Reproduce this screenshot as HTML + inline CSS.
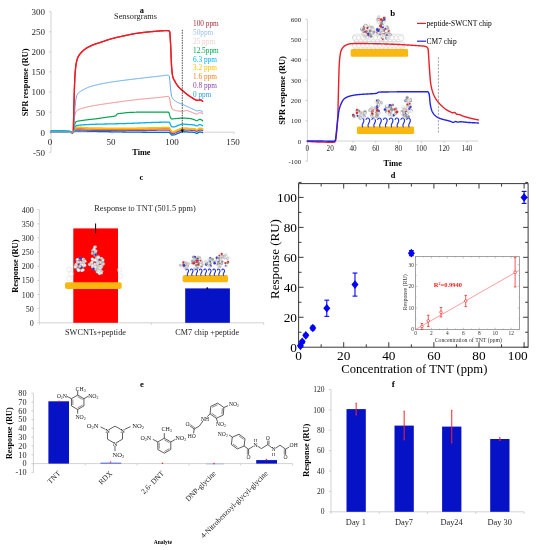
<!DOCTYPE html>
<html lang="en">
<head>
<meta charset="utf-8">
<title>SPR response figure</title>
<style>
html,body{margin:0;padding:0;background:#fff;}
body{width:538px;height:550px;overflow:hidden;font-family:"Liberation Serif","DejaVu Serif",serif;}
svg{display:block;filter:blur(0.3px);}
svg text{font-family:"Liberation Serif","DejaVu Serif",serif;}
</style>
</head>
<body>
<svg width="538" height="550" viewBox="0 0 538 550">
<rect x="0" y="0" width="538" height="550" fill="#ffffff"/>
<g id="panel-a">
<line x1="51" y1="11.69" x2="51" y2="152.28" stroke="#c6c6c6" stroke-width="0.8"/>
<line x1="51" y1="132.2" x2="234" y2="132.2" stroke="#c6c6c6" stroke-width="0.8"/>
<line x1="49" y1="152.28" x2="51" y2="152.28" stroke="#c6c6c6" stroke-width="0.8"/>
<text x="44.9" y="155.69" font-size="9" text-anchor="end" fill="#262626">-50</text>
<line x1="49" y1="132.2" x2="51" y2="132.2" stroke="#c6c6c6" stroke-width="0.8"/>
<text x="44.9" y="135.6" font-size="9" text-anchor="end" fill="#262626">0</text>
<line x1="49" y1="112.11" x2="51" y2="112.11" stroke="#c6c6c6" stroke-width="0.8"/>
<text x="44.9" y="115.51" font-size="9" text-anchor="end" fill="#262626">50</text>
<line x1="49" y1="92.03" x2="51" y2="92.03" stroke="#c6c6c6" stroke-width="0.8"/>
<text x="44.9" y="95.43" font-size="9" text-anchor="end" fill="#262626">100</text>
<line x1="49" y1="71.94" x2="51" y2="71.94" stroke="#c6c6c6" stroke-width="0.8"/>
<text x="44.9" y="75.34" font-size="9" text-anchor="end" fill="#262626">150</text>
<line x1="49" y1="51.86" x2="51" y2="51.86" stroke="#c6c6c6" stroke-width="0.8"/>
<text x="44.9" y="55.26" font-size="9" text-anchor="end" fill="#262626">200</text>
<line x1="49" y1="31.77" x2="51" y2="31.77" stroke="#c6c6c6" stroke-width="0.8"/>
<text x="44.9" y="35.17" font-size="9" text-anchor="end" fill="#262626">250</text>
<line x1="49" y1="11.69" x2="51" y2="11.69" stroke="#c6c6c6" stroke-width="0.8"/>
<text x="44.9" y="15.09" font-size="9" text-anchor="end" fill="#262626">300</text>
<line x1="51" y1="132.2" x2="51" y2="134.2" stroke="#c6c6c6" stroke-width="0.8"/>
<text x="50.1" y="145" font-size="9" text-anchor="middle" fill="#262626">0</text>
<line x1="112" y1="132.2" x2="112" y2="134.2" stroke="#c6c6c6" stroke-width="0.8"/>
<text x="111.1" y="145" font-size="9" text-anchor="middle" fill="#262626">50</text>
<line x1="173" y1="132.2" x2="173" y2="134.2" stroke="#c6c6c6" stroke-width="0.8"/>
<text x="172.1" y="145" font-size="9" text-anchor="middle" fill="#262626">100</text>
<line x1="234" y1="132.2" x2="234" y2="134.2" stroke="#c6c6c6" stroke-width="0.8"/>
<text x="233.1" y="145" font-size="9" text-anchor="middle" fill="#262626">150</text>
<text x="141.8" y="12.6" font-size="8.4" text-anchor="middle" font-weight="bold" fill="#000">a</text>
<text x="135.5" y="19.3" font-size="8.35" text-anchor="middle" fill="#262626">Sensorgrams</text>
<text x="141.4" y="154.8" font-size="8.3" text-anchor="middle" font-weight="bold" fill="#000">Time</text>
<text x="27.8" y="82.4" font-size="8.25" text-anchor="middle" font-weight="bold" fill="#000" transform="rotate(-90 27.8 82.4)">SPR response (RU)</text>
<polyline points="51,132.44 51.59,132.44 52.17,132.44 52.76,132.44 53.34,132.44 53.93,132.44 54.51,132.44 55.1,132.44 55.68,132.44 56.27,132.44 56.86,132.44 57.44,132.44 58.03,132.44 58.61,132.44 59.2,132.44 59.78,132.44 60.37,132.44 60.95,132.44 61.54,132.44 62.12,132.44 62.71,132.44 63.2,132.44 63.3,132.44 63.88,132.44 64.47,132.44 65.05,132.44 65.64,132.44 66.22,132.44 66.81,132.44 67.39,132.44 67.98,132.44 68.57,132.44 69.15,132.44 69.74,132.44 70.32,132.44 70.52,132.44 70.91,132.54 71.49,132.92 72.08,133.3 72.47,133.41 72.66,133.23 73.25,130.71 73.33,130.19 73.83,110.06 74.06,100.06 74.42,88.03 74.91,75.96 75.01,74.59 75.59,67.84 76.13,63.91 76.18,63.66 76.76,60.85 77.35,58.76 77.84,57.48 77.93,57.28 78.52,56.14 79.1,55.17 79.69,54.34 80.28,53.62 80.86,52.96 81.45,52.32 81.5,52.26 82.03,51.7 82.62,51.14 83.2,50.61 83.79,50.11 84.37,49.65 84.96,49.2 85.16,49.05 85.54,48.77 86.13,48.35 86.72,47.97 87.3,47.61 87.6,47.44 87.89,47.28 88.47,46.97 89.06,46.67 89.64,46.38 90.23,46.1 90.81,45.83 91.4,45.57 91.99,45.32 92.57,45.08 93.16,44.84 93.7,44.63 93.74,44.61 94.33,44.4 94.91,44.19 95.5,43.99 96.08,43.8 96.67,43.61 97.25,43.42 97.84,43.24 98.43,43.06 99.01,42.88 99.6,42.69 99.8,42.62 100.18,42.49 100.77,42.3 101.35,42.1 101.94,41.9 102.52,41.7 103.11,41.49 103.7,41.29 104.28,41.08 104.87,40.88 105.45,40.68 106.04,40.48 106.62,40.28 107.21,40.08 107.79,39.88 108.38,39.69 108.97,39.5 109.55,39.32 110.14,39.14 110.72,38.97 111.31,38.8 111.89,38.63 112,38.6 112.48,38.48 113.06,38.32 113.65,38.17 114.23,38.02 114.82,37.88 115.41,37.73 115.99,37.59 116.58,37.46 117.16,37.32 117.75,37.19 118.33,37.06 118.92,36.93 119.5,36.8 120.09,36.67 120.68,36.54 121.26,36.42 121.85,36.29 122.43,36.17 123.02,36.04 123.6,35.92 124.19,35.79 124.2,35.79 124.77,35.67 125.36,35.54 125.94,35.42 126.53,35.29 127.12,35.16 127.7,35.03 128.29,34.91 128.87,34.78 129.46,34.66 130.04,34.54 130.63,34.41 131.21,34.29 131.8,34.18 132.39,34.06 132.97,33.95 133.56,33.85 134.14,33.74 134.73,33.64 135.31,33.55 135.9,33.46 136.4,33.38 136.48,33.37 137.07,33.29 137.65,33.2 138.24,33.12 138.83,33.04 139.41,32.97 140,32.89 140.58,32.81 141.17,32.74 141.75,32.67 142.34,32.59 142.92,32.52 143.51,32.45 144.1,32.39 144.68,32.32 145.27,32.25 145.85,32.19 146.44,32.13 147.02,32.07 147.61,32.01 148.19,31.95 148.78,31.89 149.36,31.83 149.95,31.78 150.54,31.72 151.12,31.67 151.71,31.62 152.29,31.57 152.88,31.52 153.46,31.47 154.05,31.42 154.63,31.38 154.7,31.37 155.22,31.33 155.81,31.29 156.39,31.24 156.98,31.19 157.56,31.14 158.15,31.1 158.73,31.05 159.32,31 159.9,30.96 160.49,30.91 161.08,30.87 161.66,30.83 162.25,30.79 162.83,30.75 163.42,30.72 164,30.68 164.59,30.66 165.17,30.63 165.76,30.61 166.34,30.59 166.93,30.58 167.52,30.57 168.1,30.57 168.12,30.57 168.69,30.72 169.27,31.2 169.71,31.77 169.86,32.5 170.44,41.34 170.68,45.83 171.03,54.17 171.54,65.92 171.61,66.94 172.2,73.29 172.76,76.77 172.79,76.87 173.37,78.57 173.96,79.73 174.54,80.69 174.83,81.18 175.13,81.72 175.71,82.75 176.3,83.73 176.88,84.64 177.47,85.47 177.88,86 178.05,86.22 178.64,86.9 179.23,87.53 179.81,88.13 180.4,88.69 180.98,89.24 181.57,89.76 182.15,90.28 182.74,90.81 182.76,90.82 183.32,91.33 183.91,91.84 184.5,92.34 185.08,92.84 185.67,93.32 186.25,93.79 186.84,94.24 187.42,94.68 187.64,94.84 188.01,95.11 188.59,95.52 189.18,95.93 189.76,96.32 190.35,96.7 190.94,97.07 191.52,97.44 192.11,97.8 192.52,98.06 192.69,98.16 193.28,98.53 193.86,98.91 194.45,99.27 195.03,99.58 195.62,99.84 195.69,99.86 196.21,100.05 196.79,100.25 197.38,100.4 197.96,100.47 198.01,100.47 198.55,100.34 199.13,100.06 199.72,99.87 199.84,99.86 200.3,99.9 200.89,100.06 201.47,100.34 202.06,100.74 202.65,101.27" fill="none" stroke="#ed1c24" stroke-width="1.3" stroke-linejoin="round" stroke-linecap="round"/>
<polyline points="51,131.2 51.59,131.2 52.17,131.2 52.76,131.2 53.34,131.2 53.93,131.2 54.51,131.2 55.1,131.2 55.68,131.2 56.27,131.2 56.86,131.2 57.44,131.2 58.03,131.2 58.61,131.2 59.2,131.2 59.78,131.2 60.37,131.2 60.95,131.2 61.54,131.2 62.12,131.2 62.71,131.2 63.2,131.2 63.3,131.2 63.88,131.2 64.47,131.21 65.05,131.22 65.64,131.24 66.22,131.26 66.81,131.29 67.39,131.32 67.98,131.36 68.57,131.41 69.15,131.46 69.74,131.51 70.32,131.58 70.52,131.6 70.91,131.71 71.49,132.01 72.08,132.26 72.35,132.3 72.66,132.28 73.25,132.16 73.33,132.14 73.83,131.79 74.18,131.54 74.42,131.43 75.01,131.22 75.4,131.14 75.59,131.12 76.18,131.07 76.76,131.03 77.35,131 77.84,130.99 77.93,130.99 78.52,131 79.1,131 79.69,131.01 80.28,131.02 80.86,131.04 81.45,131.05 82.03,131.07 82.62,131.08 83.2,131.1 83.79,131.12 84.37,131.14 84.96,131.16 85.54,131.18 86.13,131.2 86.72,131.21 87.3,131.23 87.6,131.24 87.89,131.24 88.47,131.26 89.06,131.27 89.64,131.28 90.23,131.3 90.81,131.31 91.4,131.32 91.99,131.34 92.57,131.35 93.16,131.37 93.74,131.38 94.33,131.39 94.91,131.41 95.5,131.42 96.08,131.44 96.67,131.45 97.25,131.46 97.84,131.48 98.43,131.49 99.01,131.5 99.6,131.52 100.18,131.53 100.77,131.55 101.35,131.56 101.94,131.57 102.52,131.59 103.11,131.6 103.7,131.61 104.28,131.63 104.87,131.64 105.45,131.65 106.04,131.67 106.62,131.68 107.21,131.69 107.79,131.71 108.38,131.72 108.97,131.73 109.55,131.74 110.14,131.76 110.72,131.77 111.31,131.78 111.89,131.79 112.48,131.8 113.06,131.81 113.65,131.83 114.23,131.84 114.82,131.85 115.41,131.86 115.99,131.87 116.58,131.88 117.16,131.89 117.75,131.9 118.33,131.91 118.92,131.92 119.5,131.93 120.09,131.94 120.68,131.95 121.26,131.96 121.85,131.97 122.43,131.98 123.02,131.98 123.6,131.99 124.19,132 124.2,132 124.77,132.01 125.36,132.01 125.94,132.02 126.53,132.03 127.12,132.04 127.7,132.04 128.29,132.05 128.87,132.06 129.46,132.07 130.04,132.08 130.63,132.08 131.21,132.09 131.8,132.1 132.39,132.11 132.97,132.11 133.56,132.12 134.14,132.13 134.73,132.14 135.31,132.14 135.9,132.15 136.48,132.16 137.07,132.17 137.65,132.17 138.24,132.18 138.83,132.19 139.41,132.19 140,132.2 140.58,132.21 141.17,132.21 141.75,132.22 142.34,132.23 142.92,132.24 143.51,132.24 144.1,132.25 144.68,132.25 145.27,132.26 145.85,132.27 146.44,132.27 147.02,132.28 147.61,132.29 148.19,132.29 148.78,132.3 149.36,132.3 149.95,132.31 150.54,132.31 151.12,132.32 151.71,132.32 152.29,132.33 152.88,132.33 153.46,132.34 154.05,132.34 154.63,132.35 155.22,132.35 155.81,132.36 156.39,132.36 156.98,132.36 157.56,132.37 158.15,132.37 158.73,132.37 159.32,132.38 159.9,132.38 160.49,132.38 161.08,132.39 161.66,132.39 162.25,132.39 162.83,132.39 163.42,132.39 164,132.4 164.59,132.4 165.17,132.4 165.76,132.4 166.34,132.4 166.93,132.4 167.52,132.4 168.1,132.4 168.12,132.4 168.69,132.4 169.27,132.4 169.34,132.4 169.86,132.86 170.44,133.71 170.44,133.71 171.03,134.44 171.61,134.98 171.78,135.01 172.2,135.01 172.79,134.98 173.37,134.94 173.61,134.93 173.96,134.89 174.54,134.75 175.13,134.55 175.71,134.31 176.3,134.04 176.88,133.77 177.47,133.52 177.88,133.36 178.05,133.3 178.64,133.07 179.23,132.81 179.81,132.55 180.4,132.3 180.98,132.07 181.57,131.89 182.15,131.76 182.74,131.72 182.76,131.72 183.32,131.72 183.91,131.74 184.5,131.76 185.08,131.8 185.67,131.83 186.25,131.88 186.84,131.92 187.42,131.96 188.01,132 188.59,132.04 188.86,132.06 189.18,132.08 189.76,132.11 190.35,132.13 190.94,132.16 191.52,132.18 192.11,132.21 192.69,132.25 193.28,132.29 193.86,132.35 194.35,132.4 194.45,132.42 195.03,132.64 195.62,132.97 196.21,133.27 196.79,133.41 196.79,133.41 197.38,133.25 197.96,132.87 198.55,132.44 199.13,132.1 199.6,132 199.72,132 200.3,132.03 200.89,132.1 201.47,132.24 202.06,132.47 202.65,132.8" fill="none" stroke="#0070c0" stroke-width="1.3" stroke-linejoin="round" stroke-linecap="round"/>
<polyline points="51,131.6 51.59,131.6 52.17,131.6 52.76,131.6 53.34,131.6 53.93,131.6 54.51,131.6 55.1,131.6 55.68,131.6 56.27,131.6 56.86,131.6 57.44,131.6 58.03,131.6 58.61,131.6 59.2,131.6 59.78,131.6 60.37,131.6 60.95,131.6 61.54,131.6 62.12,131.6 62.71,131.6 63.2,131.6 63.3,131.6 63.88,131.6 64.47,131.6 65.05,131.61 65.64,131.62 66.22,131.63 66.81,131.65 67.39,131.67 67.98,131.69 68.57,131.72 69.15,131.75 69.74,131.79 70.32,131.82 70.52,131.84 70.91,131.92 71.49,132.17 72.08,132.39 72.35,132.42 72.66,132.38 73.25,132.12 73.33,132.08 73.83,131.37 74.18,130.87 74.42,130.66 75.01,130.24 75.4,130.08 75.59,130.04 76.18,129.93 76.76,129.85 77.35,129.8 77.84,129.79 77.93,129.79 78.52,129.79 79.1,129.81 79.69,129.82 80.28,129.85 80.86,129.87 81.45,129.9 82.03,129.94 82.62,129.97 83.2,130.01 83.79,130.04 84.37,130.07 84.96,130.1 85.54,130.13 86.13,130.15 86.72,130.17 87.3,130.19 87.6,130.19 87.89,130.19 88.47,130.2 89.06,130.21 89.64,130.21 90.23,130.22 90.81,130.23 91.4,130.23 91.99,130.24 92.57,130.24 93.16,130.25 93.74,130.25 94.33,130.26 94.91,130.27 95.5,130.27 96.08,130.28 96.67,130.28 97.25,130.29 97.84,130.29 98.43,130.29 99.01,130.3 99.6,130.3 100.18,130.31 100.77,130.31 101.35,130.32 101.94,130.32 102.52,130.32 103.11,130.33 103.7,130.33 104.28,130.33 104.87,130.34 105.45,130.34 106.04,130.34 106.62,130.35 107.21,130.35 107.79,130.35 108.38,130.36 108.97,130.36 109.55,130.36 110.14,130.36 110.72,130.37 111.31,130.37 111.89,130.37 112.48,130.37 113.06,130.37 113.65,130.38 114.23,130.38 114.82,130.38 115.41,130.38 115.99,130.38 116.58,130.38 117.16,130.39 117.75,130.39 118.33,130.39 118.92,130.39 119.5,130.39 120.09,130.39 120.68,130.39 121.26,130.39 121.85,130.39 122.43,130.39 123.02,130.39 123.6,130.39 124.19,130.39 124.2,130.39 124.77,130.39 125.36,130.39 125.94,130.39 126.53,130.39 127.12,130.39 127.7,130.39 128.29,130.39 128.87,130.39 129.46,130.38 130.04,130.38 130.63,130.38 131.21,130.38 131.8,130.38 132.39,130.37 132.97,130.37 133.56,130.37 134.14,130.37 134.73,130.36 135.31,130.36 135.9,130.36 136.48,130.35 137.07,130.35 137.65,130.35 138.24,130.34 138.83,130.34 139.41,130.34 140,130.33 140.58,130.33 141.17,130.33 141.75,130.32 142.34,130.32 142.92,130.31 143.51,130.31 144.1,130.31 144.68,130.3 145.27,130.3 145.85,130.29 146.44,130.29 147.02,130.29 147.61,130.28 148.19,130.28 148.78,130.27 149.36,130.27 149.95,130.27 150.54,130.26 151.12,130.26 151.71,130.25 152.29,130.25 152.88,130.25 153.46,130.24 154.05,130.24 154.63,130.24 155.22,130.23 155.81,130.23 156.39,130.23 156.98,130.22 157.56,130.22 158.15,130.22 158.73,130.22 159.32,130.21 159.9,130.21 160.49,130.21 161.08,130.21 161.66,130.2 162.25,130.2 162.83,130.2 163.42,130.2 164,130.2 164.59,130.2 165.17,130.19 165.76,130.19 166.34,130.19 166.93,130.19 167.52,130.19 168.1,130.19 168.12,130.19 168.69,130.2 169.27,130.21 169.34,130.21 169.86,130.77 170.44,131.8 170.44,131.81 171.03,132.7 171.61,133.36 171.78,133.41 172.2,133.4 172.79,133.39 173.37,133.38 173.61,133.37 173.96,133.34 174.54,133.2 175.13,132.99 175.71,132.73 176.3,132.44 176.88,132.14 177.47,131.86 177.88,131.7 178.05,131.63 178.64,131.39 179.23,131.12 179.81,130.85 180.4,130.59 180.98,130.35 181.57,130.17 182.15,130.04 182.74,129.99 182.76,129.99 183.32,129.99 183.91,130 184.5,130.02 185.08,130.04 185.67,130.06 186.25,130.08 186.84,130.11 187.42,130.13 188.01,130.16 188.59,130.18 188.86,130.19 189.18,130.2 189.76,130.22 190.35,130.23 190.94,130.25 191.52,130.26 192.11,130.28 192.69,130.3 193.28,130.33 193.86,130.36 194.35,130.39 194.45,130.4 195.03,130.61 195.62,130.95 196.21,131.26 196.79,131.4 196.79,131.4 197.38,131.24 197.96,130.87 198.55,130.43 199.13,130.09 199.6,129.99 199.72,129.99 200.3,130 200.89,130.05 201.47,130.15 202.06,130.32 202.65,130.59" fill="none" stroke="#8e44ad" stroke-width="1.3" stroke-linejoin="round" stroke-linecap="round"/>
<polyline points="51,132.08 51.59,132.08 52.17,132.08 52.76,132.08 53.34,132.08 53.93,132.08 54.51,132.08 55.1,132.08 55.68,132.08 56.27,132.08 56.86,132.08 57.44,132.08 58.03,132.08 58.61,132.08 59.2,132.08 59.78,132.08 60.37,132.08 60.95,132.08 61.54,132.08 62.12,132.08 62.71,132.08 63.2,132.08 63.3,132.08 63.88,132.08 64.47,132.08 65.05,132.08 65.64,132.08 66.22,132.09 66.81,132.09 67.39,132.09 67.98,132.1 68.57,132.1 69.15,132.11 69.74,132.12 70.32,132.12 70.52,132.13 70.91,132.18 71.49,132.37 72.08,132.54 72.35,132.57 72.66,132.49 73.25,132.08 73.33,132.01 73.83,130.88 74.18,130.1 74.42,129.76 75.01,129.09 75.4,128.84 75.59,128.78 76.18,128.61 76.76,128.48 77.35,128.4 77.84,128.38 77.93,128.38 78.52,128.39 79.1,128.41 79.69,128.43 80.28,128.47 80.86,128.51 81.45,128.55 82.03,128.6 82.62,128.65 83.2,128.7 83.79,128.75 84.37,128.8 84.96,128.85 85.54,128.89 86.13,128.93 86.72,128.96 87.3,128.98 87.6,128.99 87.89,128.99 88.47,129 89.06,129.02 89.64,129.03 90.23,129.04 90.81,129.05 91.4,129.06 91.99,129.08 92.57,129.09 93.16,129.1 93.74,129.11 94.33,129.12 94.91,129.13 95.5,129.14 96.08,129.15 96.67,129.16 97.25,129.17 97.84,129.18 98.43,129.19 99.01,129.2 99.6,129.2 100.18,129.21 100.77,129.22 101.35,129.23 101.94,129.24 102.52,129.25 103.11,129.25 103.7,129.26 104.28,129.27 104.87,129.27 105.45,129.28 106.04,129.29 106.62,129.29 107.21,129.3 107.79,129.31 108.38,129.31 108.97,129.32 109.55,129.32 110.14,129.33 110.72,129.33 111.31,129.34 111.89,129.34 112.48,129.35 113.06,129.35 113.65,129.35 114.23,129.36 114.82,129.36 115.41,129.36 115.99,129.37 116.58,129.37 117.16,129.37 117.75,129.38 118.33,129.38 118.92,129.38 119.5,129.38 120.09,129.38 120.68,129.38 121.26,129.39 121.85,129.39 122.43,129.39 123.02,129.39 123.6,129.39 124.19,129.39 124.2,129.39 124.77,129.39 125.36,129.39 125.94,129.39 126.53,129.38 127.12,129.38 127.7,129.38 128.29,129.37 128.87,129.37 129.46,129.36 130.04,129.36 130.63,129.35 131.21,129.35 131.8,129.34 132.39,129.33 132.97,129.33 133.56,129.32 134.14,129.31 134.73,129.3 135.31,129.29 135.9,129.28 136.48,129.27 137.07,129.26 137.65,129.25 138.24,129.24 138.83,129.23 139.41,129.22 140,129.21 140.58,129.2 141.17,129.19 141.75,129.18 142.34,129.16 142.92,129.15 143.51,129.14 144.1,129.13 144.68,129.12 145.27,129.11 145.85,129.09 146.44,129.08 147.02,129.07 147.61,129.06 148.19,129.05 148.78,129.03 149.36,129.02 149.95,129.01 150.54,129 151.12,128.99 151.71,128.98 152.29,128.96 152.88,128.95 153.46,128.94 154.05,128.93 154.63,128.92 155.22,128.91 155.81,128.9 156.39,128.89 156.98,128.88 157.56,128.87 158.15,128.86 158.73,128.86 159.32,128.85 159.9,128.84 160.49,128.83 161.08,128.83 161.66,128.82 162.25,128.81 162.83,128.81 163.42,128.8 164,128.8 164.59,128.8 165.17,128.79 165.76,128.79 166.34,128.79 166.93,128.79 167.52,128.79 168.1,128.79 168.12,128.79 168.69,128.79 169.27,128.82 169.34,128.82 169.86,129.38 170.44,130.39 170.44,130.4 171.03,131.29 171.61,131.95 171.78,132 172.2,132 172.79,132 173.37,132.01 173.61,132.01 173.96,131.98 174.54,131.85 175.13,131.63 175.71,131.35 176.3,131.04 176.88,130.72 177.47,130.43 177.88,130.25 178.05,130.18 178.64,129.93 179.23,129.66 179.81,129.38 180.4,129.11 180.98,128.87 181.57,128.68 182.15,128.55 182.74,128.5 182.76,128.5 183.32,128.51 183.91,128.51 184.5,128.52 185.08,128.54 185.67,128.55 186.25,128.57 186.84,128.59 187.42,128.6 188.01,128.62 188.59,128.64 188.86,128.64 189.18,128.65 189.76,128.66 190.35,128.67 190.94,128.68 191.52,128.69 192.11,128.7 192.69,128.72 193.28,128.74 193.86,128.76 194.35,128.79 194.45,128.8 195.03,129 195.62,129.33 196.21,129.65 196.79,129.79 196.79,129.79 197.38,129.63 197.96,129.26 198.55,128.83 199.13,128.49 199.6,128.38 199.72,128.38 200.3,128.41 200.89,128.49 201.47,128.63 202.06,128.86 202.65,129.19" fill="none" stroke="#f58220" stroke-width="1.5" stroke-linejoin="round" stroke-linecap="round"/>
<polyline points="51,131.8 51.59,131.8 52.17,131.8 52.76,131.8 53.34,131.8 53.93,131.8 54.51,131.8 55.1,131.8 55.68,131.8 56.27,131.8 56.86,131.8 57.44,131.8 58.03,131.8 58.61,131.8 59.2,131.8 59.78,131.8 60.37,131.8 60.95,131.8 61.54,131.8 62.12,131.8 62.71,131.8 63.2,131.8 63.3,131.8 63.88,131.8 64.47,131.8 65.05,131.81 65.64,131.81 66.22,131.82 66.81,131.83 67.39,131.85 67.98,131.86 68.57,131.88 69.15,131.9 69.74,131.92 70.32,131.95 70.52,131.96 70.91,132.03 71.49,132.26 72.08,132.45 72.35,132.48 72.66,132.42 73.25,132.02 73.33,131.95 73.83,130.49 74.18,129.44 74.42,128.99 75.01,128.11 75.4,127.78 75.59,127.7 76.18,127.47 76.76,127.31 77.35,127.21 77.84,127.18 77.93,127.18 78.52,127.19 79.1,127.21 79.69,127.24 80.28,127.28 80.86,127.32 81.45,127.37 82.03,127.43 82.62,127.48 83.2,127.54 83.79,127.6 84.37,127.66 84.96,127.71 85.54,127.76 86.13,127.8 86.72,127.83 87.3,127.85 87.6,127.86 87.89,127.87 88.47,127.88 89.06,127.89 89.64,127.91 90.23,127.92 90.81,127.93 91.4,127.94 91.99,127.95 92.57,127.96 93.16,127.97 93.74,127.99 94.33,128 94.91,128.01 95.5,128.02 96.08,128.03 96.67,128.04 97.25,128.05 97.84,128.06 98.43,128.06 99.01,128.07 99.6,128.08 100.18,128.09 100.77,128.1 101.35,128.11 101.94,128.12 102.52,128.12 103.11,128.13 103.7,128.14 104.28,128.14 104.87,128.15 105.45,128.16 106.04,128.17 106.62,128.17 107.21,128.18 107.79,128.18 108.38,128.19 108.97,128.19 109.55,128.2 110.14,128.2 110.72,128.21 111.31,128.21 111.89,128.22 112.48,128.22 113.06,128.23 113.65,128.23 114.23,128.23 114.82,128.24 115.41,128.24 115.99,128.24 116.58,128.25 117.16,128.25 117.75,128.25 118.33,128.25 118.92,128.26 119.5,128.26 120.09,128.26 120.68,128.26 121.26,128.26 121.85,128.26 122.43,128.26 123.02,128.26 123.6,128.26 124.19,128.26 124.2,128.26 124.77,128.26 125.36,128.26 125.94,128.26 126.53,128.26 127.12,128.25 127.7,128.25 128.29,128.25 128.87,128.24 129.46,128.24 130.04,128.23 130.63,128.22 131.21,128.22 131.8,128.21 132.39,128.2 132.97,128.19 133.56,128.18 134.14,128.17 134.73,128.16 135.31,128.15 135.9,128.14 136.48,128.13 137.07,128.12 137.65,128.11 138.24,128.1 138.83,128.09 139.41,128.07 140,128.06 140.58,128.05 141.17,128.04 141.75,128.02 142.34,128.01 142.92,128 143.51,127.98 144.1,127.97 144.68,127.96 145.27,127.94 145.85,127.93 146.44,127.92 147.02,127.9 147.61,127.89 148.19,127.87 148.78,127.86 149.36,127.85 149.95,127.83 150.54,127.82 151.12,127.81 151.71,127.8 152.29,127.78 152.88,127.77 153.46,127.76 154.05,127.75 154.63,127.73 155.22,127.72 155.81,127.71 156.39,127.7 156.98,127.69 157.56,127.68 158.15,127.67 158.73,127.66 159.32,127.65 159.9,127.64 160.49,127.64 161.08,127.63 161.66,127.62 162.25,127.61 162.83,127.61 163.42,127.6 164,127.6 164.59,127.59 165.17,127.59 165.76,127.59 166.34,127.58 166.93,127.58 167.52,127.58 168.1,127.58 168.12,127.58 168.69,127.59 169.27,127.62 169.34,127.63 169.86,128.29 170.44,129.49 170.44,129.5 171.03,130.56 171.61,131.34 171.78,131.4 172.2,131.41 172.79,131.42 173.37,131.42 173.61,131.42 173.96,131.4 174.54,131.28 175.13,131.07 175.71,130.81 176.3,130.52 176.88,130.22 177.47,129.95 177.88,129.79 178.05,129.73 178.64,129.49 179.23,129.24 179.81,128.98 180.4,128.74 180.98,128.52 181.57,128.35 182.15,128.23 182.74,128.18 182.76,128.18 183.32,128.19 183.91,128.2 184.5,128.22 185.08,128.25 185.67,128.29 186.25,128.32 186.84,128.36 187.42,128.4 188.01,128.44 188.59,128.47 188.86,128.48 189.18,128.5 189.76,128.53 190.35,128.55 190.94,128.57 191.52,128.59 192.11,128.62 192.69,128.65 193.28,128.69 193.86,128.74 194.35,128.79 194.45,128.8 195.03,129.02 195.62,129.35 196.21,129.66 196.79,129.79 196.79,129.79 197.38,129.63 197.96,129.26 198.55,128.83 199.13,128.49 199.6,128.38 199.72,128.38 200.3,128.4 200.89,128.44 201.47,128.54 202.06,128.71 202.65,128.99" fill="none" stroke="#ffc000" stroke-width="1.5" stroke-linejoin="round" stroke-linecap="round"/>
<polyline points="51,132 51.59,132 52.17,132 52.76,132 53.34,132 53.93,132 54.51,132 55.1,132 55.68,132 56.27,132 56.86,132 57.44,132 58.03,132 58.61,132 59.2,132 59.78,132 60.37,132 60.95,132 61.54,132 62.12,132 62.71,132 63.3,132 63.88,132 64.47,132 65.05,132 65.64,132 66.22,132 66.81,132 67.39,132 67.98,132 68.57,132 69.15,132 69.74,132 70.32,132 70.52,132 70.91,132.05 71.49,132.22 72.08,132.38 72.35,132.4 72.66,132.29 73.25,131.58 73.57,130.99 73.83,129.8 74.42,125.53 74.55,124.97 75.01,123.54 75.59,122.21 76.01,121.76 76.18,121.68 76.76,121.44 77.35,121.26 77.93,121.13 78.52,121.02 79.1,120.93 79.69,120.85 80.28,120.75 80.28,120.75 80.86,120.65 81.45,120.56 82.03,120.47 82.62,120.38 83.2,120.3 83.79,120.22 84.37,120.14 84.96,120.07 85.54,120 86.13,119.93 86.72,119.85 87.3,119.78 87.6,119.75 87.89,119.71 88.47,119.64 89.06,119.58 89.64,119.52 90.23,119.45 90.81,119.39 91.4,119.33 91.99,119.27 92.57,119.21 93.16,119.15 93.74,119.08 94.33,119.02 94.91,118.94 94.92,118.94 95.5,118.87 96.08,118.79 96.67,118.72 97.25,118.63 97.84,118.55 98.43,118.47 99.01,118.38 99.6,118.29 100.18,118.2 100.77,118.12 101.35,118.03 101.94,117.94 102.52,117.85 103.11,117.76 103.7,117.67 104.28,117.58 104.87,117.49 105.45,117.4 105.9,117.34 106.04,117.32 106.62,117.24 107.21,117.16 107.79,117.09 108.38,117.02 108.97,116.95 109.55,116.88 110.14,116.81 110.72,116.73 111.31,116.66 111.89,116.58 112.48,116.49 113.06,116.4 113.65,116.3 114.23,116.18 114.82,116.06 115.05,116.01 115.41,115.92 115.9,115.73 115.99,115.67 116.58,114.79 117.16,113.96 117.25,113.92 117.75,113.78 118.33,113.66 118.92,113.58 119.5,113.51 120.09,113.45 120.54,113.4 120.68,113.38 121.26,113.31 121.85,113.24 122.43,113.17 123.02,113.09 123.6,113.02 124.19,112.95 124.77,112.88 125.36,112.82 125.94,112.75 126.53,112.69 127.12,112.64 127.7,112.58 128.29,112.53 128.87,112.48 129.46,112.44 130.04,112.4 130.63,112.37 131.21,112.35 131.8,112.32 132.13,112.32 132.39,112.31 132.97,112.3 133.56,112.28 134.14,112.27 134.73,112.26 135.31,112.24 135.9,112.23 136.48,112.22 137.07,112.21 137.65,112.2 138.24,112.19 138.83,112.18 139.41,112.17 140,112.16 140.58,112.15 141.17,112.14 141.75,112.13 142.34,112.12 142.92,112.11 143.51,112.11 144.1,112.1 144.68,112.09 145.27,112.09 145.85,112.08 146.44,112.07 147.02,112.07 147.61,112.06 148.19,112.06 148.78,112.06 149.36,112.05 149.95,112.05 150.54,112.04 151.12,112.04 151.71,112.04 152.29,112.04 152.88,112.04 153.46,112.04 154.05,112.03 154.63,112.03 154.7,112.03 155.22,112.03 155.81,112.03 156.39,112.04 156.98,112.04 157.56,112.04 158.15,112.04 158.73,112.04 159.32,112.04 159.9,112.04 160.49,112.04 161.08,112.05 161.66,112.05 162.25,112.05 162.83,112.06 163.42,112.06 164,112.07 164.59,112.07 165.17,112.08 165.76,112.08 166.34,112.09 166.93,112.1 167.52,112.11 167.88,112.11 168.1,112.14 168.69,112.41 168.85,112.52 169.27,113.54 169.86,115.9 170.07,116.53 170.44,117.38 171.03,118.53 171.54,118.94 171.61,118.94 172.2,118.92 172.79,118.88 173.37,118.82 173.96,118.76 174.22,118.74 174.54,118.72 175.13,118.67 175.71,118.62 176.3,118.57 176.88,118.51 177.47,118.46 178.05,118.4 178.64,118.35 179.23,118.3 179.81,118.26 180.4,118.22 180.98,118.19 181.57,118.16 182.15,118.15 182.74,118.14 182.76,118.14 183.32,118.14 183.91,118.15 184.5,118.17 185.08,118.19 185.67,118.21 186.25,118.24 186.84,118.28 187.42,118.32 188.01,118.36 188.59,118.41 189.18,118.46 189.76,118.51 190.08,118.54 190.35,118.57 190.94,118.67 191.52,118.81 192.11,118.98 192.69,119.17 193.28,119.37 193.86,119.58 194.35,119.75 194.45,119.78 195.03,120.06 195.62,120.38 196.21,120.64 196.79,120.75 196.79,120.75 197.38,120.59 197.96,120.22 198.55,119.79 199.13,119.45 199.6,119.35 199.72,119.35 200.3,119.42 200.89,119.59 201.47,119.86 202.06,120.25 202.65,120.75" fill="none" stroke="#00a651" stroke-width="1.2" stroke-linejoin="round" stroke-linecap="round"/>
<polyline points="51,130.75 51.59,130.75 52.17,130.75 52.76,130.75 53.34,130.75 53.93,130.75 54.51,130.75 55.1,130.75 55.68,130.75 56.27,130.75 56.86,130.75 57.44,130.75 58.03,130.75 58.61,130.75 59.2,130.75 59.78,130.75 60.37,130.75 60.95,130.75 61.54,130.75 62.12,130.75 62.71,130.75 63.2,130.75 63.3,130.75 63.88,130.76 64.47,130.77 65.05,130.79 65.64,130.82 66.22,130.85 66.81,130.9 67.39,130.95 67.98,131 68.57,131.07 69.15,131.14 69.74,131.22 70.32,131.3 70.52,131.33 70.91,131.47 71.49,131.82 72.08,132.12 72.35,132.17 72.66,132.13 73.25,131.9 73.33,131.86 73.83,129.93 74.18,128.44 74.42,127.84 75.01,126.63 75.4,126.19 75.59,126.08 76.18,125.8 76.76,125.6 77.35,125.46 77.84,125.37 77.93,125.36 78.52,125.27 79.1,125.2 79.69,125.13 80.28,125.06 80.86,125 81.45,124.95 82.03,124.9 82.62,124.85 83.2,124.81 83.79,124.77 84.37,124.73 84.96,124.7 85.54,124.67 86.13,124.64 86.72,124.61 87.3,124.58 87.6,124.57 87.89,124.55 88.47,124.53 89.06,124.5 89.64,124.48 90.23,124.45 90.81,124.43 91.4,124.41 91.99,124.39 92.57,124.37 93.16,124.34 93.74,124.32 94.33,124.3 94.91,124.28 95.5,124.27 96.08,124.25 96.67,124.23 97.25,124.21 97.84,124.19 98.43,124.18 99.01,124.16 99.6,124.15 100.18,124.13 100.77,124.11 101.35,124.1 101.94,124.09 102.52,124.07 103.11,124.06 103.7,124.04 104.28,124.03 104.87,124.02 105.45,124 106.04,123.99 106.62,123.98 107.21,123.96 107.79,123.95 108.38,123.94 108.97,123.93 109.55,123.91 110.14,123.9 110.72,123.89 111.31,123.87 111.89,123.86 112.48,123.85 113.06,123.84 113.65,123.82 114.23,123.81 114.82,123.8 115.41,123.79 115.99,123.77 116.58,123.76 117.16,123.75 117.75,123.73 118.33,123.72 118.92,123.7 119.5,123.69 120.09,123.68 120.68,123.66 121.26,123.65 121.85,123.63 122.43,123.61 123.02,123.6 123.6,123.58 124.19,123.56 124.2,123.56 124.77,123.55 125.36,123.53 125.94,123.51 126.53,123.49 127.12,123.47 127.7,123.45 128.29,123.43 128.87,123.41 129.46,123.39 130.04,123.37 130.63,123.34 131.21,123.32 131.8,123.3 132.39,123.28 132.97,123.25 133.56,123.23 134.14,123.2 134.73,123.18 135.31,123.16 135.9,123.13 136.48,123.11 137.07,123.08 137.65,123.06 138.24,123.03 138.83,123.01 139.41,122.98 140,122.96 140.58,122.93 141.17,122.91 141.75,122.88 142.34,122.86 142.92,122.83 143.51,122.81 144.1,122.78 144.68,122.76 145.27,122.74 145.85,122.71 146.44,122.69 147.02,122.66 147.61,122.64 148.19,122.62 148.78,122.59 149.36,122.57 149.95,122.55 150.54,122.53 151.12,122.51 151.71,122.49 152.29,122.47 152.88,122.45 153.46,122.43 154.05,122.41 154.63,122.39 155.22,122.37 155.81,122.35 156.39,122.34 156.98,122.32 157.56,122.31 158.15,122.29 158.73,122.28 159.32,122.26 159.9,122.25 160.49,122.24 161.08,122.23 161.66,122.22 162.25,122.21 162.83,122.2 163.42,122.19 164,122.18 164.59,122.18 165.17,122.17 165.76,122.17 166.34,122.16 166.93,122.16 167.52,122.16 168.1,122.16 168.12,122.16 168.69,122.18 169.27,122.25 169.34,122.26 169.86,123.05 170.44,124.47 170.44,124.48 171.03,125.73 171.61,126.69 171.78,126.78 172.2,126.84 172.79,126.91 173.37,126.94 173.61,126.94 173.96,126.92 174.54,126.81 175.13,126.62 175.71,126.38 176.3,126.12 176.88,125.85 177.47,125.61 177.88,125.47 178.05,125.42 178.64,125.22 179.23,125.02 179.81,124.81 180.4,124.61 180.98,124.44 181.57,124.3 182.15,124.2 182.74,124.17 182.76,124.17 183.32,124.17 183.91,124.19 184.5,124.22 185.08,124.26 185.67,124.3 186.25,124.35 186.84,124.4 187.42,124.45 188.01,124.5 188.59,124.55 188.86,124.57 189.18,124.59 189.76,124.62 190.35,124.66 190.94,124.69 191.52,124.72 192.11,124.75 192.69,124.8 193.28,124.85 193.86,124.91 194.35,124.97 194.45,124.99 195.03,125.21 195.62,125.54 196.21,125.84 196.79,125.97 196.79,125.97 197.38,125.82 197.96,125.44 198.55,125.01 199.13,124.67 199.6,124.57 199.72,124.57 200.3,124.62 200.89,124.76 201.47,124.99 202.06,125.33 202.65,125.77" fill="none" stroke="#00b0f0" stroke-width="1.3" stroke-linejoin="round" stroke-linecap="round"/>
<polyline points="51,132.2 51.59,132.2 52.17,132.2 52.76,132.2 53.34,132.2 53.93,132.2 54.51,132.2 55.1,132.2 55.68,132.2 56.27,132.2 56.86,132.2 57.44,132.2 58.03,132.2 58.61,132.2 59.2,132.2 59.78,132.2 60.37,132.2 60.95,132.2 61.54,132.2 62.12,132.2 62.71,132.2 63.3,132.2 63.88,132.2 64.47,132.2 65.05,132.2 65.64,132.2 66.22,132.2 66.81,132.2 67.39,132.2 67.98,132.2 68.57,132.2 69.15,132.2 69.74,132.2 70.32,132.2 70.52,132.2 70.91,132.25 71.49,132.42 72.08,132.58 72.35,132.6 72.66,132.41 73.25,131.2 73.45,130.59 73.83,126.49 74.42,118.17 74.42,118.14 75.01,114.42 75.59,112.21 75.64,112.11 76.18,111.37 76.76,110.8 77.35,110.4 77.84,110.11 77.93,110.05 78.52,109.72 79.1,109.43 79.69,109.16 80.28,108.92 80.86,108.7 81.45,108.5 82.03,108.31 82.62,108.13 82.72,108.1 83.2,107.96 83.79,107.79 84.37,107.63 84.96,107.48 85.54,107.34 86.13,107.2 86.72,107.06 87.3,106.93 87.89,106.8 88.47,106.68 89.06,106.56 89.64,106.45 90.23,106.33 90.81,106.22 91.4,106.11 91.99,106 92.57,105.89 93.16,105.79 93.7,105.69 93.74,105.68 94.33,105.57 94.91,105.47 95.5,105.37 96.08,105.26 96.67,105.16 97.25,105.07 97.84,104.97 98.43,104.87 99.01,104.78 99.6,104.69 100.18,104.59 100.77,104.5 101.35,104.41 101.94,104.32 102.52,104.24 103.11,104.15 103.7,104.06 104.28,103.98 104.87,103.89 105.45,103.81 106.04,103.72 106.62,103.64 107.21,103.56 107.79,103.47 108.38,103.39 108.97,103.31 109.55,103.22 110.14,103.14 110.72,103.06 111.31,102.97 111.89,102.89 112,102.88 112.48,102.81 113.06,102.72 113.65,102.64 114.23,102.56 114.82,102.48 115.41,102.39 115.99,102.31 116.58,102.23 117.16,102.15 117.75,102.06 118.33,101.98 118.92,101.9 119.5,101.82 120.09,101.74 120.68,101.66 121.26,101.58 121.85,101.5 122.43,101.42 123.02,101.34 123.6,101.26 124.19,101.18 124.77,101.1 125.36,101.03 125.94,100.95 126.53,100.87 127.12,100.79 127.7,100.72 128.29,100.64 128.87,100.57 129.46,100.49 130.04,100.42 130.63,100.35 131.21,100.28 131.8,100.2 132.39,100.13 132.97,100.06 133.56,99.99 134.14,99.92 134.73,99.85 135.31,99.79 135.9,99.72 136.4,99.66 136.48,99.65 137.07,99.59 137.65,99.52 138.24,99.46 138.83,99.4 139.41,99.33 140,99.27 140.58,99.21 141.17,99.15 141.75,99.09 142.34,99.03 142.92,98.98 143.51,98.92 144.1,98.86 144.68,98.8 145.27,98.75 145.85,98.69 146.44,98.64 147.02,98.58 147.61,98.53 148.19,98.47 148.78,98.42 149.36,98.36 149.95,98.31 150.54,98.25 151.12,98.2 151.71,98.14 152.29,98.09 152.88,98.03 153.46,97.98 154.05,97.92 154.63,97.87 155.22,97.81 155.81,97.75 156.39,97.7 156.98,97.64 157.56,97.58 158.15,97.52 158.73,97.46 159.32,97.41 159.9,97.35 160.49,97.28 160.8,97.25 161.08,97.22 161.66,97.15 162.25,97.07 162.83,96.99 163.42,96.9 164,96.82 164.59,96.74 165.17,96.66 165.76,96.59 166.34,96.53 166.93,96.49 167.52,96.46 168.1,96.45 168.12,96.45 168.69,96.64 169.27,97.17 169.34,97.25 169.86,99.59 170.44,103.54 170.56,104.08 171.03,105.93 171.61,107.9 172.15,108.9 172.2,108.95 172.79,109.42 173.37,109.79 173.96,110.07 174.54,110.29 175.13,110.44 175.44,110.51 175.71,110.56 176.3,110.67 176.88,110.77 177.47,110.87 178.05,110.95 178.64,111.03 179.23,111.1 179.81,111.16 180.4,111.22 180.98,111.26 181.57,111.29 182.15,111.3 182.74,111.31 182.76,111.31 183.32,111.26 183.91,111.12 184.5,110.94 185.08,110.75 185.67,110.6 186.25,110.51 186.42,110.51 186.84,110.53 187.42,110.63 188.01,110.79 188.59,111 189.18,111.25 189.76,111.5 190.35,111.75 190.94,111.99 191.3,112.11 191.52,112.19 192.11,112.41 192.69,112.66 193.28,112.92 193.86,113.17 194.45,113.41 195.03,113.61 195.62,113.78 196.21,113.88 196.79,113.92 196.79,113.92 197.38,113.79 197.96,113.47 198.55,113.1 199.13,112.81 199.6,112.72 199.72,112.72 200.3,112.76 200.89,112.88 201.47,113.07 202.06,113.35 202.65,113.72" fill="none" stroke="#f08888" stroke-width="1" stroke-linejoin="round" stroke-linecap="round"/>
<polyline points="51,132.2 51.59,132.2 52.17,132.2 52.76,132.2 53.34,132.2 53.93,132.2 54.51,132.2 55.1,132.2 55.68,132.2 56.27,132.2 56.86,132.2 57.44,132.2 58.03,132.2 58.61,132.2 59.2,132.2 59.78,132.2 60.37,132.2 60.95,132.2 61.54,132.2 62.12,132.2 62.71,132.2 63.3,132.2 63.88,132.2 64.47,132.2 65.05,132.2 65.64,132.2 66.22,132.2 66.81,132.2 67.39,132.2 67.98,132.2 68.57,132.2 69.15,132.2 69.74,132.2 70.32,132.2 70.52,132.2 70.91,132.25 71.49,132.42 72.08,132.58 72.35,132.6 72.66,132.42 73.25,131.21 73.45,130.59 73.83,126.41 74.42,116.18 74.42,116.13 75.01,107.69 75.4,103.28 75.59,101.77 76.18,97.89 76.74,95.65 76.76,95.6 77.35,94.43 77.93,93.58 78.52,92.93 79.06,92.43 79.1,92.39 79.69,91.91 80.28,91.49 80.86,91.12 81.45,90.79 82.03,90.47 82.62,90.15 82.84,90.02 83.2,89.82 83.79,89.49 84.37,89.17 84.96,88.86 85.54,88.55 86.13,88.26 86.72,87.99 87.3,87.73 87.6,87.61 87.89,87.5 88.47,87.27 89.06,87.05 89.64,86.84 90.23,86.64 90.81,86.44 91.4,86.26 91.99,86.08 92.57,85.91 93.16,85.75 93.7,85.6 93.74,85.59 94.33,85.44 94.91,85.3 95.5,85.15 96.08,85.01 96.67,84.88 97.25,84.74 97.84,84.61 98.43,84.48 99.01,84.35 99.6,84.23 100.18,84.1 100.77,83.98 101.35,83.86 101.94,83.75 102.52,83.63 103.11,83.52 103.7,83.41 104.28,83.3 104.87,83.19 105.45,83.09 106.04,82.98 106.62,82.88 107.21,82.78 107.79,82.68 108.38,82.58 108.97,82.48 109.55,82.38 110.14,82.29 110.72,82.19 111.31,82.1 111.89,82 112,81.99 112.48,81.91 113.06,81.82 113.65,81.73 114.23,81.64 114.82,81.55 115.41,81.47 115.99,81.38 116.58,81.29 117.16,81.21 117.75,81.13 118.33,81.05 118.92,80.96 119.5,80.88 120.09,80.81 120.68,80.73 121.26,80.65 121.85,80.57 122.43,80.5 123.02,80.42 123.6,80.35 124.19,80.27 124.77,80.2 125.36,80.12 125.94,80.05 126.53,79.98 127.12,79.9 127.7,79.83 128.29,79.76 128.87,79.69 129.46,79.62 130.04,79.55 130.63,79.48 131.21,79.4 131.8,79.33 132.39,79.26 132.97,79.19 133.56,79.12 134.14,79.05 134.73,78.98 135.31,78.91 135.9,78.84 136.4,78.77 136.48,78.76 137.07,78.69 137.65,78.62 138.24,78.55 138.83,78.48 139.41,78.41 140,78.34 140.58,78.27 141.17,78.2 141.75,78.13 142.34,78.06 142.92,77.99 143.51,77.92 144.1,77.85 144.68,77.79 145.27,77.72 145.85,77.65 146.44,77.58 147.02,77.52 147.61,77.45 148.19,77.38 148.78,77.31 149.36,77.25 149.95,77.18 150.54,77.11 151.12,77.05 151.71,76.98 152.29,76.92 152.88,76.85 153.46,76.78 154.05,76.72 154.63,76.65 155.22,76.59 155.81,76.52 156.39,76.46 156.98,76.39 157.56,76.32 158.15,76.26 158.73,76.19 159.32,76.13 159.9,76.06 160.49,76 160.8,75.96 161.08,75.93 161.66,75.86 162.25,75.78 162.83,75.69 163.42,75.61 164,75.52 164.59,75.44 165.17,75.36 165.76,75.3 166.34,75.24 166.93,75.2 167.52,75.17 168.1,75.16 168.12,75.16 168.69,75.34 169.27,75.88 169.34,75.96 169.86,80.58 170.44,88.01 170.44,88.06 171.03,92.84 171.61,96.33 171.78,96.85 172.2,97.72 172.79,98.63 173.37,99.3 173.96,99.83 174.22,100.06 174.54,100.34 175.13,100.81 175.71,101.23 176.3,101.6 176.88,101.94 177.47,102.26 177.88,102.47 178.05,102.56 178.64,102.84 179.23,103.09 179.81,103.33 180.4,103.56 180.98,103.78 181.57,104 182.15,104.23 182.74,104.47 182.76,104.48 183.32,104.73 183.91,104.99 184.5,105.26 185.08,105.53 185.67,105.8 186.25,106.08 186.84,106.35 187.42,106.63 188.01,106.9 188.59,107.17 188.86,107.29 189.18,107.44 189.76,107.71 190.35,107.99 190.94,108.26 191.52,108.53 192.11,108.8 192.69,109.07 193.28,109.34 193.86,109.61 194.45,109.88 194.96,110.11 195.03,110.14 195.62,110.47 196.21,110.77 196.79,110.91 196.79,110.91 197.38,110.86 197.96,110.76 198.55,110.63 199.13,110.54 199.6,110.51 199.72,110.51 200.3,110.62 200.89,110.85 201.47,111.2 202.06,111.63 202.65,112.11" fill="none" stroke="#5ea6ea" stroke-width="1" stroke-linejoin="round" stroke-linecap="round"/>
<polyline points="73.33,130.19 73.83,108.53 74.06,100.06 74.32,91.1 74.82,77.47 74.91,75.96 75.32,70.57 75.82,65.92 76.13,63.91 76.32,62.89 76.82,60.61 77.32,58.84 77.82,57.53 77.84,57.48 78.32,56.51 78.82,55.62 79.32,54.85 79.82,54.18 80.32,53.57 80.82,53.01 81.31,52.46 81.5,52.26 81.81,51.93 82.31,51.43 82.81,50.96 83.31,50.51 83.81,50.1 84.31,49.7 84.81,49.31 85.16,49.05 85.31,48.94 85.81,48.58 86.31,48.23 86.81,47.91 87.31,47.61 87.6,47.44 87.81,47.33 88.31,47.06 88.8,46.8 89.3,46.55 89.8,46.3 90.3,46.06 90.8,45.84 91.3,45.61 91.8,45.4 92.3,45.19 92.8,44.98 93.3,44.79 93.7,44.63 93.8,44.59 94.3,44.41 94.8,44.23 95.3,44.06 95.79,43.89 96.29,43.73 96.79,43.57 97.29,43.41 97.79,43.26 98.29,43.1 98.79,42.95 99.29,42.79 99.79,42.62 99.8,42.62 100.29,42.46 100.79,42.29 101.29,42.12 101.79,41.95 102.29,41.78 102.78,41.61 103.28,41.43 103.78,41.26 104.28,41.08 104.78,40.91 105.28,40.74 105.78,40.56 106.28,40.39 106.78,40.22 107.28,40.06 107.78,39.89 108.28,39.73 108.78,39.56 109.28,39.41 109.78,39.25 110.27,39.1 110.77,38.95 111.27,38.81 111.77,38.67 112,38.6 112.27,38.53 112.77,38.4 113.27,38.27 113.77,38.14 114.27,38.01 114.77,37.89 115.27,37.77 115.77,37.65 116.27,37.53 116.77,37.41 117.26,37.3 117.76,37.18 118.26,37.07 118.76,36.96 119.26,36.85 119.76,36.74 120.26,36.63 120.76,36.53 121.26,36.42 121.76,36.31 122.26,36.2 122.76,36.1 123.26,35.99 123.76,35.89 124.2,35.79 124.26,35.78 124.75,35.67 125.25,35.57 125.75,35.46 126.25,35.35 126.75,35.24 127.25,35.13 127.75,35.02 128.25,34.92 128.75,34.81 129.25,34.7 129.75,34.6 130.25,34.49 130.75,34.39 131.25,34.29 131.74,34.19 132.24,34.09 132.74,34 133.24,33.9 133.74,33.81 134.24,33.72 134.74,33.64 135.24,33.56 135.74,33.48 136.24,33.41 136.4,33.38 136.74,33.33 137.24,33.26 137.74,33.19 138.24,33.12 138.73,33.06 139.23,32.99 139.73,32.92 140.23,32.86 140.73,32.79 141.23,32.73 141.73,32.67 142.23,32.61 142.73,32.55 143.23,32.49 143.73,32.43 144.23,32.37 144.73,32.31 145.23,32.26 145.73,32.2 146.22,32.15 146.72,32.1 147.22,32.04 147.72,31.99 148.22,31.94 148.72,31.89 149.22,31.85 149.72,31.8 150.22,31.75 150.72,31.71 151.22,31.66 151.72,31.62 152.22,31.57 152.72,31.53 153.21,31.49 153.71,31.45 154.21,31.41 154.7,31.37 154.71,31.37 155.21,31.33 155.71,31.29 156.21,31.25 156.71,31.21 157.21,31.17 157.71,31.13 158.21,31.09 158.71,31.05 159.21,31.01 159.71,30.97 160.21,30.93 160.7,30.89 161.2,30.86 161.7,30.82 162.2,30.79 162.7,30.76 163.2,30.73 163.7,30.7 164.2,30.67 164.7,30.65 165.2,30.63 165.7,30.61 166.2,30.6 166.7,30.58 167.2,30.58 167.69,30.57 168.12,30.57 168.19,30.57 168.69,30.72 169.19,31.11 169.69,31.75 169.71,31.77 170.19,36.76 170.68,45.83 170.69,45.99 171.19,58.57 171.54,65.92 171.69,67.88 172.19,73.19 172.69,76.49 172.76,76.77 173.19,78.11 173.69,79.24 174.19,80.11 174.68,80.93 174.83,81.18 175.18,81.83 175.68,82.7 176.18,83.54 176.68,84.33 177.18,85.07 177.68,85.75 177.88,86 178.18,86.37 178.68,86.94 179.18,87.48 179.68,88 180.18,88.49 180.68,88.96 181.18,89.41 181.68,89.86 182.17,90.3 182.67,90.75 182.76,90.82 183.17,91.19 183.67,91.63 184.17,92.07 184.67,92.49 185.17,92.91 185.67,93.32 186.17,93.72 186.67,94.11 187.17,94.49 187.64,94.84 187.67,94.86 188.17,95.22 188.67,95.57 189.16,95.92 189.66,96.25 190.16,96.58 190.66,96.9 191.16,97.22 191.66,97.53 192.16,97.84 192.52,98.06 192.66,98.14 193.16,98.46 193.66,98.78 194.16,99.09 194.66,99.39 195.16,99.64 195.66,99.85 195.69,99.86 196.16,100.03 196.65,100.2 197.15,100.35 197.65,100.44 198.01,100.47 198.15,100.46 198.65,100.3 199.15,100.06 199.65,99.88 199.84,99.86 200.15,99.88 200.65,99.98 201.15,100.17 201.65,100.45 202.15,100.81 202.65,101.27" fill="none" stroke="#ed1c24" stroke-width="1.3" stroke-linejoin="round" stroke-linecap="round"/>
<line x1="182.3" y1="29.8" x2="182.3" y2="130" stroke="#000" stroke-width="0.7" stroke-dasharray="1.5 1"/>
<path d="M180.9 129.6 L183.7 129.6 L182.3 133.2Z" fill="#000"/>
<text x="193" y="26.4" font-size="7.3" text-anchor="start" fill="#a8323a">100 ppm</text>
<text x="193" y="35.2" font-size="7.3" text-anchor="start" fill="#9cc4ec">50ppm</text>
<text x="193" y="44" font-size="7.3" text-anchor="start" fill="#f6cfd0">25 ppm</text>
<text x="193" y="52.8" font-size="7.3" text-anchor="start" fill="#00a651">12.5ppm</text>
<text x="193" y="61.6" font-size="7.3" text-anchor="start" fill="#00b0f0">6.3 ppm</text>
<text x="193" y="70.4" font-size="7.3" text-anchor="start" fill="#ffc000">3.2 ppm</text>
<text x="193" y="79.2" font-size="7.3" text-anchor="start" fill="#f58220">1.6 ppm</text>
<text x="193" y="88" font-size="7.3" text-anchor="start" fill="#8e44ad">0.8 ppm</text>
<text x="193" y="96.8" font-size="7.3" text-anchor="start" fill="#2a9fe8">0 ppm</text>
</g>
<g id="panel-b">
<line x1="307.4" y1="19.38" x2="307.4" y2="161.27" stroke="#c6c6c6" stroke-width="0.8"/>
<line x1="307.4" y1="141" x2="478.4" y2="141" stroke="#c6c6c6" stroke-width="0.8"/>
<line x1="305.4" y1="161.27" x2="307.4" y2="161.27" stroke="#c6c6c6" stroke-width="0.8"/>
<text x="301.2" y="163.77" font-size="6.9" text-anchor="end" fill="#262626">-100</text>
<line x1="305.4" y1="141" x2="307.4" y2="141" stroke="#c6c6c6" stroke-width="0.8"/>
<text x="301.2" y="143.5" font-size="6.9" text-anchor="end" fill="#262626">0</text>
<line x1="305.4" y1="120.73" x2="307.4" y2="120.73" stroke="#c6c6c6" stroke-width="0.8"/>
<text x="301.2" y="123.23" font-size="6.9" text-anchor="end" fill="#262626">100</text>
<line x1="305.4" y1="100.46" x2="307.4" y2="100.46" stroke="#c6c6c6" stroke-width="0.8"/>
<text x="301.2" y="102.96" font-size="6.9" text-anchor="end" fill="#262626">200</text>
<line x1="305.4" y1="80.19" x2="307.4" y2="80.19" stroke="#c6c6c6" stroke-width="0.8"/>
<text x="301.2" y="82.69" font-size="6.9" text-anchor="end" fill="#262626">300</text>
<line x1="305.4" y1="59.92" x2="307.4" y2="59.92" stroke="#c6c6c6" stroke-width="0.8"/>
<text x="301.2" y="62.42" font-size="6.9" text-anchor="end" fill="#262626">400</text>
<line x1="305.4" y1="39.65" x2="307.4" y2="39.65" stroke="#c6c6c6" stroke-width="0.8"/>
<text x="301.2" y="42.15" font-size="6.9" text-anchor="end" fill="#262626">500</text>
<line x1="305.4" y1="19.38" x2="307.4" y2="19.38" stroke="#c6c6c6" stroke-width="0.8"/>
<text x="301.2" y="21.88" font-size="6.9" text-anchor="end" fill="#262626">600</text>
<line x1="307.4" y1="141" x2="307.4" y2="143" stroke="#c6c6c6" stroke-width="0.8"/>
<text x="307.4" y="151.4" font-size="7.2" text-anchor="middle" fill="#262626">0</text>
<line x1="330.2" y1="141" x2="330.2" y2="143" stroke="#c6c6c6" stroke-width="0.8"/>
<text x="330.2" y="151.4" font-size="7.2" text-anchor="middle" fill="#262626">20</text>
<line x1="353" y1="141" x2="353" y2="143" stroke="#c6c6c6" stroke-width="0.8"/>
<text x="353" y="151.4" font-size="7.2" text-anchor="middle" fill="#262626">40</text>
<line x1="375.8" y1="141" x2="375.8" y2="143" stroke="#c6c6c6" stroke-width="0.8"/>
<text x="375.8" y="151.4" font-size="7.2" text-anchor="middle" fill="#262626">60</text>
<line x1="398.6" y1="141" x2="398.6" y2="143" stroke="#c6c6c6" stroke-width="0.8"/>
<text x="398.6" y="151.4" font-size="7.2" text-anchor="middle" fill="#262626">80</text>
<line x1="421.4" y1="141" x2="421.4" y2="143" stroke="#c6c6c6" stroke-width="0.8"/>
<text x="421.4" y="151.4" font-size="7.2" text-anchor="middle" fill="#262626">100</text>
<line x1="444.2" y1="141" x2="444.2" y2="143" stroke="#c6c6c6" stroke-width="0.8"/>
<text x="444.2" y="151.4" font-size="7.2" text-anchor="middle" fill="#262626">120</text>
<line x1="467" y1="141" x2="467" y2="143" stroke="#c6c6c6" stroke-width="0.8"/>
<text x="467" y="151.4" font-size="7.2" text-anchor="middle" fill="#262626">140</text>
<text x="392.8" y="16.2" font-size="8.8" text-anchor="middle" font-weight="bold" fill="#000">b</text>
<text x="392.8" y="166.1" font-size="8.35" text-anchor="middle" font-weight="bold" fill="#000">Time</text>
<text x="285.4" y="90.5" font-size="8.37" text-anchor="middle" font-weight="bold" fill="#000" transform="rotate(-90 285.4 90.5)">SPR response (RU)</text>
<g stroke="#bcbcbc" stroke-width="0.4" fill="none"><rect x="352.6" y="34.2" width="51.5" height="7.2" rx="3.6" fill="#fbfbfb" stroke="#c4c4c4" stroke-width="0.45"/><path d="M352.52 36.6 l2.08 -1.2 l2.08 1.2 M352.52 36.6 v2.16"/><path d="M356.68 36.6 l2.08 -1.2 l2.08 1.2 M356.68 36.6 v2.16"/><path d="M360.84 36.6 l2.08 -1.2 l2.08 1.2 M360.84 36.6 v2.16"/><path d="M364.99 36.6 l2.08 -1.2 l2.08 1.2 M364.99 36.6 v2.16"/><path d="M369.15 36.6 l2.08 -1.2 l2.08 1.2 M369.15 36.6 v2.16"/><path d="M373.31 36.6 l2.08 -1.2 l2.08 1.2 M373.31 36.6 v2.16"/><path d="M377.46 36.6 l2.08 -1.2 l2.08 1.2 M377.46 36.6 v2.16"/><path d="M381.62 36.6 l2.08 -1.2 l2.08 1.2 M381.62 36.6 v2.16"/><path d="M385.78 36.6 l2.08 -1.2 l2.08 1.2 M385.78 36.6 v2.16"/><path d="M389.93 36.6 l2.08 -1.2 l2.08 1.2 M389.93 36.6 v2.16"/><path d="M394.09 36.6 l2.08 -1.2 l2.08 1.2 M394.09 36.6 v2.16"/><path d="M398.25 36.6 l2.08 -1.2 l2.08 1.2 M398.25 36.6 v2.16"/><path d="M354.6 40.2 l2.08 -1.2 l2.08 1.2 M354.6 40.2 v2.16"/><path d="M358.76 40.2 l2.08 -1.2 l2.08 1.2 M358.76 40.2 v2.16"/><path d="M362.91 40.2 l2.08 -1.2 l2.08 1.2 M362.91 40.2 v2.16"/><path d="M367.07 40.2 l2.08 -1.2 l2.08 1.2 M367.07 40.2 v2.16"/><path d="M371.23 40.2 l2.08 -1.2 l2.08 1.2 M371.23 40.2 v2.16"/><path d="M375.38 40.2 l2.08 -1.2 l2.08 1.2 M375.38 40.2 v2.16"/><path d="M379.54 40.2 l2.08 -1.2 l2.08 1.2 M379.54 40.2 v2.16"/><path d="M383.7 40.2 l2.08 -1.2 l2.08 1.2 M383.7 40.2 v2.16"/><path d="M387.85 40.2 l2.08 -1.2 l2.08 1.2 M387.85 40.2 v2.16"/><path d="M392.01 40.2 l2.08 -1.2 l2.08 1.2 M392.01 40.2 v2.16"/><path d="M396.17 40.2 l2.08 -1.2 l2.08 1.2 M396.17 40.2 v2.16"/></g>
<g stroke="#bcbcbc" stroke-width="0.4" fill="none"><rect x="352.6" y="41.8" width="52.5" height="7.2" rx="3.6" fill="#fbfbfb" stroke="#c4c4c4" stroke-width="0.45"/><path d="M352.52 44.2 l2.08 -1.2 l2.08 1.2 M352.52 44.2 v2.16"/><path d="M356.68 44.2 l2.08 -1.2 l2.08 1.2 M356.68 44.2 v2.16"/><path d="M360.84 44.2 l2.08 -1.2 l2.08 1.2 M360.84 44.2 v2.16"/><path d="M364.99 44.2 l2.08 -1.2 l2.08 1.2 M364.99 44.2 v2.16"/><path d="M369.15 44.2 l2.08 -1.2 l2.08 1.2 M369.15 44.2 v2.16"/><path d="M373.31 44.2 l2.08 -1.2 l2.08 1.2 M373.31 44.2 v2.16"/><path d="M377.46 44.2 l2.08 -1.2 l2.08 1.2 M377.46 44.2 v2.16"/><path d="M381.62 44.2 l2.08 -1.2 l2.08 1.2 M381.62 44.2 v2.16"/><path d="M385.78 44.2 l2.08 -1.2 l2.08 1.2 M385.78 44.2 v2.16"/><path d="M389.93 44.2 l2.08 -1.2 l2.08 1.2 M389.93 44.2 v2.16"/><path d="M394.09 44.2 l2.08 -1.2 l2.08 1.2 M394.09 44.2 v2.16"/><path d="M398.25 44.2 l2.08 -1.2 l2.08 1.2 M398.25 44.2 v2.16"/><path d="M354.6 47.8 l2.08 -1.2 l2.08 1.2 M354.6 47.8 v2.16"/><path d="M358.76 47.8 l2.08 -1.2 l2.08 1.2 M358.76 47.8 v2.16"/><path d="M362.91 47.8 l2.08 -1.2 l2.08 1.2 M362.91 47.8 v2.16"/><path d="M367.07 47.8 l2.08 -1.2 l2.08 1.2 M367.07 47.8 v2.16"/><path d="M371.23 47.8 l2.08 -1.2 l2.08 1.2 M371.23 47.8 v2.16"/><path d="M375.38 47.8 l2.08 -1.2 l2.08 1.2 M375.38 47.8 v2.16"/><path d="M379.54 47.8 l2.08 -1.2 l2.08 1.2 M379.54 47.8 v2.16"/><path d="M383.7 47.8 l2.08 -1.2 l2.08 1.2 M383.7 47.8 v2.16"/><path d="M387.85 47.8 l2.08 -1.2 l2.08 1.2 M387.85 47.8 v2.16"/><path d="M392.01 47.8 l2.08 -1.2 l2.08 1.2 M392.01 47.8 v2.16"/><path d="M396.17 47.8 l2.08 -1.2 l2.08 1.2 M396.17 47.8 v2.16"/><path d="M400.32 47.8 l2.08 -1.2 l2.08 1.2 M400.32 47.8 v2.16"/></g>
<circle cx="361.71" cy="29.15" r="1.33" fill="#2434e0" stroke="#8a8a8a" stroke-width="0.2"/><circle cx="366.42" cy="31.37" r="1.08" fill="#2434e0" stroke="#8a8a8a" stroke-width="0.2"/><circle cx="366.17" cy="31.44" r="1.16" fill="#8e8e8e" stroke="#8a8a8a" stroke-width="0.2"/><circle cx="364.32" cy="34.9" r="1.32" fill="#e8201c" stroke="#8a8a8a" stroke-width="0.2"/><circle cx="367.04" cy="35.5" r="1.34" fill="#d4d4d4" stroke="#8a8a8a" stroke-width="0.2"/><circle cx="366.56" cy="35.66" r="1.2" fill="#a4a4a4" stroke="#8a8a8a" stroke-width="0.2"/><circle cx="368.06" cy="35.29" r="1.12" fill="#e8201c" stroke="#8a8a8a" stroke-width="0.2"/><circle cx="364.43" cy="36.6" r="1.1" fill="#ffffff" stroke="#8a8a8a" stroke-width="0.2"/><circle cx="364.32" cy="26.71" r="1.2" fill="#e8201c" stroke="#8a8a8a" stroke-width="0.2"/><circle cx="361.71" cy="28.67" r="1.27" fill="#ffffff" stroke="#8a8a8a" stroke-width="0.2"/><circle cx="370.73" cy="26.88" r="1.23" fill="#c8c8c8" stroke="#8a8a8a" stroke-width="0.2"/><circle cx="372.74" cy="33.78" r="1.09" fill="#d4d4d4" stroke="#8a8a8a" stroke-width="0.2"/><circle cx="363.11" cy="31.43" r="1.27" fill="#c8c8c8" stroke="#8a8a8a" stroke-width="0.2"/><circle cx="368.71" cy="27.32" r="1.22" fill="#a4a4a4" stroke="#8a8a8a" stroke-width="0.2"/><circle cx="363.72" cy="29.24" r="1.2" fill="#2434e0" stroke="#8a8a8a" stroke-width="0.2"/><circle cx="368.69" cy="27.29" r="1.37" fill="#ffffff" stroke="#8a8a8a" stroke-width="0.2"/><circle cx="366.51" cy="26.24" r="1.5" fill="#2434e0" stroke="#8a8a8a" stroke-width="0.2"/><circle cx="366.8" cy="33.89" r="1.11" fill="#e8201c" stroke="#8a8a8a" stroke-width="0.2"/><circle cx="364.43" cy="30" r="1.21" fill="#ececec" stroke="#8a8a8a" stroke-width="0.2"/><circle cx="364.02" cy="34.88" r="1.46" fill="#f6f6f6" stroke="#8a8a8a" stroke-width="0.2"/><circle cx="366.58" cy="26.2" r="1.43" fill="#ffffff" stroke="#8a8a8a" stroke-width="0.2"/><circle cx="372.24" cy="27.24" r="1.32" fill="#c8c8c8" stroke="#8a8a8a" stroke-width="0.2"/><circle cx="368.31" cy="33.9" r="1.52" fill="#2434e0" stroke="#8a8a8a" stroke-width="0.2"/><circle cx="367.61" cy="27.98" r="1.29" fill="#e8201c" stroke="#8a8a8a" stroke-width="0.2"/><circle cx="372.89" cy="28.28" r="1.3" fill="#e2e2e2" stroke="#8a8a8a" stroke-width="0.2"/><circle cx="363.62" cy="29.2" r="1.36" fill="#8e8e8e" stroke="#8a8a8a" stroke-width="0.2"/><circle cx="370.1" cy="34.53" r="1.19" fill="#a4a4a4" stroke="#8a8a8a" stroke-width="0.2"/><circle cx="367.23" cy="37.63" r="1.37" fill="#ffffff" stroke="#8a8a8a" stroke-width="0.2"/><circle cx="371.75" cy="29.75" r="1.11" fill="#ffffff" stroke="#8a8a8a" stroke-width="0.2"/><circle cx="369.39" cy="28.48" r="1.13" fill="#ffffff" stroke="#8a8a8a" stroke-width="0.2"/><circle cx="366.92" cy="36.81" r="1.22" fill="#ffffff" stroke="#8a8a8a" stroke-width="0.2"/><circle cx="365.31" cy="25.28" r="1.13" fill="#a4a4a4" stroke="#8a8a8a" stroke-width="0.2"/><circle cx="365.12" cy="24.96" r="1.1" fill="#e2e2e2" stroke="#8a8a8a" stroke-width="0.2"/><circle cx="363.04" cy="33.86" r="1.48" fill="#ececec" stroke="#8a8a8a" stroke-width="0.2"/><circle cx="371.03" cy="36.4" r="1.36" fill="#8e8e8e" stroke="#8a8a8a" stroke-width="0.2"/><circle cx="370.1" cy="30.96" r="1.52" fill="#8e8e8e" stroke="#8a8a8a" stroke-width="0.2"/><circle cx="365.76" cy="26.39" r="1.39" fill="#f6f6f6" stroke="#8a8a8a" stroke-width="0.2"/><circle cx="373.96" cy="32.08" r="1.47" fill="#a4a4a4" stroke="#8a8a8a" stroke-width="0.2"/><circle cx="365.84" cy="34.4" r="1.37" fill="#f6f6f6" stroke="#8a8a8a" stroke-width="0.2"/><circle cx="368.56" cy="24.89" r="1.16" fill="#ffffff" stroke="#8a8a8a" stroke-width="0.2"/><circle cx="373.22" cy="29.69" r="1.4" fill="#ececec" stroke="#8a8a8a" stroke-width="0.2"/><circle cx="365.09" cy="32.4" r="1.41" fill="#e8201c" stroke="#8a8a8a" stroke-width="0.2"/><circle cx="365.6" cy="35.74" r="1.3" fill="#d4d4d4" stroke="#8a8a8a" stroke-width="0.2"/><circle cx="364.87" cy="33.64" r="1.08" fill="#ffffff" stroke="#8a8a8a" stroke-width="0.2"/>
<circle cx="383.83" cy="20.75" r="1.12" fill="#e8201c" stroke="#8a8a8a" stroke-width="0.2"/><circle cx="384.73" cy="20.93" r="1.01" fill="#f6f6f6" stroke="#8a8a8a" stroke-width="0.2"/><circle cx="380.08" cy="22.35" r="1.31" fill="#f6f6f6" stroke="#8a8a8a" stroke-width="0.2"/><circle cx="384.28" cy="19.58" r="1.28" fill="#c8c8c8" stroke="#8a8a8a" stroke-width="0.2"/><circle cx="377.8" cy="19.14" r="1.23" fill="#a4a4a4" stroke="#8a8a8a" stroke-width="0.2"/><circle cx="378.76" cy="16.8" r="1.42" fill="#e2e2e2" stroke="#8a8a8a" stroke-width="0.2"/><circle cx="382.4" cy="23.97" r="1.07" fill="#ffffff" stroke="#8a8a8a" stroke-width="0.2"/><circle cx="384.53" cy="18.03" r="1.37" fill="#a4a4a4" stroke="#8a8a8a" stroke-width="0.2"/><circle cx="383.9" cy="17.84" r="1.05" fill="#e8201c" stroke="#8a8a8a" stroke-width="0.2"/><circle cx="378.17" cy="22.19" r="1.37" fill="#f6f6f6" stroke="#8a8a8a" stroke-width="0.2"/><circle cx="382.27" cy="24.71" r="1.12" fill="#8e8e8e" stroke="#8a8a8a" stroke-width="0.2"/><circle cx="381.83" cy="20.41" r="1" fill="#c8c8c8" stroke="#8a8a8a" stroke-width="0.2"/><circle cx="382.6" cy="21.04" r="1.03" fill="#2434e0" stroke="#8a8a8a" stroke-width="0.2"/><circle cx="383.88" cy="22.37" r="1.34" fill="#f6f6f6" stroke="#8a8a8a" stroke-width="0.2"/><circle cx="380.6" cy="25.72" r="1.39" fill="#e8201c" stroke="#8a8a8a" stroke-width="0.2"/><circle cx="381.09" cy="20.15" r="1.16" fill="#ffffff" stroke="#8a8a8a" stroke-width="0.2"/><circle cx="381.41" cy="23" r="1.21" fill="#8e8e8e" stroke="#8a8a8a" stroke-width="0.2"/><circle cx="377.37" cy="19.88" r="1.31" fill="#e2e2e2" stroke="#8a8a8a" stroke-width="0.2"/><circle cx="378.94" cy="19.45" r="1.23" fill="#e8201c" stroke="#8a8a8a" stroke-width="0.2"/><circle cx="384.29" cy="19.43" r="1.02" fill="#2434e0" stroke="#8a8a8a" stroke-width="0.2"/><circle cx="378.91" cy="19.77" r="1.04" fill="#f6f6f6" stroke="#8a8a8a" stroke-width="0.2"/><circle cx="381.26" cy="19.62" r="1.34" fill="#e8201c" stroke="#8a8a8a" stroke-width="0.2"/>
<circle cx="388.85" cy="31.36" r="1.35" fill="#e2e2e2" stroke="#8a8a8a" stroke-width="0.2"/><circle cx="381.37" cy="30.88" r="1.17" fill="#e8201c" stroke="#8a8a8a" stroke-width="0.2"/><circle cx="377.73" cy="35.14" r="1.23" fill="#ececec" stroke="#8a8a8a" stroke-width="0.2"/><circle cx="380" cy="29.64" r="1.24" fill="#e8201c" stroke="#8a8a8a" stroke-width="0.2"/><circle cx="390.42" cy="34.51" r="1.07" fill="#e8201c" stroke="#8a8a8a" stroke-width="0.2"/><circle cx="388.16" cy="30.8" r="1.34" fill="#e8201c" stroke="#8a8a8a" stroke-width="0.2"/><circle cx="386.66" cy="38.09" r="1.48" fill="#8e8e8e" stroke="#8a8a8a" stroke-width="0.2"/><circle cx="385.49" cy="29.21" r="1.32" fill="#2434e0" stroke="#8a8a8a" stroke-width="0.2"/><circle cx="377.88" cy="31.59" r="1.23" fill="#a4a4a4" stroke="#8a8a8a" stroke-width="0.2"/><circle cx="381.3" cy="29.88" r="1.23" fill="#2434e0" stroke="#8a8a8a" stroke-width="0.2"/><circle cx="377.59" cy="32.4" r="1.17" fill="#e8201c" stroke="#8a8a8a" stroke-width="0.2"/><circle cx="390.28" cy="34.62" r="1.14" fill="#e2e2e2" stroke="#8a8a8a" stroke-width="0.2"/><circle cx="380.5" cy="32.54" r="1.2" fill="#ececec" stroke="#8a8a8a" stroke-width="0.2"/><circle cx="387.92" cy="28.1" r="1.21" fill="#ececec" stroke="#8a8a8a" stroke-width="0.2"/><circle cx="377.61" cy="29.48" r="1.38" fill="#ffffff" stroke="#8a8a8a" stroke-width="0.2"/><circle cx="384.94" cy="33.26" r="1.49" fill="#d4d4d4" stroke="#8a8a8a" stroke-width="0.2"/><circle cx="377.99" cy="31.96" r="1.13" fill="#a4a4a4" stroke="#8a8a8a" stroke-width="0.2"/><circle cx="377.68" cy="28.51" r="1.07" fill="#d4d4d4" stroke="#8a8a8a" stroke-width="0.2"/><circle cx="388.22" cy="36.45" r="1.11" fill="#ffffff" stroke="#8a8a8a" stroke-width="0.2"/><circle cx="386.74" cy="26.69" r="1.5" fill="#e2e2e2" stroke="#8a8a8a" stroke-width="0.2"/><circle cx="382.21" cy="29.99" r="1.14" fill="#c8c8c8" stroke="#8a8a8a" stroke-width="0.2"/><circle cx="387.68" cy="38.55" r="1.35" fill="#ececec" stroke="#8a8a8a" stroke-width="0.2"/><circle cx="380.19" cy="33.98" r="1.09" fill="#2434e0" stroke="#8a8a8a" stroke-width="0.2"/><circle cx="383.74" cy="32.88" r="1.41" fill="#e8201c" stroke="#8a8a8a" stroke-width="0.2"/><circle cx="380.75" cy="26.36" r="1.28" fill="#e8201c" stroke="#8a8a8a" stroke-width="0.2"/><circle cx="386.06" cy="35.8" r="1.25" fill="#ffffff" stroke="#8a8a8a" stroke-width="0.2"/><circle cx="386.44" cy="31.42" r="1.33" fill="#2434e0" stroke="#8a8a8a" stroke-width="0.2"/><circle cx="387.07" cy="32.74" r="1.07" fill="#d4d4d4" stroke="#8a8a8a" stroke-width="0.2"/><circle cx="388.92" cy="33.05" r="1.06" fill="#c8c8c8" stroke="#8a8a8a" stroke-width="0.2"/><circle cx="387.7" cy="29.28" r="1.52" fill="#c8c8c8" stroke="#8a8a8a" stroke-width="0.2"/><circle cx="383.52" cy="31.91" r="1.51" fill="#ffffff" stroke="#8a8a8a" stroke-width="0.2"/><circle cx="378.96" cy="32.5" r="1.5" fill="#ececec" stroke="#8a8a8a" stroke-width="0.2"/><circle cx="382.61" cy="27.02" r="1.41" fill="#2434e0" stroke="#8a8a8a" stroke-width="0.2"/><circle cx="377.33" cy="29.67" r="1.41" fill="#2434e0" stroke="#8a8a8a" stroke-width="0.2"/><circle cx="384.69" cy="30.57" r="1.44" fill="#a4a4a4" stroke="#8a8a8a" stroke-width="0.2"/><circle cx="381.25" cy="29.12" r="1.46" fill="#d4d4d4" stroke="#8a8a8a" stroke-width="0.2"/><circle cx="381.65" cy="36.25" r="1.34" fill="#ececec" stroke="#8a8a8a" stroke-width="0.2"/><circle cx="382.4" cy="38.87" r="1.32" fill="#e8201c" stroke="#8a8a8a" stroke-width="0.2"/><circle cx="387.82" cy="26.96" r="1.06" fill="#c8c8c8" stroke="#8a8a8a" stroke-width="0.2"/><circle cx="380.8" cy="39.38" r="1.2" fill="#ffffff" stroke="#8a8a8a" stroke-width="0.2"/><circle cx="386.87" cy="35.61" r="1.24" fill="#2434e0" stroke="#8a8a8a" stroke-width="0.2"/><circle cx="384.13" cy="30.34" r="1.51" fill="#a4a4a4" stroke="#8a8a8a" stroke-width="0.2"/><circle cx="382.96" cy="25.72" r="1.09" fill="#f6f6f6" stroke="#8a8a8a" stroke-width="0.2"/><circle cx="381.2" cy="30.3" r="1.48" fill="#e2e2e2" stroke="#8a8a8a" stroke-width="0.2"/><circle cx="385.49" cy="30.16" r="1.19" fill="#e8201c" stroke="#8a8a8a" stroke-width="0.2"/><circle cx="382.97" cy="37.56" r="1.11" fill="#f6f6f6" stroke="#8a8a8a" stroke-width="0.2"/><circle cx="380.22" cy="33.47" r="1.06" fill="#c8c8c8" stroke="#8a8a8a" stroke-width="0.2"/><circle cx="387.11" cy="36.69" r="1.08" fill="#f6f6f6" stroke="#8a8a8a" stroke-width="0.2"/><circle cx="378.25" cy="30.75" r="1.19" fill="#2434e0" stroke="#8a8a8a" stroke-width="0.2"/><circle cx="386.35" cy="31.06" r="1.52" fill="#f6f6f6" stroke="#8a8a8a" stroke-width="0.2"/>
<rect x="350.7" y="48.9" width="57.4" height="7.8" fill="#f9b80f" rx="1.5" ry="1.5"/>
<rect x="356.9" y="126.4" width="57.2" height="7.5" fill="#f9b80f" rx="1.5" ry="1.5"/>
<path d="M362.5 126.8 C360.5 124.1 365.1 122.75 363.7 119.6 C363 117.62 360.9 117.35 360.3 119.42" fill="none" stroke="#2030e0" stroke-width="1.2" stroke-linecap="round"/>
<path d="M368.31 126.8 C366.31 124.1 370.91 122.75 369.51 119.6 C368.81 117.62 366.71 117.35 366.11 119.42" fill="none" stroke="#2030e0" stroke-width="1.2" stroke-linecap="round"/>
<path d="M374.12 126.8 C372.12 124.1 376.73 122.75 375.32 119.6 C374.62 117.62 372.52 117.35 371.93 119.42" fill="none" stroke="#2030e0" stroke-width="1.2" stroke-linecap="round"/>
<path d="M379.94 126.8 C377.94 124.1 382.54 122.75 381.14 119.6 C380.44 117.62 378.34 117.35 377.74 119.42" fill="none" stroke="#2030e0" stroke-width="1.2" stroke-linecap="round"/>
<path d="M385.75 126.8 C383.75 124.1 388.35 122.75 386.95 119.6 C386.25 117.62 384.15 117.35 383.55 119.42" fill="none" stroke="#2030e0" stroke-width="1.2" stroke-linecap="round"/>
<path d="M391.56 126.8 C389.56 124.1 394.16 122.75 392.76 119.6 C392.06 117.62 389.96 117.35 389.36 119.42" fill="none" stroke="#2030e0" stroke-width="1.2" stroke-linecap="round"/>
<path d="M397.38 126.8 C395.38 124.1 399.98 122.75 398.57 119.6 C397.88 117.62 395.77 117.35 395.18 119.42" fill="none" stroke="#2030e0" stroke-width="1.2" stroke-linecap="round"/>
<path d="M403.19 126.8 C401.19 124.1 405.79 122.75 404.39 119.6 C403.69 117.62 401.59 117.35 400.99 119.42" fill="none" stroke="#2030e0" stroke-width="1.2" stroke-linecap="round"/>
<path d="M409 126.8 C407 124.1 411.6 122.75 410.2 119.6 C409.5 117.62 407.4 117.35 406.8 119.42" fill="none" stroke="#2030e0" stroke-width="1.2" stroke-linecap="round"/>
<circle cx="360.56" cy="118.36" r="1.42" fill="#ececec" stroke="#8a8a8a" stroke-width="0.2"/><circle cx="362.96" cy="115.6" r="1.11" fill="#f6f6f6" stroke="#8a8a8a" stroke-width="0.2"/><circle cx="360.2" cy="115.25" r="1.09" fill="#f6f6f6" stroke="#8a8a8a" stroke-width="0.2"/><circle cx="359.7" cy="112.42" r="1.11" fill="#ececec" stroke="#8a8a8a" stroke-width="0.2"/><circle cx="356.08" cy="111.38" r="0.98" fill="#ececec" stroke="#8a8a8a" stroke-width="0.2"/><circle cx="364.42" cy="116.39" r="1.05" fill="#2434e0" stroke="#8a8a8a" stroke-width="0.2"/><circle cx="365.71" cy="112.95" r="1.19" fill="#ffffff" stroke="#8a8a8a" stroke-width="0.2"/><circle cx="357.13" cy="110" r="1.24" fill="#e8201c" stroke="#8a8a8a" stroke-width="0.2"/><circle cx="364.17" cy="114.04" r="0.98" fill="#e2e2e2" stroke="#8a8a8a" stroke-width="0.2"/><circle cx="358.52" cy="110.19" r="0.98" fill="#d4d4d4" stroke="#8a8a8a" stroke-width="0.2"/><circle cx="353.18" cy="114.9" r="1.13" fill="#2434e0" stroke="#8a8a8a" stroke-width="0.2"/><circle cx="357.27" cy="112.67" r="1.01" fill="#e8201c" stroke="#8a8a8a" stroke-width="0.2"/><circle cx="361.99" cy="115.53" r="1.08" fill="#ececec" stroke="#8a8a8a" stroke-width="0.2"/><circle cx="363.24" cy="112.98" r="1.4" fill="#f6f6f6" stroke="#8a8a8a" stroke-width="0.2"/><circle cx="364.54" cy="111.75" r="1.17" fill="#ececec" stroke="#8a8a8a" stroke-width="0.2"/><circle cx="356.74" cy="113.11" r="1.06" fill="#e8201c" stroke="#8a8a8a" stroke-width="0.2"/><circle cx="357.37" cy="115.76" r="1.12" fill="#2434e0" stroke="#8a8a8a" stroke-width="0.2"/><circle cx="362.48" cy="113.38" r="1.4" fill="#e2e2e2" stroke="#8a8a8a" stroke-width="0.2"/><circle cx="364.06" cy="116.82" r="1.2" fill="#ffffff" stroke="#8a8a8a" stroke-width="0.2"/><circle cx="359.3" cy="111.1" r="0.98" fill="#8e8e8e" stroke="#8a8a8a" stroke-width="0.2"/><circle cx="360.88" cy="112.78" r="1.34" fill="#c8c8c8" stroke="#8a8a8a" stroke-width="0.2"/><circle cx="353.46" cy="115.55" r="1.24" fill="#e8201c" stroke="#8a8a8a" stroke-width="0.2"/><circle cx="354.02" cy="116.49" r="1.32" fill="#8e8e8e" stroke="#8a8a8a" stroke-width="0.2"/><circle cx="364.48" cy="113.72" r="1.14" fill="#c8c8c8" stroke="#8a8a8a" stroke-width="0.2"/><circle cx="365.09" cy="111.8" r="1.36" fill="#8e8e8e" stroke="#8a8a8a" stroke-width="0.2"/><circle cx="363.04" cy="117.23" r="1.38" fill="#e2e2e2" stroke="#8a8a8a" stroke-width="0.2"/><circle cx="365.07" cy="113.09" r="1.39" fill="#e2e2e2" stroke="#8a8a8a" stroke-width="0.2"/><circle cx="359.15" cy="117.66" r="1.01" fill="#c8c8c8" stroke="#8a8a8a" stroke-width="0.2"/><circle cx="359.7" cy="116.23" r="1.07" fill="#c8c8c8" stroke="#8a8a8a" stroke-width="0.2"/><circle cx="356.05" cy="116.34" r="1" fill="#f6f6f6" stroke="#8a8a8a" stroke-width="0.2"/>
<circle cx="376.98" cy="108.99" r="1.14" fill="#e8201c" stroke="#8a8a8a" stroke-width="0.2"/><circle cx="376.23" cy="111.29" r="1.13" fill="#d4d4d4" stroke="#8a8a8a" stroke-width="0.2"/><circle cx="371.89" cy="108.28" r="1.08" fill="#f6f6f6" stroke="#8a8a8a" stroke-width="0.2"/><circle cx="377.12" cy="116.44" r="1.16" fill="#c8c8c8" stroke="#8a8a8a" stroke-width="0.2"/><circle cx="378.06" cy="107.04" r="1.04" fill="#ffffff" stroke="#8a8a8a" stroke-width="0.2"/><circle cx="371.81" cy="115.8" r="1.03" fill="#d4d4d4" stroke="#8a8a8a" stroke-width="0.2"/><circle cx="377.87" cy="110.33" r="1.18" fill="#8e8e8e" stroke="#8a8a8a" stroke-width="0.2"/><circle cx="369.82" cy="109.74" r="1.3" fill="#d4d4d4" stroke="#8a8a8a" stroke-width="0.2"/><circle cx="377.51" cy="109.91" r="1.31" fill="#f6f6f6" stroke="#8a8a8a" stroke-width="0.2"/><circle cx="371.62" cy="114.6" r="1.18" fill="#ffffff" stroke="#8a8a8a" stroke-width="0.2"/><circle cx="371.25" cy="115.7" r="1" fill="#a4a4a4" stroke="#8a8a8a" stroke-width="0.2"/><circle cx="376.89" cy="107.65" r="1.19" fill="#2434e0" stroke="#8a8a8a" stroke-width="0.2"/><circle cx="372.11" cy="116.67" r="1.23" fill="#c8c8c8" stroke="#8a8a8a" stroke-width="0.2"/><circle cx="370.66" cy="109.71" r="1.36" fill="#ffffff" stroke="#8a8a8a" stroke-width="0.2"/><circle cx="376.32" cy="116.49" r="1.41" fill="#ececec" stroke="#8a8a8a" stroke-width="0.2"/><circle cx="378.56" cy="110.95" r="1.29" fill="#2434e0" stroke="#8a8a8a" stroke-width="0.2"/><circle cx="376.75" cy="112.61" r="1.17" fill="#e8201c" stroke="#8a8a8a" stroke-width="0.2"/><circle cx="371.11" cy="108.86" r="1.09" fill="#d4d4d4" stroke="#8a8a8a" stroke-width="0.2"/><circle cx="379.7" cy="113.26" r="1.15" fill="#f6f6f6" stroke="#8a8a8a" stroke-width="0.2"/><circle cx="377.46" cy="112.66" r="1.24" fill="#d4d4d4" stroke="#8a8a8a" stroke-width="0.2"/><circle cx="377.94" cy="115.46" r="1.02" fill="#a4a4a4" stroke="#8a8a8a" stroke-width="0.2"/><circle cx="375.09" cy="107.62" r="1.22" fill="#c8c8c8" stroke="#8a8a8a" stroke-width="0.2"/><circle cx="371.12" cy="116.2" r="1.03" fill="#f6f6f6" stroke="#8a8a8a" stroke-width="0.2"/><circle cx="377.6" cy="106.13" r="1.33" fill="#2434e0" stroke="#8a8a8a" stroke-width="0.2"/><circle cx="373.63" cy="110.6" r="1.32" fill="#e8201c" stroke="#8a8a8a" stroke-width="0.2"/><circle cx="371.84" cy="107.47" r="0.99" fill="#e2e2e2" stroke="#8a8a8a" stroke-width="0.2"/><circle cx="374.76" cy="110.75" r="1.38" fill="#f6f6f6" stroke="#8a8a8a" stroke-width="0.2"/><circle cx="372.86" cy="114.58" r="1.11" fill="#d4d4d4" stroke="#8a8a8a" stroke-width="0.2"/><circle cx="378.74" cy="112.88" r="1.01" fill="#e2e2e2" stroke="#8a8a8a" stroke-width="0.2"/><circle cx="377.24" cy="110.27" r="1.33" fill="#e8201c" stroke="#8a8a8a" stroke-width="0.2"/><circle cx="372.29" cy="113.53" r="1.21" fill="#e8201c" stroke="#8a8a8a" stroke-width="0.2"/><circle cx="375.74" cy="117.27" r="1.14" fill="#a4a4a4" stroke="#8a8a8a" stroke-width="0.2"/><circle cx="375.36" cy="118.34" r="1.26" fill="#ececec" stroke="#8a8a8a" stroke-width="0.2"/><circle cx="371.72" cy="111.71" r="1.09" fill="#8e8e8e" stroke="#8a8a8a" stroke-width="0.2"/><circle cx="376.79" cy="114.58" r="1.38" fill="#a4a4a4" stroke="#8a8a8a" stroke-width="0.2"/><circle cx="369.37" cy="110.77" r="1.04" fill="#d4d4d4" stroke="#8a8a8a" stroke-width="0.2"/>
<circle cx="378.92" cy="105.5" r="0.96" fill="#e2e2e2" stroke="#8a8a8a" stroke-width="0.2"/><circle cx="378.11" cy="101.68" r="0.93" fill="#2434e0" stroke="#8a8a8a" stroke-width="0.2"/><circle cx="380.95" cy="102.05" r="1.14" fill="#c8c8c8" stroke="#8a8a8a" stroke-width="0.2"/><circle cx="378.2" cy="100.95" r="1.09" fill="#ffffff" stroke="#8a8a8a" stroke-width="0.2"/><circle cx="379.01" cy="105.28" r="0.98" fill="#ffffff" stroke="#8a8a8a" stroke-width="0.2"/><circle cx="378.3" cy="104.25" r="1.22" fill="#e8201c" stroke="#8a8a8a" stroke-width="0.2"/><circle cx="375.55" cy="102.18" r="1.09" fill="#ffffff" stroke="#8a8a8a" stroke-width="0.2"/><circle cx="377.55" cy="103.52" r="1.1" fill="#c8c8c8" stroke="#8a8a8a" stroke-width="0.2"/><circle cx="376.96" cy="100.54" r="1.07" fill="#2434e0" stroke="#8a8a8a" stroke-width="0.2"/><circle cx="378.6" cy="106.05" r="1.04" fill="#e2e2e2" stroke="#8a8a8a" stroke-width="0.2"/><circle cx="378.67" cy="104.55" r="1.14" fill="#f6f6f6" stroke="#8a8a8a" stroke-width="0.2"/><circle cx="381.55" cy="103.2" r="1" fill="#a4a4a4" stroke="#8a8a8a" stroke-width="0.2"/><circle cx="378.37" cy="100.33" r="1.2" fill="#a4a4a4" stroke="#8a8a8a" stroke-width="0.2"/><circle cx="381.93" cy="102.99" r="0.92" fill="#ececec" stroke="#8a8a8a" stroke-width="0.2"/>
<circle cx="395.9" cy="112.94" r="1.18" fill="#a4a4a4" stroke="#8a8a8a" stroke-width="0.2"/><circle cx="389.86" cy="113.38" r="1.1" fill="#e8201c" stroke="#8a8a8a" stroke-width="0.2"/><circle cx="385.85" cy="110.5" r="1.15" fill="#8e8e8e" stroke="#8a8a8a" stroke-width="0.2"/><circle cx="388.65" cy="106.13" r="1.18" fill="#2434e0" stroke="#8a8a8a" stroke-width="0.2"/><circle cx="391.9" cy="110.1" r="1.36" fill="#a4a4a4" stroke="#8a8a8a" stroke-width="0.2"/><circle cx="393.55" cy="115.24" r="1.21" fill="#2434e0" stroke="#8a8a8a" stroke-width="0.2"/><circle cx="391.01" cy="105.59" r="1.19" fill="#e8201c" stroke="#8a8a8a" stroke-width="0.2"/><circle cx="386.39" cy="106.67" r="1.36" fill="#8e8e8e" stroke="#8a8a8a" stroke-width="0.2"/><circle cx="391.41" cy="107.16" r="1.01" fill="#2434e0" stroke="#8a8a8a" stroke-width="0.2"/><circle cx="387.67" cy="109.52" r="1.18" fill="#e2e2e2" stroke="#8a8a8a" stroke-width="0.2"/><circle cx="390.23" cy="106.72" r="1.13" fill="#d4d4d4" stroke="#8a8a8a" stroke-width="0.2"/><circle cx="389.62" cy="114.55" r="1.21" fill="#c8c8c8" stroke="#8a8a8a" stroke-width="0.2"/><circle cx="390.8" cy="110.62" r="1.33" fill="#d4d4d4" stroke="#8a8a8a" stroke-width="0.2"/><circle cx="388.86" cy="105.78" r="1" fill="#ffffff" stroke="#8a8a8a" stroke-width="0.2"/><circle cx="389.26" cy="114.81" r="1.04" fill="#f6f6f6" stroke="#8a8a8a" stroke-width="0.2"/><circle cx="386.19" cy="112.07" r="1.03" fill="#8e8e8e" stroke="#8a8a8a" stroke-width="0.2"/><circle cx="389.47" cy="114.31" r="1.16" fill="#ececec" stroke="#8a8a8a" stroke-width="0.2"/><circle cx="389.18" cy="106.63" r="1.05" fill="#8e8e8e" stroke="#8a8a8a" stroke-width="0.2"/><circle cx="387.4" cy="112.55" r="1.18" fill="#ffffff" stroke="#8a8a8a" stroke-width="0.2"/><circle cx="395.3" cy="113.92" r="1.28" fill="#c8c8c8" stroke="#8a8a8a" stroke-width="0.2"/><circle cx="392.89" cy="104.98" r="1.15" fill="#8e8e8e" stroke="#8a8a8a" stroke-width="0.2"/><circle cx="391.28" cy="113" r="1.04" fill="#d4d4d4" stroke="#8a8a8a" stroke-width="0.2"/><circle cx="390.11" cy="109.17" r="1.19" fill="#ececec" stroke="#8a8a8a" stroke-width="0.2"/><circle cx="396.03" cy="108.71" r="1.32" fill="#a4a4a4" stroke="#8a8a8a" stroke-width="0.2"/><circle cx="395.05" cy="110.67" r="1.07" fill="#d4d4d4" stroke="#8a8a8a" stroke-width="0.2"/><circle cx="392.54" cy="106.99" r="1.03" fill="#ffffff" stroke="#8a8a8a" stroke-width="0.2"/><circle cx="391.62" cy="115.33" r="1.22" fill="#e2e2e2" stroke="#8a8a8a" stroke-width="0.2"/><circle cx="390.25" cy="110.91" r="0.99" fill="#f6f6f6" stroke="#8a8a8a" stroke-width="0.2"/><circle cx="385.54" cy="109.41" r="1.09" fill="#d4d4d4" stroke="#8a8a8a" stroke-width="0.2"/><circle cx="384.89" cy="109.48" r="1.18" fill="#2434e0" stroke="#8a8a8a" stroke-width="0.2"/><circle cx="389.9" cy="105.09" r="1.15" fill="#2434e0" stroke="#8a8a8a" stroke-width="0.2"/><circle cx="394.44" cy="109.3" r="1.1" fill="#e8201c" stroke="#8a8a8a" stroke-width="0.2"/><circle cx="391.47" cy="109.31" r="1.37" fill="#8e8e8e" stroke="#8a8a8a" stroke-width="0.2"/><circle cx="386.92" cy="105.96" r="1.29" fill="#ffffff" stroke="#8a8a8a" stroke-width="0.2"/><circle cx="388.94" cy="111.47" r="1.11" fill="#e8201c" stroke="#8a8a8a" stroke-width="0.2"/><circle cx="396.99" cy="111.94" r="1.35" fill="#e8201c" stroke="#8a8a8a" stroke-width="0.2"/>
<circle cx="410.63" cy="106.23" r="1.35" fill="#d4d4d4" stroke="#8a8a8a" stroke-width="0.2"/><circle cx="402.35" cy="114.25" r="1.21" fill="#ffffff" stroke="#8a8a8a" stroke-width="0.2"/><circle cx="402.07" cy="112.26" r="1.16" fill="#8e8e8e" stroke="#8a8a8a" stroke-width="0.2"/><circle cx="406.86" cy="110.51" r="1.42" fill="#e2e2e2" stroke="#8a8a8a" stroke-width="0.2"/><circle cx="405.09" cy="114.53" r="1.28" fill="#c8c8c8" stroke="#8a8a8a" stroke-width="0.2"/><circle cx="405.7" cy="114.55" r="1.15" fill="#8e8e8e" stroke="#8a8a8a" stroke-width="0.2"/><circle cx="409.3" cy="108.82" r="1.13" fill="#2434e0" stroke="#8a8a8a" stroke-width="0.2"/><circle cx="405.81" cy="117.1" r="1.12" fill="#d4d4d4" stroke="#8a8a8a" stroke-width="0.2"/><circle cx="403.66" cy="113.1" r="1.19" fill="#e8201c" stroke="#8a8a8a" stroke-width="0.2"/><circle cx="405.18" cy="109.26" r="1.18" fill="#e8201c" stroke="#8a8a8a" stroke-width="0.2"/><circle cx="407.99" cy="104.28" r="1.06" fill="#e2e2e2" stroke="#8a8a8a" stroke-width="0.2"/><circle cx="403.59" cy="115.17" r="1.04" fill="#2434e0" stroke="#8a8a8a" stroke-width="0.2"/><circle cx="404.65" cy="110.96" r="1.26" fill="#ffffff" stroke="#8a8a8a" stroke-width="0.2"/><circle cx="401.35" cy="111.51" r="1.21" fill="#ececec" stroke="#8a8a8a" stroke-width="0.2"/><circle cx="405.94" cy="111.63" r="1.1" fill="#e8201c" stroke="#8a8a8a" stroke-width="0.2"/><circle cx="407.71" cy="104.38" r="1.3" fill="#c8c8c8" stroke="#8a8a8a" stroke-width="0.2"/><circle cx="405.18" cy="115.97" r="1.33" fill="#2434e0" stroke="#8a8a8a" stroke-width="0.2"/><circle cx="408.42" cy="112" r="1.37" fill="#ececec" stroke="#8a8a8a" stroke-width="0.2"/><circle cx="407.45" cy="115.42" r="1.08" fill="#ffffff" stroke="#8a8a8a" stroke-width="0.2"/><circle cx="403.41" cy="107.65" r="1.3" fill="#f6f6f6" stroke="#8a8a8a" stroke-width="0.2"/><circle cx="408.54" cy="116.82" r="1.39" fill="#8e8e8e" stroke="#8a8a8a" stroke-width="0.2"/><circle cx="404.16" cy="113.31" r="0.98" fill="#ececec" stroke="#8a8a8a" stroke-width="0.2"/><circle cx="407.52" cy="106.34" r="1.41" fill="#d4d4d4" stroke="#8a8a8a" stroke-width="0.2"/><circle cx="404.55" cy="115.48" r="1.27" fill="#d4d4d4" stroke="#8a8a8a" stroke-width="0.2"/><circle cx="411.58" cy="110.58" r="1.05" fill="#8e8e8e" stroke="#8a8a8a" stroke-width="0.2"/><circle cx="406.36" cy="114.41" r="1.07" fill="#c8c8c8" stroke="#8a8a8a" stroke-width="0.2"/><circle cx="403.25" cy="108.33" r="1.16" fill="#e2e2e2" stroke="#8a8a8a" stroke-width="0.2"/><circle cx="405.13" cy="109.49" r="1.2" fill="#ffffff" stroke="#8a8a8a" stroke-width="0.2"/><circle cx="407.72" cy="113.92" r="1.06" fill="#f6f6f6" stroke="#8a8a8a" stroke-width="0.2"/><circle cx="404.25" cy="112.2" r="1.14" fill="#c8c8c8" stroke="#8a8a8a" stroke-width="0.2"/><circle cx="406.58" cy="113.14" r="1.24" fill="#2434e0" stroke="#8a8a8a" stroke-width="0.2"/><circle cx="407.16" cy="113.01" r="1.36" fill="#ececec" stroke="#8a8a8a" stroke-width="0.2"/><circle cx="401.42" cy="112.89" r="1.29" fill="#ffffff" stroke="#8a8a8a" stroke-width="0.2"/><circle cx="402.36" cy="111.12" r="0.98" fill="#a4a4a4" stroke="#8a8a8a" stroke-width="0.2"/><circle cx="405.65" cy="116.89" r="1.42" fill="#8e8e8e" stroke="#8a8a8a" stroke-width="0.2"/><circle cx="407.11" cy="105.95" r="1.19" fill="#ececec" stroke="#8a8a8a" stroke-width="0.2"/><circle cx="404.5" cy="109.44" r="1.34" fill="#d4d4d4" stroke="#8a8a8a" stroke-width="0.2"/><circle cx="404.73" cy="117.56" r="1.42" fill="#d4d4d4" stroke="#8a8a8a" stroke-width="0.2"/><circle cx="409.76" cy="107.22" r="1.15" fill="#e2e2e2" stroke="#8a8a8a" stroke-width="0.2"/><circle cx="411.32" cy="111.27" r="1.38" fill="#ffffff" stroke="#8a8a8a" stroke-width="0.2"/><circle cx="403.11" cy="106.86" r="1.29" fill="#ffffff" stroke="#8a8a8a" stroke-width="0.2"/><circle cx="410.35" cy="107.24" r="1.15" fill="#2434e0" stroke="#8a8a8a" stroke-width="0.2"/>
<circle cx="406.54" cy="98.2" r="1.28" fill="#ececec" stroke="#8a8a8a" stroke-width="0.2"/><circle cx="408.11" cy="100.91" r="1.01" fill="#d4d4d4" stroke="#8a8a8a" stroke-width="0.2"/><circle cx="410.75" cy="101.06" r="1.15" fill="#8e8e8e" stroke="#8a8a8a" stroke-width="0.2"/><circle cx="407.33" cy="103.6" r="1.26" fill="#ececec" stroke="#8a8a8a" stroke-width="0.2"/><circle cx="408.9" cy="103.58" r="1.12" fill="#e2e2e2" stroke="#8a8a8a" stroke-width="0.2"/><circle cx="410.79" cy="99.21" r="1.1" fill="#c8c8c8" stroke="#8a8a8a" stroke-width="0.2"/><circle cx="407.19" cy="98.91" r="1.23" fill="#e2e2e2" stroke="#8a8a8a" stroke-width="0.2"/><circle cx="407.04" cy="96.99" r="0.98" fill="#e2e2e2" stroke="#8a8a8a" stroke-width="0.2"/><circle cx="407.38" cy="97.38" r="1.21" fill="#a4a4a4" stroke="#8a8a8a" stroke-width="0.2"/><circle cx="409.72" cy="103.66" r="0.91" fill="#e8201c" stroke="#8a8a8a" stroke-width="0.2"/><circle cx="407.39" cy="104.43" r="0.95" fill="#e8201c" stroke="#8a8a8a" stroke-width="0.2"/><circle cx="405.61" cy="100.76" r="1.29" fill="#2434e0" stroke="#8a8a8a" stroke-width="0.2"/><circle cx="408.37" cy="100.47" r="1.22" fill="#ececec" stroke="#8a8a8a" stroke-width="0.2"/><circle cx="406" cy="100.78" r="1.1" fill="#c8c8c8" stroke="#8a8a8a" stroke-width="0.2"/><circle cx="410.46" cy="100.28" r="0.98" fill="#ececec" stroke="#8a8a8a" stroke-width="0.2"/><circle cx="407.13" cy="97.89" r="0.91" fill="#8e8e8e" stroke="#8a8a8a" stroke-width="0.2"/>
<polyline points="307.4,141.41 307.83,141.44 308.26,141.47 308.69,141.5 309.11,141.52 309.54,141.55 309.97,141.58 310.4,141.61 310.83,141.64 311.26,141.66 311.69,141.69 312.11,141.72 312.54,141.74 312.97,141.77 313.4,141.79 313.83,141.81 314.26,141.83 314.69,141.86 315.11,141.88 315.54,141.9 315.97,141.91 316.4,141.93 316.83,141.95 317.26,141.97 317.69,141.98 318.11,141.99 318.54,142.01 318.8,142.01 318.97,142.02 319.4,142.03 319.83,142.04 320.26,142.05 320.69,142.06 321.11,142.07 321.54,142.09 321.97,142.1 322.4,142.11 322.83,142.12 323.26,142.13 323.69,142.14 324.11,142.14 324.54,142.15 324.97,142.16 325.4,142.17 325.83,142.18 326.26,142.18 326.69,142.19 327.11,142.2 327.54,142.2 327.97,142.21 328.4,142.21 328.83,142.21 329.26,142.21 329.69,142.22 330.11,142.22 330.2,142.22 330.54,142.22 330.97,142.22 331.4,142.22 331.83,142.22 332.26,142.22 332.69,142.22 333.11,142.22 333.54,142.22 333.97,142.22 334.19,142.22 334.4,142.18 334.83,141.87 335.26,141.31 335.44,141 335.69,140.19 336.11,137.23 336.54,133.28 336.58,132.89 336.97,128.81 337.4,122.92 337.83,114.86 337.84,114.65 338.26,99.43 338.52,88.3 338.69,81.69 339.09,67.42 339.11,66.97 339.54,60.3 339.78,57.89 339.97,56.23 340.4,53.32 340.69,52.01 340.83,51.54 341.26,50.34 341.69,49.42 342.11,48.66 342.17,48.57 342.54,47.98 342.97,47.39 343.4,46.89 343.77,46.54 343.83,46.49 344.26,46.14 344.69,45.82 345.11,45.53 345.54,45.27 345.97,45.04 346.4,44.84 346.73,44.72 346.83,44.68 347.26,44.53 347.69,44.39 348.11,44.26 348.54,44.13 348.97,44.02 349.4,43.92 349.83,43.83 350.26,43.77 350.69,43.72 350.95,43.7 351.11,43.7 351.54,43.67 351.97,43.65 352.4,43.64 352.83,43.62 353.26,43.6 353.69,43.59 354.11,43.57 354.54,43.56 354.97,43.55 355.4,43.54 355.83,43.53 356.26,43.52 356.69,43.52 357.11,43.51 357.54,43.51 357.97,43.5 358.4,43.5 358.7,43.5 358.83,43.5 359.26,43.5 359.69,43.5 360.11,43.5 360.54,43.5 360.97,43.51 361.4,43.51 361.83,43.51 362.26,43.51 362.69,43.52 363.11,43.52 363.54,43.52 363.97,43.53 364.4,43.53 364.83,43.54 365.26,43.54 365.69,43.55 366.11,43.55 366.54,43.56 366.97,43.56 367.4,43.57 367.83,43.57 368.26,43.58 368.69,43.59 369.11,43.59 369.54,43.6 369.97,43.61 370.4,43.61 370.83,43.62 371.26,43.63 371.69,43.63 372.11,43.64 372.54,43.65 372.97,43.65 373.4,43.66 373.83,43.67 374.26,43.68 374.69,43.68 375.11,43.69 375.54,43.7 375.8,43.7 375.97,43.71 376.4,43.71 376.83,43.72 377.26,43.73 377.69,43.74 378.11,43.75 378.54,43.76 378.97,43.77 379.4,43.78 379.83,43.79 380.26,43.8 380.69,43.82 381.11,43.83 381.54,43.84 381.97,43.85 382.4,43.87 382.83,43.88 383.26,43.89 383.69,43.91 384.11,43.92 384.54,43.93 384.97,43.95 385.4,43.96 385.83,43.98 386.26,44 386.69,44.01 387.11,44.03 387.54,44.04 387.97,44.06 388.4,44.08 388.83,44.09 389.26,44.11 389.69,44.13 390.11,44.15 390.54,44.16 390.97,44.18 391.4,44.2 391.83,44.22 392.26,44.23 392.69,44.25 393.11,44.27 393.54,44.29 393.97,44.31 394.4,44.33 394.83,44.35 395.26,44.37 395.69,44.38 396.11,44.4 396.54,44.42 396.97,44.44 397.4,44.46 397.83,44.48 398.26,44.5 398.6,44.51 398.69,44.52 399.11,44.54 399.54,44.56 399.97,44.58 400.4,44.6 400.83,44.62 401.26,44.64 401.69,44.66 402.11,44.68 402.54,44.7 402.97,44.73 403.4,44.75 403.83,44.77 404.26,44.79 404.69,44.82 405.11,44.84 405.54,44.86 405.97,44.89 406.4,44.91 406.83,44.94 407.26,44.96 407.69,44.99 408.11,45.01 408.54,45.04 408.97,45.07 409.4,45.09 409.83,45.12 410.26,45.15 410.69,45.18 411.11,45.2 411.54,45.23 411.97,45.26 412.4,45.29 412.83,45.32 413.26,45.35 413.69,45.38 414.11,45.41 414.54,45.44 414.97,45.47 415.4,45.51 415.7,45.53 415.83,45.54 416.26,45.57 416.69,45.6 417.11,45.62 417.54,45.65 417.97,45.67 418.4,45.7 418.83,45.72 419.26,45.75 419.69,45.77 420.11,45.8 420.54,45.83 420.97,45.86 421.4,45.89 421.83,45.93 422.26,45.97 422.69,46.01 423.11,46.06 423.54,46.12 423.97,46.18 424.4,46.24 424.83,46.32 425.26,46.4 425.69,46.48 425.96,46.54 426.11,46.58 426.54,46.79 426.97,47.14 427.4,47.66 427.83,48.39 428.01,48.77 428.26,50.36 428.69,56.5 429.11,63.46 429.15,63.97 429.54,69.7 429.97,76.16 430.4,81.25 430.52,82.22 430.83,84.22 431.26,86.59 431.69,88.55 432.11,90.18 432.54,91.59 432.8,92.35 432.97,92.84 433.4,93.98 433.83,95.02 434.26,95.96 434.69,96.83 435.11,97.62 435.54,98.36 435.97,99.06 436.22,99.45 436.4,99.72 436.83,100.34 437.26,100.93 437.69,101.49 438.11,102.02 438.54,102.53 438.97,103.01 439.4,103.48 439.83,103.94 440.26,104.38 440.69,104.82 440.78,104.92 441.11,105.26 441.54,105.69 441.97,106.11 442.4,106.52 442.83,106.92 443.26,107.31 443.69,107.68 444.11,108.04 444.54,108.38 444.97,108.71 445.34,108.97 445.4,109.02 445.83,109.31 446.26,109.59 446.69,109.86 447.11,110.12 447.54,110.37 447.97,110.61 448.4,110.84 448.83,111.07 449.26,111.29 449.69,111.5 449.9,111.61 450.11,111.72 450.54,111.95 450.97,112.2 451.4,112.43 451.83,112.62 452.26,112.76 452.69,112.82 452.75,112.82 453.11,112.78 453.54,112.64 453.97,112.5 454.4,112.42 454.46,112.42 454.83,112.54 455.26,112.9 455.69,113.39 456.11,113.85 456.54,114.18 456.74,114.24 456.97,114.28 457.4,114.32 457.83,114.35 458.26,114.37 458.69,114.41 459.02,114.45 459.11,114.46 459.54,114.56 459.97,114.72 460.4,114.9 460.83,115.11 461.26,115.33 461.69,115.55 462.11,115.74 462.44,115.87 462.54,115.9 462.97,116.05 463.4,116.19 463.83,116.34 464.26,116.47 464.69,116.61 465.11,116.74 465.54,116.87 465.97,116.99 466.4,117.12 466.83,117.24 467.26,117.36 467.69,117.47 468.11,117.59 468.54,117.7 468.97,117.81 469.28,117.89 469.4,117.92 469.83,118.03 470.26,118.14 470.69,118.25 471.11,118.35 471.54,118.46 471.97,118.56 472.4,118.66 472.83,118.76 473.26,118.86 473.69,118.96 474.11,119.05 474.54,119.15 474.97,119.24 475.4,119.33 475.83,119.42 476.26,119.51 476.69,119.59 477.11,119.68 477.54,119.76 477.97,119.84 478.4,119.92" fill="none" stroke="#ee1c25" stroke-width="1.4" stroke-linejoin="round" stroke-linecap="round"/>
<polyline points="307.4,141 307.83,141 308.26,141 308.69,141 309.11,141 309.54,141 309.97,141 310.4,141 310.83,141 311.26,141 311.69,141 312.11,141 312.54,141 312.97,141 313.4,141 313.83,141 314.26,141 314.69,141 315.11,141 315.54,141 315.97,141 316.4,141 316.83,141 317.26,141 317.69,141 318.11,141 318.54,141 318.8,141 318.97,141 319.4,141 319.83,141 320.26,141.01 320.69,141.01 321.11,141.02 321.54,141.03 321.97,141.04 322.4,141.05 322.83,141.06 323.26,141.07 323.69,141.08 324.11,141.09 324.54,141.1 324.97,141.11 325.4,141.13 325.83,141.14 326.26,141.15 326.69,141.16 327.11,141.17 327.54,141.17 327.97,141.18 328.4,141.19 328.83,141.19 329.26,141.2 329.69,141.2 330.11,141.2 330.2,141.2 330.54,141.2 330.97,141.2 331.4,141.2 331.83,141.2 332.26,141.2 332.69,141.2 333.11,141.2 333.54,141.2 333.97,141.2 334.3,141.2 334.4,141.19 334.83,140.98 335.22,140.59 335.26,140.53 335.69,138.4 336.11,134.51 336.54,130.23 336.7,128.84 336.97,126.43 337.4,122.45 337.83,118.67 337.95,117.69 338.26,115.33 338.69,112.24 339.09,109.99 339.11,109.89 339.54,108.19 339.97,106.72 340.4,105.46 340.83,104.36 341.26,103.38 341.49,102.89 341.69,102.48 342.11,101.65 342.54,100.88 342.97,100.21 343.4,99.63 343.77,99.24 343.83,99.19 344.26,98.81 344.69,98.48 345.11,98.18 345.54,97.9 345.97,97.66 346.4,97.43 346.83,97.23 347.26,97.03 347.3,97.01 347.69,96.85 348.11,96.68 348.54,96.51 348.97,96.36 349.4,96.22 349.83,96.09 350.26,95.97 350.69,95.86 350.95,95.8 351.11,95.76 351.54,95.67 351.97,95.58 352.4,95.49 352.83,95.41 353.26,95.33 353.69,95.25 354.11,95.18 354.54,95.11 354.97,95.04 355.4,94.98 355.83,94.92 356.26,94.86 356.69,94.8 357.11,94.75 357.54,94.7 357.97,94.66 358.4,94.61 358.7,94.58 358.83,94.57 359.26,94.53 359.69,94.49 360.11,94.46 360.54,94.42 360.97,94.39 361.4,94.36 361.83,94.33 362.26,94.3 362.69,94.27 363.11,94.24 363.54,94.22 363.97,94.19 364.4,94.16 364.83,94.14 365.26,94.12 365.69,94.09 366.11,94.07 366.54,94.04 366.97,94.02 367.4,94 367.83,93.97 368.26,93.95 368.69,93.92 369.11,93.9 369.54,93.87 369.97,93.84 370.4,93.81 370.83,93.78 371.01,93.77 371.26,93.75 371.69,93.73 372.11,93.7 372.54,93.68 372.97,93.66 373.4,93.64 373.83,93.61 374.26,93.58 374.69,93.55 375.11,93.51 375.54,93.47 375.97,93.42 376.37,93.37 376.4,93.36 376.83,93.2 377.26,92.92 377.69,92.6 378.11,92.32 378.54,92.16 378.65,92.15 378.97,92.13 379.4,92.11 379.83,92.09 380.26,92.08 380.69,92.06 381.11,92.05 381.54,92.03 381.97,92.02 382.4,92.01 382.83,92.01 383.26,92 383.69,91.99 384.11,91.99 384.54,91.98 384.97,91.97 385.4,91.97 385.83,91.96 386.26,91.96 386.69,91.95 387.11,91.95 387.2,91.95 387.54,91.94 387.97,91.94 388.4,91.93 388.83,91.92 389.26,91.92 389.69,91.91 390.11,91.91 390.54,91.9 390.97,91.9 391.4,91.89 391.83,91.88 392.26,91.88 392.69,91.87 393.11,91.87 393.54,91.86 393.97,91.86 394.4,91.85 394.83,91.85 395.26,91.84 395.69,91.84 396.11,91.83 396.54,91.83 396.97,91.82 397.4,91.82 397.83,91.81 398.26,91.81 398.69,91.8 399.11,91.8 399.54,91.8 399.97,91.79 400.4,91.79 400.83,91.79 401.26,91.78 401.69,91.78 402.11,91.78 402.54,91.77 402.97,91.77 403.4,91.77 403.83,91.76 404.26,91.76 404.69,91.76 405.11,91.76 405.54,91.75 405.97,91.75 406.4,91.75 406.83,91.75 407.26,91.75 407.69,91.75 408.11,91.75 408.54,91.75 408.97,91.74 409.4,91.74 409.83,91.74 410,91.74 410.26,91.74 410.69,91.74 411.11,91.74 411.54,91.74 411.97,91.74 412.4,91.74 412.83,91.74 413.26,91.74 413.69,91.74 414.11,91.74 414.54,91.74 414.97,91.74 415.4,91.74 415.83,91.74 416.26,91.74 416.69,91.74 417.11,91.74 417.54,91.74 417.97,91.74 418.4,91.74 418.83,91.74 419.26,91.74 419.69,91.74 420.11,91.74 420.54,91.74 420.97,91.74 421.4,91.74 421.83,91.74 422.26,91.74 422.69,91.74 423.11,91.74 423.54,91.74 423.97,91.74 424.4,91.74 424.83,91.74 425.26,91.74 425.69,91.74 426.11,91.74 426.54,91.74 426.97,91.74 427.4,91.74 427.67,91.74 427.83,91.77 428.26,92.14 428.69,92.87 429.11,93.87 429.15,93.97 429.54,96.81 429.97,101.75 430.29,104.51 430.4,105.09 430.83,107.15 431.26,108.87 431.69,110.27 432.11,111.36 432.23,111.61 432.54,112.21 432.97,112.95 433.4,113.6 433.83,114.17 434.26,114.66 434.69,115.1 435.08,115.46 435.11,115.49 435.54,115.85 435.97,116.19 436.4,116.51 436.83,116.8 437.26,117.08 437.69,117.34 438.11,117.57 438.54,117.8 438.97,118 439.4,118.2 439.64,118.3 439.83,118.37 440.26,118.54 440.69,118.69 441.11,118.84 441.54,118.97 441.97,119.1 442.4,119.22 442.83,119.34 443.26,119.46 443.69,119.58 444.11,119.69 444.2,119.72 444.54,119.81 444.97,119.92 445.4,120.03 445.83,120.13 446.26,120.23 446.69,120.33 447.11,120.43 447.54,120.53 447.97,120.63 448.4,120.73 448.83,120.84 449.26,120.95 449.69,121.07 449.9,121.14 450.11,121.21 450.54,121.37 450.97,121.57 451.4,121.77 451.83,121.97 452.26,122.14 452.69,122.27 453.11,122.34 453.32,122.35 453.54,122.33 453.97,122.19 454.4,121.98 454.83,121.76 455.26,121.59 455.6,121.54 455.69,121.54 456.11,121.62 456.54,121.77 456.97,121.94 457.4,122.08 457.83,122.15 457.88,122.15 458.26,122.12 458.69,122.03 459.11,121.92 459.54,121.82 459.97,121.75 460.16,121.74 460.4,121.75 460.83,121.76 461.26,121.78 461.69,121.8 462.11,121.84 462.54,121.88 462.97,121.92 463.4,121.97 463.83,122.02 464.26,122.07 464.69,122.12 465.11,122.17 465.54,122.22 465.97,122.26 466.4,122.3 466.83,122.34 467,122.35 467.26,122.37 467.69,122.4 468.11,122.43 468.54,122.45 468.97,122.48 469.4,122.51 469.83,122.54 470.26,122.56 470.69,122.59 471.11,122.62 471.54,122.64 471.97,122.67 472.4,122.69 472.83,122.72 473.26,122.74 473.69,122.76 474.11,122.78 474.54,122.8 474.97,122.82 475.4,122.84 475.83,122.86 476.26,122.88 476.69,122.9 477.11,122.92 477.54,122.93 477.97,122.95 478.4,122.96" fill="none" stroke="#2222e8" stroke-width="1.4" stroke-linejoin="round" stroke-linecap="round"/>
<line x1="438.4" y1="57" x2="438.4" y2="133" stroke="#808080" stroke-width="0.7" stroke-dasharray="2.2 1.3"/>
<line x1="417" y1="23.4" x2="426" y2="23.4" stroke="#ee1c25" stroke-width="1.2"/>
<text x="426.6" y="26.1" font-size="7.47" text-anchor="start" fill="#000">peptide-SWCNT chip</text>
<line x1="417" y1="41.2" x2="426" y2="41.2" stroke="#2222e8" stroke-width="1.2"/>
<text x="426.6" y="43.7" font-size="7.47" text-anchor="start" fill="#000">CM7 chip</text>
</g>
<g id="panel-c">
<line x1="39.3" y1="209.68" x2="39.3" y2="322.8" stroke="#c6c6c6" stroke-width="0.8"/>
<line x1="39.3" y1="322.8" x2="263.7" y2="322.8" stroke="#c6c6c6" stroke-width="0.8"/>
<line x1="37.3" y1="322.8" x2="39.3" y2="322.8" stroke="#c6c6c6" stroke-width="0.8"/>
<text x="33.7" y="325.9" font-size="8" text-anchor="end" fill="#262626">0</text>
<line x1="37.3" y1="308.66" x2="39.3" y2="308.66" stroke="#c6c6c6" stroke-width="0.8"/>
<text x="33.7" y="311.76" font-size="8" text-anchor="end" fill="#262626">50</text>
<line x1="37.3" y1="294.52" x2="39.3" y2="294.52" stroke="#c6c6c6" stroke-width="0.8"/>
<text x="33.7" y="297.62" font-size="8" text-anchor="end" fill="#262626">100</text>
<line x1="37.3" y1="280.38" x2="39.3" y2="280.38" stroke="#c6c6c6" stroke-width="0.8"/>
<text x="33.7" y="283.48" font-size="8" text-anchor="end" fill="#262626">150</text>
<line x1="37.3" y1="266.24" x2="39.3" y2="266.24" stroke="#c6c6c6" stroke-width="0.8"/>
<text x="33.7" y="269.34" font-size="8" text-anchor="end" fill="#262626">200</text>
<line x1="37.3" y1="252.1" x2="39.3" y2="252.1" stroke="#c6c6c6" stroke-width="0.8"/>
<text x="33.7" y="255.2" font-size="8" text-anchor="end" fill="#262626">250</text>
<line x1="37.3" y1="237.96" x2="39.3" y2="237.96" stroke="#c6c6c6" stroke-width="0.8"/>
<text x="33.7" y="241.06" font-size="8" text-anchor="end" fill="#262626">300</text>
<line x1="37.3" y1="223.82" x2="39.3" y2="223.82" stroke="#c6c6c6" stroke-width="0.8"/>
<text x="33.7" y="226.92" font-size="8" text-anchor="end" fill="#262626">350</text>
<line x1="37.3" y1="209.68" x2="39.3" y2="209.68" stroke="#c6c6c6" stroke-width="0.8"/>
<text x="33.7" y="212.78" font-size="8" text-anchor="end" fill="#262626">400</text>
<line x1="39.3" y1="322.8" x2="39.3" y2="324.8" stroke="#c6c6c6" stroke-width="0.8"/>
<line x1="151.3" y1="322.8" x2="151.3" y2="324.8" stroke="#c6c6c6" stroke-width="0.8"/>
<line x1="263.7" y1="322.8" x2="263.7" y2="324.8" stroke="#c6c6c6" stroke-width="0.8"/>
<text x="141.3" y="180" font-size="8.6" text-anchor="middle" font-weight="bold" fill="#000">c</text>
<text x="145" y="211.3" font-size="8.3" text-anchor="middle" fill="#262626">Response to TNT (501.5 ppm)</text>
<text x="17.6" y="266.2" font-size="8.4" text-anchor="middle" font-weight="bold" fill="#000" transform="rotate(-90 17.6 266.2)">Response (RU)</text>
<rect x="73.3" y="228.4" width="44.7" height="94.4" fill="#ff0000"/>
<rect x="185.2" y="288.4" width="44.7" height="34.4" fill="#0612c6"/>
<line x1="95.6" y1="223.5" x2="95.6" y2="233.2" stroke="#000" stroke-width="1"/>
<circle cx="207.3" cy="288.2" r="0.9" fill="#000"/>
<g stroke="#d8d8d8" stroke-width="0.5" fill="none"><circle cx="69" cy="269.5" r="2.4"/><circle cx="71" cy="274" r="2.4"/><circle cx="69" cy="278.6" r="2.4"/><circle cx="119.5" cy="270" r="2.2"/><circle cx="120.5" cy="276" r="2.2"/></g>
<circle cx="80.84" cy="264.88" r="1.61" fill="#f4f4f4" stroke="#8a8a8a" stroke-width="0.2"/><circle cx="82.66" cy="266.04" r="1.62" fill="#ffffff" stroke="#8a8a8a" stroke-width="0.2"/><circle cx="83.41" cy="259.18" r="1.54" fill="#ffffff" stroke="#8a8a8a" stroke-width="0.2"/><circle cx="76.29" cy="260.86" r="1.19" fill="#2434e0" stroke="#8a8a8a" stroke-width="0.2"/><circle cx="79.57" cy="266.54" r="1.34" fill="#cfcfcf" stroke="#8a8a8a" stroke-width="0.2"/><circle cx="81.46" cy="266.94" r="1.5" fill="#2434e0" stroke="#8a8a8a" stroke-width="0.2"/><circle cx="79.4" cy="263.03" r="1.45" fill="#2434e0" stroke="#8a8a8a" stroke-width="0.2"/><circle cx="75.4" cy="266.35" r="1.62" fill="#dcdcdc" stroke="#8a8a8a" stroke-width="0.2"/><circle cx="83.83" cy="263.66" r="1.33" fill="#ffffff" stroke="#8a8a8a" stroke-width="0.2"/><circle cx="82.95" cy="264.83" r="1.16" fill="#dcdcdc" stroke="#8a8a8a" stroke-width="0.2"/><circle cx="79.22" cy="270.02" r="1.37" fill="#ffffff" stroke="#8a8a8a" stroke-width="0.2"/><circle cx="81.08" cy="262.59" r="1.35" fill="#ffffff" stroke="#8a8a8a" stroke-width="0.2"/><circle cx="80.34" cy="262.25" r="1.54" fill="#dcdcdc" stroke="#8a8a8a" stroke-width="0.2"/><circle cx="81.73" cy="270.66" r="1.34" fill="#ffffff" stroke="#8a8a8a" stroke-width="0.2"/><circle cx="77.25" cy="268.88" r="1.47" fill="#2434e0" stroke="#8a8a8a" stroke-width="0.2"/><circle cx="83.16" cy="264.84" r="1.51" fill="#ffffff" stroke="#8a8a8a" stroke-width="0.2"/><circle cx="83.66" cy="262.75" r="1.17" fill="#f0f0f0" stroke="#8a8a8a" stroke-width="0.2"/><circle cx="80.02" cy="266.25" r="1.36" fill="#cfcfcf" stroke="#8a8a8a" stroke-width="0.2"/><circle cx="76.96" cy="259.8" r="1.34" fill="#b8b8b8" stroke="#8a8a8a" stroke-width="0.2"/><circle cx="84.89" cy="261.23" r="1.58" fill="#ffffff" stroke="#8a8a8a" stroke-width="0.2"/><circle cx="77.63" cy="259.32" r="1.39" fill="#f4f4f4" stroke="#8a8a8a" stroke-width="0.2"/><circle cx="84.81" cy="265.24" r="1.47" fill="#e9e9e9" stroke="#8a8a8a" stroke-width="0.2"/><circle cx="77.62" cy="262.2" r="1.6" fill="#dcdcdc" stroke="#8a8a8a" stroke-width="0.2"/><circle cx="84.19" cy="259.6" r="1.17" fill="#b8b8b8" stroke="#8a8a8a" stroke-width="0.2"/><circle cx="77.81" cy="268.9" r="1.4" fill="#dcdcdc" stroke="#8a8a8a" stroke-width="0.2"/><circle cx="78.62" cy="270.33" r="1.41" fill="#f0f0f0" stroke="#8a8a8a" stroke-width="0.2"/><circle cx="83.64" cy="261.61" r="1.59" fill="#ffffff" stroke="#8a8a8a" stroke-width="0.2"/><circle cx="83.07" cy="270.03" r="1.47" fill="#ffffff" stroke="#8a8a8a" stroke-width="0.2"/><circle cx="76.46" cy="265.67" r="1.6" fill="#dcdcdc" stroke="#8a8a8a" stroke-width="0.2"/><circle cx="75.43" cy="266.93" r="1.6" fill="#e9e9e9" stroke="#8a8a8a" stroke-width="0.2"/><circle cx="78.34" cy="270.22" r="1.48" fill="#ffffff" stroke="#8a8a8a" stroke-width="0.2"/><circle cx="75.88" cy="264.32" r="1.24" fill="#e9e9e9" stroke="#8a8a8a" stroke-width="0.2"/><circle cx="79.54" cy="259.08" r="1.27" fill="#e9e9e9" stroke="#8a8a8a" stroke-width="0.2"/><circle cx="83.63" cy="261.9" r="1.31" fill="#cfcfcf" stroke="#8a8a8a" stroke-width="0.2"/><circle cx="84.6" cy="265.48" r="1.27" fill="#f4f4f4" stroke="#8a8a8a" stroke-width="0.2"/><circle cx="80.34" cy="258.21" r="1.57" fill="#2434e0" stroke="#8a8a8a" stroke-width="0.2"/>
<circle cx="92.19" cy="250.65" r="1.12" fill="#b8b8b8" stroke="#8a8a8a" stroke-width="0.2"/><circle cx="94.99" cy="253.02" r="1.31" fill="#cfcfcf" stroke="#8a8a8a" stroke-width="0.2"/><circle cx="95.04" cy="254.98" r="1.52" fill="#cfcfcf" stroke="#8a8a8a" stroke-width="0.2"/><circle cx="95.35" cy="252.71" r="1.23" fill="#cfcfcf" stroke="#8a8a8a" stroke-width="0.2"/><circle cx="94.64" cy="247.07" r="1.13" fill="#2434e0" stroke="#8a8a8a" stroke-width="0.2"/><circle cx="95.41" cy="246.89" r="1.39" fill="#dcdcdc" stroke="#8a8a8a" stroke-width="0.2"/><circle cx="93.95" cy="249.4" r="1.53" fill="#ffffff" stroke="#8a8a8a" stroke-width="0.2"/><circle cx="94.89" cy="251.08" r="1.41" fill="#dcdcdc" stroke="#8a8a8a" stroke-width="0.2"/><circle cx="92.31" cy="253.45" r="1.37" fill="#cfcfcf" stroke="#8a8a8a" stroke-width="0.2"/><circle cx="95.52" cy="254.78" r="1.2" fill="#2434e0" stroke="#8a8a8a" stroke-width="0.2"/><circle cx="96.08" cy="250.98" r="1.21" fill="#f4f4f4" stroke="#8a8a8a" stroke-width="0.2"/><circle cx="94.46" cy="249.09" r="1.15" fill="#ffffff" stroke="#8a8a8a" stroke-width="0.2"/><circle cx="95.97" cy="250.94" r="1.1" fill="#e9e9e9" stroke="#8a8a8a" stroke-width="0.2"/><circle cx="94.31" cy="247.09" r="1.12" fill="#ffffff" stroke="#8a8a8a" stroke-width="0.2"/>
<circle cx="100.45" cy="268.46" r="1.61" fill="#f4f4f4" stroke="#8a8a8a" stroke-width="0.2"/><circle cx="95.98" cy="264.54" r="1.74" fill="#2434e0" stroke="#8a8a8a" stroke-width="0.2"/><circle cx="99.4" cy="266.33" r="1.47" fill="#ffffff" stroke="#8a8a8a" stroke-width="0.2"/><circle cx="99.59" cy="261.91" r="1.47" fill="#f4f4f4" stroke="#8a8a8a" stroke-width="0.2"/><circle cx="97.14" cy="260.71" r="1.65" fill="#ffffff" stroke="#8a8a8a" stroke-width="0.2"/><circle cx="100.12" cy="262.34" r="1.46" fill="#f0f0f0" stroke="#8a8a8a" stroke-width="0.2"/><circle cx="98.43" cy="260.05" r="1.29" fill="#2434e0" stroke="#8a8a8a" stroke-width="0.2"/><circle cx="97.77" cy="262.49" r="1.73" fill="#dcdcdc" stroke="#8a8a8a" stroke-width="0.2"/><circle cx="97.55" cy="257.18" r="1.54" fill="#ffffff" stroke="#8a8a8a" stroke-width="0.2"/><circle cx="98.57" cy="256.97" r="1.43" fill="#e9e9e9" stroke="#8a8a8a" stroke-width="0.2"/><circle cx="92.27" cy="265.69" r="1.52" fill="#dcdcdc" stroke="#8a8a8a" stroke-width="0.2"/><circle cx="99.02" cy="266.44" r="1.22" fill="#dcdcdc" stroke="#8a8a8a" stroke-width="0.2"/><circle cx="95.71" cy="266.63" r="1.65" fill="#f0f0f0" stroke="#8a8a8a" stroke-width="0.2"/><circle cx="95.4" cy="264.32" r="1.26" fill="#ffffff" stroke="#8a8a8a" stroke-width="0.2"/><circle cx="95.78" cy="269.03" r="1.53" fill="#f4f4f4" stroke="#8a8a8a" stroke-width="0.2"/><circle cx="94.68" cy="268.18" r="1.45" fill="#f0f0f0" stroke="#8a8a8a" stroke-width="0.2"/><circle cx="89.79" cy="264.33" r="1.63" fill="#ffffff" stroke="#8a8a8a" stroke-width="0.2"/><circle cx="92.92" cy="267.17" r="1.56" fill="#f0f0f0" stroke="#8a8a8a" stroke-width="0.2"/><circle cx="101.53" cy="258.33" r="1.36" fill="#ffffff" stroke="#8a8a8a" stroke-width="0.2"/><circle cx="92.68" cy="265.45" r="1.36" fill="#f4f4f4" stroke="#8a8a8a" stroke-width="0.2"/><circle cx="101.41" cy="262.32" r="1.35" fill="#e9e9e9" stroke="#8a8a8a" stroke-width="0.2"/><circle cx="102.06" cy="266.67" r="1.2" fill="#b8b8b8" stroke="#8a8a8a" stroke-width="0.2"/><circle cx="93.9" cy="260.1" r="1.33" fill="#f4f4f4" stroke="#8a8a8a" stroke-width="0.2"/><circle cx="100.55" cy="267.32" r="1.71" fill="#b8b8b8" stroke="#8a8a8a" stroke-width="0.2"/><circle cx="97.97" cy="266.52" r="1.36" fill="#ffffff" stroke="#8a8a8a" stroke-width="0.2"/><circle cx="102.89" cy="264.33" r="1.49" fill="#ffffff" stroke="#8a8a8a" stroke-width="0.2"/><circle cx="93.47" cy="268.84" r="1.36" fill="#2434e0" stroke="#8a8a8a" stroke-width="0.2"/><circle cx="96.74" cy="258.99" r="1.72" fill="#e9e9e9" stroke="#8a8a8a" stroke-width="0.2"/><circle cx="100.89" cy="267.38" r="1.49" fill="#e9e9e9" stroke="#8a8a8a" stroke-width="0.2"/><circle cx="98.66" cy="268.34" r="1.3" fill="#f4f4f4" stroke="#8a8a8a" stroke-width="0.2"/><circle cx="97.57" cy="263.54" r="1.71" fill="#dcdcdc" stroke="#8a8a8a" stroke-width="0.2"/><circle cx="92.34" cy="261.78" r="1.3" fill="#f0f0f0" stroke="#8a8a8a" stroke-width="0.2"/><circle cx="95.3" cy="266.64" r="1.53" fill="#e9e9e9" stroke="#8a8a8a" stroke-width="0.2"/><circle cx="93.55" cy="259.73" r="1.28" fill="#ffffff" stroke="#8a8a8a" stroke-width="0.2"/><circle cx="96.67" cy="257.89" r="1.33" fill="#cfcfcf" stroke="#8a8a8a" stroke-width="0.2"/><circle cx="102.79" cy="259.5" r="1.55" fill="#b8b8b8" stroke="#8a8a8a" stroke-width="0.2"/><circle cx="102.46" cy="263.94" r="1.35" fill="#cfcfcf" stroke="#8a8a8a" stroke-width="0.2"/><circle cx="101.23" cy="266.43" r="1.55" fill="#dcdcdc" stroke="#8a8a8a" stroke-width="0.2"/><circle cx="100.67" cy="265.97" r="1.26" fill="#ffffff" stroke="#8a8a8a" stroke-width="0.2"/><circle cx="102.84" cy="263.82" r="1.73" fill="#cfcfcf" stroke="#8a8a8a" stroke-width="0.2"/><circle cx="103.01" cy="260.4" r="1.23" fill="#ffffff" stroke="#8a8a8a" stroke-width="0.2"/><circle cx="97.07" cy="260.71" r="1.44" fill="#dcdcdc" stroke="#8a8a8a" stroke-width="0.2"/><circle cx="92.27" cy="259.01" r="1.51" fill="#ffffff" stroke="#8a8a8a" stroke-width="0.2"/><circle cx="98.82" cy="267.29" r="1.73" fill="#cfcfcf" stroke="#8a8a8a" stroke-width="0.2"/><circle cx="102.94" cy="263.47" r="1.44" fill="#f0f0f0" stroke="#8a8a8a" stroke-width="0.2"/><circle cx="94.69" cy="264.03" r="1.26" fill="#e9e9e9" stroke="#8a8a8a" stroke-width="0.2"/><circle cx="91.51" cy="262.82" r="1.52" fill="#ffffff" stroke="#8a8a8a" stroke-width="0.2"/><circle cx="98.15" cy="268.79" r="1.68" fill="#e9e9e9" stroke="#8a8a8a" stroke-width="0.2"/><circle cx="95.3" cy="260.18" r="1.39" fill="#ffffff" stroke="#8a8a8a" stroke-width="0.2"/><circle cx="90.46" cy="264.08" r="1.32" fill="#cfcfcf" stroke="#8a8a8a" stroke-width="0.2"/><circle cx="98.37" cy="257.51" r="1.62" fill="#e9e9e9" stroke="#8a8a8a" stroke-width="0.2"/><circle cx="102.82" cy="262.19" r="1.25" fill="#b8b8b8" stroke="#8a8a8a" stroke-width="0.2"/>
<circle cx="99.8" cy="269.82" r="1.22" fill="#f0f0f0" stroke="#8a8a8a" stroke-width="0.2"/><circle cx="99.66" cy="268.47" r="1.46" fill="#f0f0f0" stroke="#8a8a8a" stroke-width="0.2"/><circle cx="99.39" cy="270.85" r="1.5" fill="#ffffff" stroke="#8a8a8a" stroke-width="0.2"/><circle cx="97.07" cy="271.94" r="1.31" fill="#dcdcdc" stroke="#8a8a8a" stroke-width="0.2"/><circle cx="101.59" cy="271.62" r="1.62" fill="#f0f0f0" stroke="#8a8a8a" stroke-width="0.2"/><circle cx="97.17" cy="270.93" r="1.46" fill="#e9e9e9" stroke="#8a8a8a" stroke-width="0.2"/><circle cx="99.73" cy="271.27" r="1.23" fill="#b8b8b8" stroke="#8a8a8a" stroke-width="0.2"/><circle cx="97.37" cy="270.05" r="1.63" fill="#b8b8b8" stroke="#8a8a8a" stroke-width="0.2"/><circle cx="101.24" cy="271.5" r="1.27" fill="#cfcfcf" stroke="#8a8a8a" stroke-width="0.2"/><circle cx="97.52" cy="269.68" r="1.37" fill="#cfcfcf" stroke="#8a8a8a" stroke-width="0.2"/><circle cx="99.46" cy="273.66" r="1.27" fill="#ffffff" stroke="#8a8a8a" stroke-width="0.2"/><circle cx="101.48" cy="273.16" r="1.18" fill="#f4f4f4" stroke="#8a8a8a" stroke-width="0.2"/><circle cx="99.54" cy="272.86" r="1.65" fill="#f4f4f4" stroke="#8a8a8a" stroke-width="0.2"/><circle cx="98.47" cy="271.28" r="1.57" fill="#f4f4f4" stroke="#8a8a8a" stroke-width="0.2"/><circle cx="98.4" cy="272.25" r="1.37" fill="#ffffff" stroke="#8a8a8a" stroke-width="0.2"/><circle cx="99.6" cy="271.12" r="1.18" fill="#f4f4f4" stroke="#8a8a8a" stroke-width="0.2"/>
<rect x="65" y="282.2" width="56.7" height="6.9" fill="#f9b80f" rx="2" ry="2"/>
<rect x="182.6" y="274.9" width="45.4" height="7.4" fill="#f9b80f" rx="2" ry="2"/>
<path d="M187.5 275.4 C186.03 273.42 189.41 272.43 188.38 270.12 C187.87 268.67 186.33 268.47 185.89 269.99" fill="none" stroke="#2030e0" stroke-width="1.1" stroke-linecap="round"/>
<path d="M192 275.4 C190.53 273.42 193.91 272.43 192.88 270.12 C192.37 268.67 190.83 268.47 190.39 269.99" fill="none" stroke="#2030e0" stroke-width="1.1" stroke-linecap="round"/>
<path d="M196.5 275.4 C195.03 273.42 198.41 272.43 197.38 270.12 C196.87 268.67 195.33 268.47 194.89 269.99" fill="none" stroke="#2030e0" stroke-width="1.1" stroke-linecap="round"/>
<path d="M201 275.4 C199.53 273.42 202.91 272.43 201.88 270.12 C201.37 268.67 199.83 268.47 199.39 269.99" fill="none" stroke="#2030e0" stroke-width="1.1" stroke-linecap="round"/>
<path d="M205.5 275.4 C204.03 273.42 207.41 272.43 206.38 270.12 C205.87 268.67 204.33 268.47 203.89 269.99" fill="none" stroke="#2030e0" stroke-width="1.1" stroke-linecap="round"/>
<path d="M210 275.4 C208.53 273.42 211.91 272.43 210.88 270.12 C210.37 268.67 208.83 268.47 208.39 269.99" fill="none" stroke="#2030e0" stroke-width="1.1" stroke-linecap="round"/>
<path d="M214.5 275.4 C213.03 273.42 216.41 272.43 215.38 270.12 C214.87 268.67 213.33 268.47 212.89 269.99" fill="none" stroke="#2030e0" stroke-width="1.1" stroke-linecap="round"/>
<path d="M219 275.4 C217.53 273.42 220.91 272.43 219.88 270.12 C219.37 268.67 217.83 268.47 217.39 269.99" fill="none" stroke="#2030e0" stroke-width="1.1" stroke-linecap="round"/>
<path d="M223.5 275.4 C222.03 273.42 225.41 272.43 224.38 270.12 C223.87 268.67 222.33 268.47 221.89 269.99" fill="none" stroke="#2030e0" stroke-width="1.1" stroke-linecap="round"/>
<circle cx="187.36" cy="265.65" r="1.3" fill="#e8201c" stroke="#8a8a8a" stroke-width="0.2"/><circle cx="184.16" cy="263.5" r="1.03" fill="#f6f6f6" stroke="#8a8a8a" stroke-width="0.2"/><circle cx="183.66" cy="264.47" r="1.22" fill="#e8201c" stroke="#8a8a8a" stroke-width="0.2"/><circle cx="182.49" cy="266.84" r="1.31" fill="#ffffff" stroke="#8a8a8a" stroke-width="0.2"/><circle cx="184.98" cy="262.52" r="1.27" fill="#f6f6f6" stroke="#8a8a8a" stroke-width="0.2"/><circle cx="189.18" cy="263.26" r="1.12" fill="#f6f6f6" stroke="#8a8a8a" stroke-width="0.2"/><circle cx="186.15" cy="266.9" r="1.15" fill="#ffffff" stroke="#8a8a8a" stroke-width="0.2"/><circle cx="186.45" cy="267.16" r="1.21" fill="#a4a4a4" stroke="#8a8a8a" stroke-width="0.2"/><circle cx="186.31" cy="263.32" r="0.93" fill="#ececec" stroke="#8a8a8a" stroke-width="0.2"/><circle cx="188.18" cy="263.98" r="1.28" fill="#e2e2e2" stroke="#8a8a8a" stroke-width="0.2"/><circle cx="180.26" cy="265.23" r="1.25" fill="#c8c8c8" stroke="#8a8a8a" stroke-width="0.2"/><circle cx="187.41" cy="265.38" r="1.24" fill="#e2e2e2" stroke="#8a8a8a" stroke-width="0.2"/><circle cx="186.82" cy="266.95" r="1.11" fill="#d4d4d4" stroke="#8a8a8a" stroke-width="0.2"/><circle cx="187.44" cy="267.39" r="1.18" fill="#e2e2e2" stroke="#8a8a8a" stroke-width="0.2"/><circle cx="184.97" cy="268.62" r="0.93" fill="#f6f6f6" stroke="#8a8a8a" stroke-width="0.2"/><circle cx="183.56" cy="265.83" r="0.98" fill="#2434e0" stroke="#8a8a8a" stroke-width="0.2"/><circle cx="186.57" cy="263.04" r="1.2" fill="#d4d4d4" stroke="#8a8a8a" stroke-width="0.2"/><circle cx="184.23" cy="265.52" r="1.26" fill="#2434e0" stroke="#8a8a8a" stroke-width="0.2"/><circle cx="186.16" cy="267.19" r="1.05" fill="#ffffff" stroke="#8a8a8a" stroke-width="0.2"/><circle cx="185.53" cy="262.83" r="1" fill="#d4d4d4" stroke="#8a8a8a" stroke-width="0.2"/><circle cx="185.97" cy="268.49" r="0.99" fill="#c8c8c8" stroke="#8a8a8a" stroke-width="0.2"/><circle cx="183.32" cy="262.31" r="1.11" fill="#e8201c" stroke="#8a8a8a" stroke-width="0.2"/>
<circle cx="197.72" cy="266.86" r="1.23" fill="#ffffff" stroke="#8a8a8a" stroke-width="0.2"/><circle cx="199.97" cy="257.46" r="0.99" fill="#c8c8c8" stroke="#8a8a8a" stroke-width="0.2"/><circle cx="196.84" cy="261.88" r="0.94" fill="#2434e0" stroke="#8a8a8a" stroke-width="0.2"/><circle cx="199.43" cy="259.33" r="1.3" fill="#d4d4d4" stroke="#8a8a8a" stroke-width="0.2"/><circle cx="195.59" cy="259.11" r="1.29" fill="#8e8e8e" stroke="#8a8a8a" stroke-width="0.2"/><circle cx="198.42" cy="263.19" r="1.2" fill="#ececec" stroke="#8a8a8a" stroke-width="0.2"/><circle cx="201.18" cy="266.54" r="1.29" fill="#e2e2e2" stroke="#8a8a8a" stroke-width="0.2"/><circle cx="192.18" cy="261.09" r="1.21" fill="#a4a4a4" stroke="#8a8a8a" stroke-width="0.2"/><circle cx="194.36" cy="262.38" r="1.19" fill="#2434e0" stroke="#8a8a8a" stroke-width="0.2"/><circle cx="200.63" cy="260.57" r="0.92" fill="#e8201c" stroke="#8a8a8a" stroke-width="0.2"/><circle cx="194.31" cy="257.01" r="1.24" fill="#8e8e8e" stroke="#8a8a8a" stroke-width="0.2"/><circle cx="195.39" cy="259.52" r="1.09" fill="#f6f6f6" stroke="#8a8a8a" stroke-width="0.2"/><circle cx="201.83" cy="261.88" r="1.25" fill="#d4d4d4" stroke="#8a8a8a" stroke-width="0.2"/><circle cx="196.28" cy="260.43" r="1.03" fill="#e8201c" stroke="#8a8a8a" stroke-width="0.2"/><circle cx="197.63" cy="267.97" r="1.14" fill="#a4a4a4" stroke="#8a8a8a" stroke-width="0.2"/><circle cx="199.7" cy="258.96" r="1.3" fill="#e2e2e2" stroke="#8a8a8a" stroke-width="0.2"/><circle cx="197.49" cy="262.15" r="1.31" fill="#e8201c" stroke="#8a8a8a" stroke-width="0.2"/><circle cx="198.84" cy="261.67" r="1.14" fill="#f6f6f6" stroke="#8a8a8a" stroke-width="0.2"/><circle cx="192.22" cy="263.37" r="0.95" fill="#8e8e8e" stroke="#8a8a8a" stroke-width="0.2"/><circle cx="200.45" cy="264.99" r="0.91" fill="#f6f6f6" stroke="#8a8a8a" stroke-width="0.2"/><circle cx="193.16" cy="257.07" r="1.24" fill="#a4a4a4" stroke="#8a8a8a" stroke-width="0.2"/><circle cx="194.3" cy="262.39" r="0.92" fill="#8e8e8e" stroke="#8a8a8a" stroke-width="0.2"/><circle cx="197.65" cy="258.28" r="0.94" fill="#2434e0" stroke="#8a8a8a" stroke-width="0.2"/><circle cx="201.59" cy="266.16" r="0.91" fill="#8e8e8e" stroke="#8a8a8a" stroke-width="0.2"/><circle cx="195.05" cy="257.05" r="1.17" fill="#2434e0" stroke="#8a8a8a" stroke-width="0.2"/><circle cx="200.3" cy="264.58" r="1.01" fill="#8e8e8e" stroke="#8a8a8a" stroke-width="0.2"/><circle cx="194.48" cy="258.83" r="1.21" fill="#d4d4d4" stroke="#8a8a8a" stroke-width="0.2"/><circle cx="197.09" cy="263.59" r="0.9" fill="#ffffff" stroke="#8a8a8a" stroke-width="0.2"/><circle cx="202.35" cy="264.4" r="1.24" fill="#c8c8c8" stroke="#8a8a8a" stroke-width="0.2"/><circle cx="198.12" cy="256.89" r="1.16" fill="#d4d4d4" stroke="#8a8a8a" stroke-width="0.2"/><circle cx="198.67" cy="263.01" r="1.05" fill="#8e8e8e" stroke="#8a8a8a" stroke-width="0.2"/><circle cx="194.01" cy="259.65" r="1.17" fill="#d4d4d4" stroke="#8a8a8a" stroke-width="0.2"/><circle cx="193.71" cy="263.3" r="1.27" fill="#e8201c" stroke="#8a8a8a" stroke-width="0.2"/><circle cx="197.91" cy="260.67" r="1.1" fill="#e8201c" stroke="#8a8a8a" stroke-width="0.2"/><circle cx="200.64" cy="264.77" r="1.32" fill="#ffffff" stroke="#8a8a8a" stroke-width="0.2"/><circle cx="194.4" cy="268.57" r="1.14" fill="#d4d4d4" stroke="#8a8a8a" stroke-width="0.2"/><circle cx="196.15" cy="265.21" r="1.25" fill="#8e8e8e" stroke="#8a8a8a" stroke-width="0.2"/><circle cx="198.3" cy="264.63" r="1.13" fill="#e8201c" stroke="#8a8a8a" stroke-width="0.2"/>
<circle cx="205.16" cy="261.82" r="1.14" fill="#ececec" stroke="#8a8a8a" stroke-width="0.2"/><circle cx="208" cy="262.99" r="1.16" fill="#a4a4a4" stroke="#8a8a8a" stroke-width="0.2"/><circle cx="209.79" cy="262.42" r="0.9" fill="#d4d4d4" stroke="#8a8a8a" stroke-width="0.2"/><circle cx="213.2" cy="261.86" r="0.93" fill="#e2e2e2" stroke="#8a8a8a" stroke-width="0.2"/><circle cx="209.26" cy="264.62" r="1.18" fill="#ffffff" stroke="#8a8a8a" stroke-width="0.2"/><circle cx="210.18" cy="258.19" r="1.08" fill="#2434e0" stroke="#8a8a8a" stroke-width="0.2"/><circle cx="207.34" cy="265.75" r="1.03" fill="#ffffff" stroke="#8a8a8a" stroke-width="0.2"/><circle cx="210.06" cy="261.85" r="0.93" fill="#2434e0" stroke="#8a8a8a" stroke-width="0.2"/><circle cx="211.66" cy="259.62" r="1.2" fill="#ececec" stroke="#8a8a8a" stroke-width="0.2"/><circle cx="214.66" cy="261.44" r="0.97" fill="#a4a4a4" stroke="#8a8a8a" stroke-width="0.2"/><circle cx="210.21" cy="265.5" r="1.11" fill="#ffffff" stroke="#8a8a8a" stroke-width="0.2"/><circle cx="214.6" cy="263.09" r="1.25" fill="#a4a4a4" stroke="#8a8a8a" stroke-width="0.2"/><circle cx="210.16" cy="263.56" r="1.31" fill="#8e8e8e" stroke="#8a8a8a" stroke-width="0.2"/><circle cx="206.2" cy="264.4" r="1.28" fill="#2434e0" stroke="#8a8a8a" stroke-width="0.2"/><circle cx="210.37" cy="265.82" r="1.31" fill="#2434e0" stroke="#8a8a8a" stroke-width="0.2"/><circle cx="214.73" cy="263.14" r="1.19" fill="#2434e0" stroke="#8a8a8a" stroke-width="0.2"/><circle cx="211.89" cy="259.79" r="1.11" fill="#ececec" stroke="#8a8a8a" stroke-width="0.2"/><circle cx="207.24" cy="260.77" r="1.24" fill="#f6f6f6" stroke="#8a8a8a" stroke-width="0.2"/><circle cx="208.86" cy="263.21" r="1.29" fill="#ececec" stroke="#8a8a8a" stroke-width="0.2"/><circle cx="209.77" cy="259.88" r="1.15" fill="#c8c8c8" stroke="#8a8a8a" stroke-width="0.2"/><circle cx="210.17" cy="259.25" r="1.11" fill="#d4d4d4" stroke="#8a8a8a" stroke-width="0.2"/><circle cx="212.59" cy="259.15" r="1.27" fill="#a4a4a4" stroke="#8a8a8a" stroke-width="0.2"/><circle cx="206.34" cy="263.77" r="0.96" fill="#a4a4a4" stroke="#8a8a8a" stroke-width="0.2"/><circle cx="209.51" cy="266.42" r="1.17" fill="#ececec" stroke="#8a8a8a" stroke-width="0.2"/>
<circle cx="227.16" cy="258.84" r="1.31" fill="#e2e2e2" stroke="#8a8a8a" stroke-width="0.2"/><circle cx="216.99" cy="260.1" r="0.96" fill="#c8c8c8" stroke="#8a8a8a" stroke-width="0.2"/><circle cx="219.77" cy="263.52" r="1.07" fill="#8e8e8e" stroke="#8a8a8a" stroke-width="0.2"/><circle cx="226.5" cy="256.5" r="1.14" fill="#ffffff" stroke="#8a8a8a" stroke-width="0.2"/><circle cx="216.83" cy="258.5" r="1.14" fill="#ececec" stroke="#8a8a8a" stroke-width="0.2"/><circle cx="218.78" cy="260.14" r="1.3" fill="#c8c8c8" stroke="#8a8a8a" stroke-width="0.2"/><circle cx="219.35" cy="255.61" r="0.98" fill="#e8201c" stroke="#8a8a8a" stroke-width="0.2"/><circle cx="218.55" cy="266.42" r="1.11" fill="#e2e2e2" stroke="#8a8a8a" stroke-width="0.2"/><circle cx="225.08" cy="255.41" r="1.03" fill="#d4d4d4" stroke="#8a8a8a" stroke-width="0.2"/><circle cx="222.59" cy="256.42" r="1.08" fill="#2434e0" stroke="#8a8a8a" stroke-width="0.2"/><circle cx="216.85" cy="257.78" r="1.17" fill="#2434e0" stroke="#8a8a8a" stroke-width="0.2"/><circle cx="224.19" cy="257.01" r="1.27" fill="#e2e2e2" stroke="#8a8a8a" stroke-width="0.2"/><circle cx="221.72" cy="258.13" r="1.16" fill="#ececec" stroke="#8a8a8a" stroke-width="0.2"/><circle cx="217.93" cy="261.49" r="0.95" fill="#a4a4a4" stroke="#8a8a8a" stroke-width="0.2"/><circle cx="228.04" cy="262.03" r="1.16" fill="#e8201c" stroke="#8a8a8a" stroke-width="0.2"/><circle cx="218.63" cy="258.45" r="1.26" fill="#c8c8c8" stroke="#8a8a8a" stroke-width="0.2"/><circle cx="224.75" cy="257.75" r="1.13" fill="#ffffff" stroke="#8a8a8a" stroke-width="0.2"/><circle cx="224.27" cy="258.31" r="1.05" fill="#d4d4d4" stroke="#8a8a8a" stroke-width="0.2"/><circle cx="225.3" cy="262.96" r="0.98" fill="#e8201c" stroke="#8a8a8a" stroke-width="0.2"/><circle cx="221.8" cy="263.85" r="0.98" fill="#e8201c" stroke="#8a8a8a" stroke-width="0.2"/><circle cx="218.38" cy="261.43" r="0.96" fill="#2434e0" stroke="#8a8a8a" stroke-width="0.2"/><circle cx="220.22" cy="258.87" r="0.99" fill="#d4d4d4" stroke="#8a8a8a" stroke-width="0.2"/><circle cx="225.75" cy="265.8" r="0.94" fill="#2434e0" stroke="#8a8a8a" stroke-width="0.2"/><circle cx="217.47" cy="265.15" r="1" fill="#ffffff" stroke="#8a8a8a" stroke-width="0.2"/><circle cx="222.26" cy="261.71" r="1.16" fill="#8e8e8e" stroke="#8a8a8a" stroke-width="0.2"/><circle cx="220.29" cy="266.29" r="1.1" fill="#ececec" stroke="#8a8a8a" stroke-width="0.2"/><circle cx="227.36" cy="263.08" r="1.12" fill="#8e8e8e" stroke="#8a8a8a" stroke-width="0.2"/><circle cx="221.8" cy="256.27" r="1.21" fill="#d4d4d4" stroke="#8a8a8a" stroke-width="0.2"/><circle cx="219.04" cy="258.16" r="0.91" fill="#8e8e8e" stroke="#8a8a8a" stroke-width="0.2"/><circle cx="219.25" cy="260" r="0.97" fill="#8e8e8e" stroke="#8a8a8a" stroke-width="0.2"/><circle cx="218.09" cy="258.61" r="0.97" fill="#a4a4a4" stroke="#8a8a8a" stroke-width="0.2"/><circle cx="221.78" cy="263.84" r="0.92" fill="#e2e2e2" stroke="#8a8a8a" stroke-width="0.2"/><circle cx="217.62" cy="263.88" r="0.93" fill="#8e8e8e" stroke="#8a8a8a" stroke-width="0.2"/><circle cx="220.62" cy="258.28" r="0.92" fill="#d4d4d4" stroke="#8a8a8a" stroke-width="0.2"/><circle cx="217.7" cy="260.28" r="1.3" fill="#ececec" stroke="#8a8a8a" stroke-width="0.2"/><circle cx="226" cy="254.4" r="0.92" fill="#ececec" stroke="#8a8a8a" stroke-width="0.2"/><circle cx="220.57" cy="259.47" r="1.2" fill="#e2e2e2" stroke="#8a8a8a" stroke-width="0.2"/><circle cx="226.37" cy="266.31" r="0.98" fill="#d4d4d4" stroke="#8a8a8a" stroke-width="0.2"/><circle cx="221.7" cy="253.95" r="1.11" fill="#e8201c" stroke="#8a8a8a" stroke-width="0.2"/><circle cx="220.12" cy="266.9" r="1.03" fill="#d4d4d4" stroke="#8a8a8a" stroke-width="0.2"/><circle cx="218.46" cy="265.64" r="0.97" fill="#ececec" stroke="#8a8a8a" stroke-width="0.2"/><circle cx="227.86" cy="258.04" r="1.29" fill="#e2e2e2" stroke="#8a8a8a" stroke-width="0.2"/>
<text x="95.5" y="335.3" font-size="8.35" text-anchor="middle" fill="#262626">SWCNTs+peptide</text>
<text x="207.2" y="335.3" font-size="8.2" text-anchor="middle" fill="#262626">CM7 chip +peptide</text>
</g>
<g id="panel-d">
<rect x="298.6" y="183.6" width="229.5" height="163.6" fill="none" stroke="#3a3a3a" stroke-width="1.0"/>
<line x1="298.6" y1="347.2" x2="298.6" y2="342.2" stroke="#3a3a3a" stroke-width="1"/>
<line x1="298.6" y1="183.6" x2="298.6" y2="188.6" stroke="#3a3a3a" stroke-width="1"/>
<text x="298.6" y="359.7" font-size="13.3" text-anchor="middle" fill="#000">0</text>
<line x1="321.15" y1="347.2" x2="321.15" y2="344.3" stroke="#3a3a3a" stroke-width="1"/>
<line x1="321.15" y1="183.6" x2="321.15" y2="186.5" stroke="#3a3a3a" stroke-width="1"/>
<line x1="343.7" y1="347.2" x2="343.7" y2="342.2" stroke="#3a3a3a" stroke-width="1"/>
<line x1="343.7" y1="183.6" x2="343.7" y2="188.6" stroke="#3a3a3a" stroke-width="1"/>
<text x="343.7" y="359.7" font-size="13.3" text-anchor="middle" fill="#000">20</text>
<line x1="366.25" y1="347.2" x2="366.25" y2="344.3" stroke="#3a3a3a" stroke-width="1"/>
<line x1="366.25" y1="183.6" x2="366.25" y2="186.5" stroke="#3a3a3a" stroke-width="1"/>
<line x1="388.8" y1="347.2" x2="388.8" y2="342.2" stroke="#3a3a3a" stroke-width="1"/>
<line x1="388.8" y1="183.6" x2="388.8" y2="188.6" stroke="#3a3a3a" stroke-width="1"/>
<text x="388.8" y="359.7" font-size="13.3" text-anchor="middle" fill="#000">40</text>
<line x1="411.35" y1="347.2" x2="411.35" y2="344.3" stroke="#3a3a3a" stroke-width="1"/>
<line x1="411.35" y1="183.6" x2="411.35" y2="186.5" stroke="#3a3a3a" stroke-width="1"/>
<line x1="433.9" y1="347.2" x2="433.9" y2="342.2" stroke="#3a3a3a" stroke-width="1"/>
<line x1="433.9" y1="183.6" x2="433.9" y2="188.6" stroke="#3a3a3a" stroke-width="1"/>
<text x="433.9" y="359.7" font-size="13.3" text-anchor="middle" fill="#000">60</text>
<line x1="456.45" y1="347.2" x2="456.45" y2="344.3" stroke="#3a3a3a" stroke-width="1"/>
<line x1="456.45" y1="183.6" x2="456.45" y2="186.5" stroke="#3a3a3a" stroke-width="1"/>
<line x1="479" y1="347.2" x2="479" y2="342.2" stroke="#3a3a3a" stroke-width="1"/>
<line x1="479" y1="183.6" x2="479" y2="188.6" stroke="#3a3a3a" stroke-width="1"/>
<text x="479" y="359.7" font-size="13.3" text-anchor="middle" fill="#000">80</text>
<line x1="501.55" y1="347.2" x2="501.55" y2="344.3" stroke="#3a3a3a" stroke-width="1"/>
<line x1="501.55" y1="183.6" x2="501.55" y2="186.5" stroke="#3a3a3a" stroke-width="1"/>
<line x1="524.1" y1="347.2" x2="524.1" y2="342.2" stroke="#3a3a3a" stroke-width="1"/>
<line x1="524.1" y1="183.6" x2="524.1" y2="188.6" stroke="#3a3a3a" stroke-width="1"/>
<text x="517.8" y="359.7" font-size="13.3" text-anchor="middle" fill="#000">100</text>
<line x1="298.6" y1="347.2" x2="303.6" y2="347.2" stroke="#3a3a3a" stroke-width="1"/>
<line x1="528.1" y1="347.2" x2="523.1" y2="347.2" stroke="#3a3a3a" stroke-width="1"/>
<text x="297" y="351.7" font-size="13.3" text-anchor="end" fill="#000">0</text>
<line x1="298.6" y1="332.22" x2="301.5" y2="332.22" stroke="#3a3a3a" stroke-width="1"/>
<line x1="528.1" y1="332.22" x2="525.2" y2="332.22" stroke="#3a3a3a" stroke-width="1"/>
<line x1="298.6" y1="317.24" x2="303.6" y2="317.24" stroke="#3a3a3a" stroke-width="1"/>
<line x1="528.1" y1="317.24" x2="523.1" y2="317.24" stroke="#3a3a3a" stroke-width="1"/>
<text x="297" y="321.74" font-size="13.3" text-anchor="end" fill="#000">20</text>
<line x1="298.6" y1="302.26" x2="301.5" y2="302.26" stroke="#3a3a3a" stroke-width="1"/>
<line x1="528.1" y1="302.26" x2="525.2" y2="302.26" stroke="#3a3a3a" stroke-width="1"/>
<line x1="298.6" y1="287.28" x2="303.6" y2="287.28" stroke="#3a3a3a" stroke-width="1"/>
<line x1="528.1" y1="287.28" x2="523.1" y2="287.28" stroke="#3a3a3a" stroke-width="1"/>
<text x="297" y="291.78" font-size="13.3" text-anchor="end" fill="#000">40</text>
<line x1="298.6" y1="272.3" x2="301.5" y2="272.3" stroke="#3a3a3a" stroke-width="1"/>
<line x1="528.1" y1="272.3" x2="525.2" y2="272.3" stroke="#3a3a3a" stroke-width="1"/>
<line x1="298.6" y1="257.32" x2="303.6" y2="257.32" stroke="#3a3a3a" stroke-width="1"/>
<line x1="528.1" y1="257.32" x2="523.1" y2="257.32" stroke="#3a3a3a" stroke-width="1"/>
<text x="297" y="261.82" font-size="13.3" text-anchor="end" fill="#000">60</text>
<line x1="298.6" y1="242.34" x2="301.5" y2="242.34" stroke="#3a3a3a" stroke-width="1"/>
<line x1="528.1" y1="242.34" x2="525.2" y2="242.34" stroke="#3a3a3a" stroke-width="1"/>
<line x1="298.6" y1="227.36" x2="303.6" y2="227.36" stroke="#3a3a3a" stroke-width="1"/>
<line x1="528.1" y1="227.36" x2="523.1" y2="227.36" stroke="#3a3a3a" stroke-width="1"/>
<text x="297" y="231.86" font-size="13.3" text-anchor="end" fill="#000">80</text>
<line x1="298.6" y1="212.38" x2="301.5" y2="212.38" stroke="#3a3a3a" stroke-width="1"/>
<line x1="528.1" y1="212.38" x2="525.2" y2="212.38" stroke="#3a3a3a" stroke-width="1"/>
<line x1="298.6" y1="197.4" x2="303.6" y2="197.4" stroke="#3a3a3a" stroke-width="1"/>
<line x1="528.1" y1="197.4" x2="523.1" y2="197.4" stroke="#3a3a3a" stroke-width="1"/>
<text x="297" y="201.9" font-size="13.3" text-anchor="end" fill="#000">100</text>
<line x1="298.6" y1="182.42" x2="301.5" y2="182.42" stroke="#3a3a3a" stroke-width="1"/>
<line x1="528.1" y1="182.42" x2="525.2" y2="182.42" stroke="#3a3a3a" stroke-width="1"/>
<text x="393.2" y="178.2" font-size="8.4" text-anchor="middle" font-weight="bold" fill="#000">d</text>
<text x="278.8" y="259" font-size="13" text-anchor="middle" fill="#000" transform="rotate(-90 278.8 259)">Response (RU)</text>
<text x="414.3" y="373" font-size="12.6" text-anchor="middle" fill="#000">Concentration of TNT (ppm)</text>
<path d="M296.9 345.85 L300.4 341.55 L303.9 345.85 L300.4 350.16Z" fill="#0000ff"/>
<line x1="302.21" y1="340.31" x2="302.21" y2="343.31" stroke="#0000ff" stroke-width="1.1"/>
<line x1="299.81" y1="340.31" x2="304.61" y2="340.31" stroke="#0000ff" stroke-width="1.1"/>
<line x1="299.81" y1="343.31" x2="304.61" y2="343.31" stroke="#0000ff" stroke-width="1.1"/>
<path d="M298.71 341.81 L302.21 337.5 L305.71 341.81 L302.21 346.11Z" fill="#0000ff"/>
<line x1="305.82" y1="333.87" x2="305.82" y2="336.86" stroke="#0000ff" stroke-width="1.1"/>
<line x1="303.42" y1="333.87" x2="308.22" y2="333.87" stroke="#0000ff" stroke-width="1.1"/>
<line x1="303.42" y1="336.86" x2="308.22" y2="336.86" stroke="#0000ff" stroke-width="1.1"/>
<path d="M302.32 335.37 L305.82 331.06 L309.32 335.37 L305.82 339.67Z" fill="#0000ff"/>
<line x1="312.81" y1="326.08" x2="312.81" y2="329.97" stroke="#0000ff" stroke-width="1.1"/>
<line x1="310.41" y1="326.08" x2="315.21" y2="326.08" stroke="#0000ff" stroke-width="1.1"/>
<line x1="310.41" y1="329.97" x2="315.21" y2="329.97" stroke="#0000ff" stroke-width="1.1"/>
<path d="M309.31 328.03 L312.81 323.72 L316.31 328.03 L312.81 332.33Z" fill="#0000ff"/>
<line x1="326.79" y1="300.16" x2="326.79" y2="316.34" stroke="#0000ff" stroke-width="1.1"/>
<line x1="324.39" y1="300.16" x2="329.19" y2="300.16" stroke="#0000ff" stroke-width="1.1"/>
<line x1="324.39" y1="316.34" x2="329.19" y2="316.34" stroke="#0000ff" stroke-width="1.1"/>
<path d="M323.29 308.25 L326.79 303.95 L330.29 308.25 L326.79 312.56Z" fill="#0000ff"/>
<line x1="354.98" y1="273.05" x2="354.98" y2="296.12" stroke="#0000ff" stroke-width="1.1"/>
<line x1="352.58" y1="273.05" x2="357.38" y2="273.05" stroke="#0000ff" stroke-width="1.1"/>
<line x1="352.58" y1="296.12" x2="357.38" y2="296.12" stroke="#0000ff" stroke-width="1.1"/>
<path d="M351.48 284.58 L354.98 280.28 L358.48 284.58 L354.98 288.89Z" fill="#0000ff"/>
<line x1="411.35" y1="250.58" x2="411.35" y2="255.67" stroke="#0000ff" stroke-width="1.1"/>
<line x1="408.95" y1="250.58" x2="413.75" y2="250.58" stroke="#0000ff" stroke-width="1.1"/>
<line x1="408.95" y1="255.67" x2="413.75" y2="255.67" stroke="#0000ff" stroke-width="1.1"/>
<path d="M407.85 253.13 L411.35 248.82 L414.85 253.13 L411.35 257.43Z" fill="#0000ff"/>
<line x1="524.1" y1="191.41" x2="524.1" y2="203.39" stroke="#0000ff" stroke-width="1.1"/>
<line x1="521.7" y1="191.41" x2="526.5" y2="191.41" stroke="#0000ff" stroke-width="1.1"/>
<line x1="521.7" y1="203.39" x2="526.5" y2="203.39" stroke="#0000ff" stroke-width="1.1"/>
<path d="M520.6 197.4 L524.1 193.09 L527.6 197.4 L524.1 201.7Z" fill="#0000ff"/>
<rect x="415.5" y="256.6" width="104" height="72.9" fill="#ffffff" stroke="#8c8c8c" stroke-width="0.8"/>
<line x1="415.5" y1="329.5" x2="415.5" y2="327.7" stroke="#8c8c8c" stroke-width="0.5"/>
<line x1="415.5" y1="256.6" x2="415.5" y2="258.4" stroke="#8c8c8c" stroke-width="0.5"/>
<text x="415.5" y="335.1" font-size="5.4" text-anchor="middle" fill="#333">0</text>
<line x1="423.47" y1="329.5" x2="423.47" y2="328.5" stroke="#8c8c8c" stroke-width="0.5"/>
<line x1="423.47" y1="256.6" x2="423.47" y2="257.6" stroke="#8c8c8c" stroke-width="0.5"/>
<line x1="431.44" y1="329.5" x2="431.44" y2="327.7" stroke="#8c8c8c" stroke-width="0.5"/>
<line x1="431.44" y1="256.6" x2="431.44" y2="258.4" stroke="#8c8c8c" stroke-width="0.5"/>
<text x="431.44" y="335.1" font-size="5.4" text-anchor="middle" fill="#333">2</text>
<line x1="439.41" y1="329.5" x2="439.41" y2="328.5" stroke="#8c8c8c" stroke-width="0.5"/>
<line x1="439.41" y1="256.6" x2="439.41" y2="257.6" stroke="#8c8c8c" stroke-width="0.5"/>
<line x1="447.38" y1="329.5" x2="447.38" y2="327.7" stroke="#8c8c8c" stroke-width="0.5"/>
<line x1="447.38" y1="256.6" x2="447.38" y2="258.4" stroke="#8c8c8c" stroke-width="0.5"/>
<text x="447.38" y="335.1" font-size="5.4" text-anchor="middle" fill="#333">4</text>
<line x1="455.35" y1="329.5" x2="455.35" y2="328.5" stroke="#8c8c8c" stroke-width="0.5"/>
<line x1="455.35" y1="256.6" x2="455.35" y2="257.6" stroke="#8c8c8c" stroke-width="0.5"/>
<line x1="463.32" y1="329.5" x2="463.32" y2="327.7" stroke="#8c8c8c" stroke-width="0.5"/>
<line x1="463.32" y1="256.6" x2="463.32" y2="258.4" stroke="#8c8c8c" stroke-width="0.5"/>
<text x="463.32" y="335.1" font-size="5.4" text-anchor="middle" fill="#333">6</text>
<line x1="471.29" y1="329.5" x2="471.29" y2="328.5" stroke="#8c8c8c" stroke-width="0.5"/>
<line x1="471.29" y1="256.6" x2="471.29" y2="257.6" stroke="#8c8c8c" stroke-width="0.5"/>
<line x1="479.26" y1="329.5" x2="479.26" y2="327.7" stroke="#8c8c8c" stroke-width="0.5"/>
<line x1="479.26" y1="256.6" x2="479.26" y2="258.4" stroke="#8c8c8c" stroke-width="0.5"/>
<text x="479.26" y="335.1" font-size="5.4" text-anchor="middle" fill="#333">8</text>
<line x1="487.23" y1="329.5" x2="487.23" y2="328.5" stroke="#8c8c8c" stroke-width="0.5"/>
<line x1="487.23" y1="256.6" x2="487.23" y2="257.6" stroke="#8c8c8c" stroke-width="0.5"/>
<line x1="495.2" y1="329.5" x2="495.2" y2="327.7" stroke="#8c8c8c" stroke-width="0.5"/>
<line x1="495.2" y1="256.6" x2="495.2" y2="258.4" stroke="#8c8c8c" stroke-width="0.5"/>
<text x="495.2" y="335.1" font-size="5.4" text-anchor="middle" fill="#333">10</text>
<line x1="503.17" y1="329.5" x2="503.17" y2="328.5" stroke="#8c8c8c" stroke-width="0.5"/>
<line x1="503.17" y1="256.6" x2="503.17" y2="257.6" stroke="#8c8c8c" stroke-width="0.5"/>
<line x1="511.14" y1="329.5" x2="511.14" y2="327.7" stroke="#8c8c8c" stroke-width="0.5"/>
<line x1="511.14" y1="256.6" x2="511.14" y2="258.4" stroke="#8c8c8c" stroke-width="0.5"/>
<text x="511.14" y="335.1" font-size="5.4" text-anchor="middle" fill="#333">12</text>
<line x1="415.5" y1="329.5" x2="417.3" y2="329.5" stroke="#8c8c8c" stroke-width="0.5"/>
<line x1="519.5" y1="329.5" x2="517.7" y2="329.5" stroke="#8c8c8c" stroke-width="0.5"/>
<text x="413.9" y="331.3" font-size="5.4" text-anchor="end" fill="#333">0</text>
<line x1="415.5" y1="318.7" x2="416.5" y2="318.7" stroke="#8c8c8c" stroke-width="0.5"/>
<line x1="519.5" y1="318.7" x2="518.5" y2="318.7" stroke="#8c8c8c" stroke-width="0.5"/>
<line x1="415.5" y1="307.9" x2="417.3" y2="307.9" stroke="#8c8c8c" stroke-width="0.5"/>
<line x1="519.5" y1="307.9" x2="517.7" y2="307.9" stroke="#8c8c8c" stroke-width="0.5"/>
<text x="413.9" y="309.7" font-size="5.4" text-anchor="end" fill="#333">10</text>
<line x1="415.5" y1="297.1" x2="416.5" y2="297.1" stroke="#8c8c8c" stroke-width="0.5"/>
<line x1="519.5" y1="297.1" x2="518.5" y2="297.1" stroke="#8c8c8c" stroke-width="0.5"/>
<line x1="415.5" y1="286.3" x2="417.3" y2="286.3" stroke="#8c8c8c" stroke-width="0.5"/>
<line x1="519.5" y1="286.3" x2="517.7" y2="286.3" stroke="#8c8c8c" stroke-width="0.5"/>
<text x="413.9" y="288.1" font-size="5.4" text-anchor="end" fill="#333">20</text>
<line x1="415.5" y1="275.5" x2="416.5" y2="275.5" stroke="#8c8c8c" stroke-width="0.5"/>
<line x1="519.5" y1="275.5" x2="518.5" y2="275.5" stroke="#8c8c8c" stroke-width="0.5"/>
<line x1="415.5" y1="264.7" x2="417.3" y2="264.7" stroke="#8c8c8c" stroke-width="0.5"/>
<line x1="519.5" y1="264.7" x2="517.7" y2="264.7" stroke="#8c8c8c" stroke-width="0.5"/>
<text x="413.9" y="266.5" font-size="5.4" text-anchor="end" fill="#333">30</text>
<line x1="415.5" y1="329.5" x2="519.11" y2="270.32" stroke="#ff5a5a" stroke-width="0.6"/>
<line x1="421.88" y1="323.45" x2="421.88" y2="329.5" stroke="#f03030" stroke-width="0.8"/>
<line x1="420.58" y1="323.45" x2="423.18" y2="323.45" stroke="#f03030" stroke-width="0.8"/>
<line x1="420.58" y1="329.5" x2="423.18" y2="329.5" stroke="#f03030" stroke-width="0.8"/>
<circle cx="421.88" cy="326.48" r="1.3" fill="#fff" stroke="#f03030" stroke-width="0.7"/>
<line x1="428.25" y1="315.24" x2="428.25" y2="326.48" stroke="#f03030" stroke-width="0.8"/>
<line x1="426.95" y1="315.24" x2="429.55" y2="315.24" stroke="#f03030" stroke-width="0.8"/>
<line x1="426.95" y1="326.48" x2="429.55" y2="326.48" stroke="#f03030" stroke-width="0.8"/>
<circle cx="428.25" cy="320.86" r="1.3" fill="#fff" stroke="#f03030" stroke-width="0.7"/>
<line x1="441" y1="307.47" x2="441" y2="316.97" stroke="#f03030" stroke-width="0.8"/>
<line x1="439.7" y1="307.47" x2="442.3" y2="307.47" stroke="#f03030" stroke-width="0.8"/>
<line x1="439.7" y1="316.97" x2="442.3" y2="316.97" stroke="#f03030" stroke-width="0.8"/>
<circle cx="441" cy="312.22" r="1.3" fill="#fff" stroke="#f03030" stroke-width="0.7"/>
<line x1="465.71" y1="295.37" x2="465.71" y2="306.6" stroke="#f03030" stroke-width="0.8"/>
<line x1="464.41" y1="295.37" x2="467.01" y2="295.37" stroke="#f03030" stroke-width="0.8"/>
<line x1="464.41" y1="306.6" x2="467.01" y2="306.6" stroke="#f03030" stroke-width="0.8"/>
<circle cx="465.71" cy="300.99" r="1.3" fill="#fff" stroke="#f03030" stroke-width="0.7"/>
<line x1="515.12" y1="257.57" x2="515.12" y2="286.95" stroke="#f03030" stroke-width="0.8"/>
<line x1="513.83" y1="257.57" x2="516.42" y2="257.57" stroke="#f03030" stroke-width="0.8"/>
<line x1="513.83" y1="286.95" x2="516.42" y2="286.95" stroke="#f03030" stroke-width="0.8"/>
<circle cx="515.12" cy="272.26" r="1.3" fill="#fff" stroke="#f03030" stroke-width="0.7"/>
<text x="433.8" y="287.2" font-size="6.5" font-weight="bold" fill="#f01818">R<tspan font-size="4" dy="-2.4">2</tspan><tspan dy="2.4">=0.9940</tspan></text>
<text x="468.3" y="341.6" font-size="5.8" text-anchor="middle" fill="#333">Concentration of TNT (ppm)</text>
<text x="406.6" y="292.3" font-size="5.9" text-anchor="middle" fill="#333" transform="rotate(-90 406.6 292.3)">Response (RU)</text>
</g>
<g id="panel-e">
<line x1="33.4" y1="393.2" x2="33.4" y2="472.4" stroke="#c6c6c6" stroke-width="0.8"/>
<line x1="33.4" y1="463.6" x2="292.6" y2="463.6" stroke="#c6c6c6" stroke-width="0.8"/>
<line x1="31.4" y1="472.4" x2="33.4" y2="472.4" stroke="#c6c6c6" stroke-width="0.8"/>
<text x="26.5" y="475.2" font-size="8.2" text-anchor="end" fill="#262626">-10</text>
<line x1="31.4" y1="463.6" x2="33.4" y2="463.6" stroke="#c6c6c6" stroke-width="0.8"/>
<text x="26.5" y="466.4" font-size="8.2" text-anchor="end" fill="#262626">0</text>
<line x1="31.4" y1="454.8" x2="33.4" y2="454.8" stroke="#c6c6c6" stroke-width="0.8"/>
<text x="26.5" y="457.6" font-size="8.2" text-anchor="end" fill="#262626">10</text>
<line x1="31.4" y1="446" x2="33.4" y2="446" stroke="#c6c6c6" stroke-width="0.8"/>
<text x="26.5" y="448.8" font-size="8.2" text-anchor="end" fill="#262626">20</text>
<line x1="31.4" y1="437.2" x2="33.4" y2="437.2" stroke="#c6c6c6" stroke-width="0.8"/>
<text x="26.5" y="440" font-size="8.2" text-anchor="end" fill="#262626">30</text>
<line x1="31.4" y1="428.4" x2="33.4" y2="428.4" stroke="#c6c6c6" stroke-width="0.8"/>
<text x="26.5" y="431.2" font-size="8.2" text-anchor="end" fill="#262626">40</text>
<line x1="31.4" y1="419.6" x2="33.4" y2="419.6" stroke="#c6c6c6" stroke-width="0.8"/>
<text x="26.5" y="422.4" font-size="8.2" text-anchor="end" fill="#262626">50</text>
<line x1="31.4" y1="410.8" x2="33.4" y2="410.8" stroke="#c6c6c6" stroke-width="0.8"/>
<text x="26.5" y="413.6" font-size="8.2" text-anchor="end" fill="#262626">60</text>
<line x1="31.4" y1="402" x2="33.4" y2="402" stroke="#c6c6c6" stroke-width="0.8"/>
<text x="26.5" y="404.8" font-size="8.2" text-anchor="end" fill="#262626">70</text>
<line x1="31.4" y1="393.2" x2="33.4" y2="393.2" stroke="#c6c6c6" stroke-width="0.8"/>
<text x="26.5" y="396" font-size="8.2" text-anchor="end" fill="#262626">80</text>
<line x1="33.4" y1="463.6" x2="33.4" y2="465.4" stroke="#c6c6c6" stroke-width="0.8"/>
<line x1="85.24" y1="463.6" x2="85.24" y2="465.4" stroke="#c6c6c6" stroke-width="0.8"/>
<line x1="137.08" y1="463.6" x2="137.08" y2="465.4" stroke="#c6c6c6" stroke-width="0.8"/>
<line x1="188.92" y1="463.6" x2="188.92" y2="465.4" stroke="#c6c6c6" stroke-width="0.8"/>
<line x1="240.76" y1="463.6" x2="240.76" y2="465.4" stroke="#c6c6c6" stroke-width="0.8"/>
<line x1="292.6" y1="463.6" x2="292.6" y2="465.4" stroke="#c6c6c6" stroke-width="0.8"/>
<text x="142" y="386.6" font-size="8.6" text-anchor="middle" font-weight="bold" fill="#000">e</text>
<text x="12.2" y="433.2" font-size="8.14" text-anchor="middle" font-weight="bold" fill="#000" transform="rotate(-90 12.2 433.2)">Response (RU)</text>
<rect x="48.4" y="401.3" width="20.6" height="62.3" fill="#0612c6"/>
<rect x="100.4" y="462.7" width="20.8" height="0.9" fill="#3a55d8"/>
<rect x="206" y="463.6" width="18" height="0.7" fill="#9aa6ea"/>
<rect x="256.2" y="460.1" width="20.8" height="3.5" fill="#0612c6"/>
<circle cx="59" cy="401.2" r="0.8" fill="#ff2a2a"/>
<circle cx="110.5" cy="462" r="0.8" fill="#ff2a2a"/>
<circle cx="162.5" cy="463.2" r="0.8" fill="#ff2a2a"/>
<circle cx="214" cy="463.6" r="0.8" fill="#ff2a2a"/>
<circle cx="266.5" cy="459.6" r="0.8" fill="#ff2a2a"/>
<text x="60.92" y="473.8" font-size="7.5" text-anchor="end" fill="#262626" transform="rotate(-45 60.92 473.8)">TNT</text>
<text x="112.76" y="473.8" font-size="7.5" text-anchor="end" fill="#262626" transform="rotate(-45 112.76 473.8)">RDX</text>
<text x="164.6" y="473.8" font-size="7.5" text-anchor="end" fill="#262626" transform="rotate(-45 164.6 473.8)">2,6- DNT</text>
<text x="216.44" y="473.8" font-size="7.5" text-anchor="end" fill="#262626" transform="rotate(-45 216.44 473.8)">DNP-glycine</text>
<text x="268.28" y="473.8" font-size="7.5" text-anchor="end" fill="#262626" transform="rotate(-45 268.28 473.8)">4-Nitrobenzoyl-glycyl-glycine</text>
<text x="162.9" y="544" font-size="5.5" text-anchor="middle" font-weight="bold" fill="#000">Analyte</text>
<polygon points="77.7,395.1 83.94,398.7 83.94,405.9 77.7,409.5 71.46,405.9 71.46,398.7" fill="none" stroke="#1a1a1a" stroke-width="0.7"/>
<line x1="77.7" y1="396.68" x2="82.56" y2="399.49" stroke="#1a1a1a" stroke-width="0.5"/>
<line x1="82.56" y1="405.11" x2="77.7" y2="407.92" stroke="#1a1a1a" stroke-width="0.5"/>
<line x1="72.84" y1="405.11" x2="72.84" y2="399.49" stroke="#1a1a1a" stroke-width="0.5"/>
<line x1="77.7" y1="395.1" x2="77.7" y2="390.9" stroke="#1a1a1a" stroke-width="0.7"/>
<text x="80.6" y="391.27" font-size="5.8" text-anchor="middle" fill="#1a1a1a">CH<tspan font-size="3.94" dy="1">3</tspan></text>
<line x1="71.46" y1="398.7" x2="66.86" y2="396.3" stroke="#1a1a1a" stroke-width="0.7"/>
<text x="67" y="398.17" font-size="5.8" text-anchor="end" fill="#1a1a1a">O<tspan font-size="3.94" dy="1">2</tspan><tspan dy="-1">N</tspan></text>
<line x1="83.94" y1="398.7" x2="88.54" y2="396.1" stroke="#1a1a1a" stroke-width="0.7"/>
<text x="88.2" y="398.17" font-size="5.8" text-anchor="start" fill="#1a1a1a">NO<tspan font-size="3.94" dy="1">2</tspan></text>
<line x1="77.7" y1="409.5" x2="77.7" y2="413.7" stroke="#1a1a1a" stroke-width="0.7"/>
<text x="80.6" y="419.17" font-size="5.8" text-anchor="middle" fill="#1a1a1a">NO<tspan font-size="3.94" dy="1">2</tspan></text>
<line x1="115" y1="426.1" x2="120.8" y2="429.45" stroke="#1a1a1a" stroke-width="0.7"/>
<line x1="122.53" y1="432.45" x2="122.53" y2="439.15" stroke="#1a1a1a" stroke-width="0.7"/>
<line x1="122.53" y1="439.15" x2="116.73" y2="442.5" stroke="#1a1a1a" stroke-width="0.7"/>
<line x1="113.27" y1="442.5" x2="107.47" y2="439.15" stroke="#1a1a1a" stroke-width="0.7"/>
<line x1="107.47" y1="439.15" x2="107.47" y2="432.45" stroke="#1a1a1a" stroke-width="0.7"/>
<line x1="109.2" y1="429.45" x2="115" y2="426.1" stroke="#1a1a1a" stroke-width="0.7"/>
<text x="122.53" y="432.63" font-size="6.4" text-anchor="middle" fill="#1a1a1a">N</text>
<text x="115" y="445.68" font-size="6.4" text-anchor="middle" fill="#1a1a1a">N</text>
<text x="107.47" y="432.63" font-size="6.4" text-anchor="middle" fill="#1a1a1a">N</text>
<line x1="105.27" y1="429.25" x2="100.47" y2="426.85" stroke="#1a1a1a" stroke-width="0.7"/>
<text x="98.4" y="428.44" font-size="6.6" text-anchor="end" fill="#1a1a1a">O<tspan font-size="4.49" dy="1">2</tspan><tspan dy="-1">N</tspan></text>
<line x1="124.73" y1="429.25" x2="130.53" y2="426.65" stroke="#1a1a1a" stroke-width="0.7"/>
<text x="132.2" y="428.44" font-size="6.6" text-anchor="start" fill="#1a1a1a">NO<tspan font-size="4.49" dy="1">2</tspan></text>
<line x1="115" y1="445.7" x2="115" y2="451.1" stroke="#1a1a1a" stroke-width="0.7"/>
<text x="118.4" y="457.24" font-size="6.6" text-anchor="middle" fill="#1a1a1a">NO<tspan font-size="4.49" dy="1">2</tspan></text>
<polygon points="164.3,438.2 170.8,441.95 170.8,449.45 164.3,453.2 157.8,449.45 157.8,441.95" fill="none" stroke="#1a1a1a" stroke-width="0.7"/>
<line x1="164.3" y1="439.85" x2="169.37" y2="442.77" stroke="#1a1a1a" stroke-width="0.5"/>
<line x1="169.37" y1="448.62" x2="164.3" y2="451.55" stroke="#1a1a1a" stroke-width="0.5"/>
<line x1="159.23" y1="448.62" x2="159.23" y2="442.77" stroke="#1a1a1a" stroke-width="0.5"/>
<line x1="164.3" y1="438.2" x2="164.3" y2="433.2" stroke="#1a1a1a" stroke-width="0.7"/>
<text x="166.6" y="431.04" font-size="6" text-anchor="middle" fill="#1a1a1a">CH<tspan font-size="4.08" dy="1">3</tspan></text>
<line x1="157.8" y1="441.95" x2="152.8" y2="439.35" stroke="#1a1a1a" stroke-width="0.7"/>
<text x="151.2" y="440.34" font-size="6" text-anchor="end" fill="#1a1a1a">O<tspan font-size="4.08" dy="1">2</tspan><tspan dy="-1">N</tspan></text>
<line x1="170.8" y1="441.95" x2="175.4" y2="439.35" stroke="#1a1a1a" stroke-width="0.7"/>
<text x="175.5" y="440.34" font-size="6" text-anchor="start" fill="#1a1a1a">NO<tspan font-size="4.08" dy="1">2</tspan></text>
<polygon points="223.89,407.49 223.23,415.06 216.34,418.27 210.11,413.91 210.77,406.34 217.66,403.13" fill="none" stroke="#1a1a1a" stroke-width="0.7"/>
<line x1="222.37" y1="408.19" x2="221.86" y2="414.1" stroke="#1a1a1a" stroke-width="0.5"/>
<line x1="216.48" y1="416.61" x2="211.63" y2="413.21" stroke="#1a1a1a" stroke-width="0.5"/>
<line x1="212.14" y1="407.3" x2="217.52" y2="404.79" stroke="#1a1a1a" stroke-width="0.5"/>
<line x1="223.89" y1="407.49" x2="228.09" y2="405.69" stroke="#1a1a1a" stroke-width="0.7"/>
<text x="229" y="406.2" font-size="5.6" text-anchor="start" fill="#1a1a1a">NO<tspan font-size="3.81" dy="1">2</tspan></text>
<line x1="216.34" y1="418.27" x2="217.54" y2="421.87" stroke="#1a1a1a" stroke-width="0.7"/>
<text x="221" y="426.4" font-size="5.6" text-anchor="middle" fill="#1a1a1a">NO<tspan font-size="3.81" dy="1">2</tspan></text>
<line x1="210.11" y1="413.91" x2="207.2" y2="416.6" stroke="#1a1a1a" stroke-width="0.7"/>
<text x="205" y="420.5" font-size="5.6" text-anchor="middle" fill="#1a1a1a">NH</text>
<line x1="203.2" y1="420.6" x2="199.2" y2="426.2" stroke="#1a1a1a" stroke-width="0.7"/>
<line x1="199.2" y1="426.2" x2="194.2" y2="429" stroke="#1a1a1a" stroke-width="0.7"/>
<line x1="194.2" y1="429" x2="189.6" y2="425.6" stroke="#1a1a1a" stroke-width="0.7"/>
<line x1="194.97" y1="427.95" x2="190.37" y2="424.55" stroke="#1a1a1a" stroke-width="0.5"/>
<text x="187.4" y="426.2" font-size="5.6" text-anchor="middle" fill="#1a1a1a">O</text>
<line x1="194.2" y1="429" x2="193.6" y2="433.4" stroke="#1a1a1a" stroke-width="0.7"/>
<text x="191.8" y="437.7" font-size="5.6" text-anchor="middle" fill="#1a1a1a">HO</text>
<polygon points="244.11,446.05 237.3,448.94 231.39,444.49 232.29,437.15 239.1,434.26 245.01,438.71" fill="none" stroke="#1a1a1a" stroke-width="0.7"/>
<line x1="237.5" y1="447.33" x2="232.89" y2="443.86" stroke="#1a1a1a" stroke-width="0.5"/>
<line x1="238.9" y1="435.87" x2="243.51" y2="439.34" stroke="#1a1a1a" stroke-width="0.5"/>
<line x1="232.29" y1="437.15" x2="229.09" y2="434.95" stroke="#1a1a1a" stroke-width="0.7"/>
<text x="222.8" y="435.5" font-size="5.6" text-anchor="middle" fill="#1a1a1a">NO<tspan font-size="3.81" dy="1">2</tspan></text>
<line x1="244.11" y1="446.05" x2="248.6" y2="449.2" stroke="#1a1a1a" stroke-width="0.7"/>
<line x1="248.6" y1="449.2" x2="248.6" y2="454.8" stroke="#1a1a1a" stroke-width="0.7"/>
<line x1="247.3" y1="449.2" x2="247.3" y2="454.8" stroke="#1a1a1a" stroke-width="0.5"/>
<text x="248.6" y="459.3" font-size="5.6" text-anchor="middle" fill="#1a1a1a">O</text>
<line x1="248.6" y1="449.2" x2="253.4" y2="446.2" stroke="#1a1a1a" stroke-width="0.7"/>
<text x="255.4" y="446.7" font-size="5.6" text-anchor="middle" fill="#1a1a1a">N</text>
<text x="255.4" y="442.43" font-size="4.8" text-anchor="middle" fill="#1a1a1a">H</text>
<line x1="257.4" y1="446" x2="261.4" y2="448.6" stroke="#1a1a1a" stroke-width="0.7"/>
<line x1="261.4" y1="448.6" x2="267.8" y2="444.6" stroke="#1a1a1a" stroke-width="0.7"/>
<line x1="267.8" y1="444.6" x2="267.8" y2="440.6" stroke="#1a1a1a" stroke-width="0.7"/>
<line x1="269.1" y1="444.6" x2="269.1" y2="440.6" stroke="#1a1a1a" stroke-width="0.5"/>
<text x="267.8" y="440.1" font-size="5.6" text-anchor="middle" fill="#1a1a1a">O</text>
<line x1="267.8" y1="444.6" x2="271.8" y2="447.8" stroke="#1a1a1a" stroke-width="0.7"/>
<text x="273.6" y="451.1" font-size="5.6" text-anchor="middle" fill="#1a1a1a">N</text>
<text x="273.6" y="455.53" font-size="4.8" text-anchor="middle" fill="#1a1a1a">H</text>
<line x1="275.4" y1="448.4" x2="280" y2="445.2" stroke="#1a1a1a" stroke-width="0.7"/>
<line x1="280" y1="445.2" x2="285.6" y2="449.2" stroke="#1a1a1a" stroke-width="0.7"/>
<line x1="285.6" y1="449.2" x2="285.6" y2="454.8" stroke="#1a1a1a" stroke-width="0.7"/>
<line x1="284.3" y1="449.2" x2="284.3" y2="454.8" stroke="#1a1a1a" stroke-width="0.5"/>
<text x="285.6" y="459.3" font-size="5.6" text-anchor="middle" fill="#1a1a1a">O</text>
<line x1="285.6" y1="449.2" x2="289.4" y2="446.8" stroke="#1a1a1a" stroke-width="0.7"/>
<text x="289.6" y="447.3" font-size="5.6" text-anchor="start" fill="#1a1a1a">OH</text>
</g>
<g id="panel-f">
<line x1="331" y1="389.52" x2="331" y2="511.8" stroke="#c6c6c6" stroke-width="0.8"/>
<line x1="331" y1="511.8" x2="524" y2="511.8" stroke="#c6c6c6" stroke-width="0.8"/>
<line x1="329" y1="511.8" x2="331" y2="511.8" stroke="#c6c6c6" stroke-width="0.8"/>
<text x="324.6" y="514.4" font-size="7.5" text-anchor="end" fill="#262626">0</text>
<line x1="329" y1="491.42" x2="331" y2="491.42" stroke="#c6c6c6" stroke-width="0.8"/>
<text x="324.6" y="494.02" font-size="7.5" text-anchor="end" fill="#262626">20</text>
<line x1="329" y1="471.04" x2="331" y2="471.04" stroke="#c6c6c6" stroke-width="0.8"/>
<text x="324.6" y="473.64" font-size="7.5" text-anchor="end" fill="#262626">40</text>
<line x1="329" y1="450.66" x2="331" y2="450.66" stroke="#c6c6c6" stroke-width="0.8"/>
<text x="324.6" y="453.26" font-size="7.5" text-anchor="end" fill="#262626">60</text>
<line x1="329" y1="430.28" x2="331" y2="430.28" stroke="#c6c6c6" stroke-width="0.8"/>
<text x="324.6" y="432.88" font-size="7.5" text-anchor="end" fill="#262626">80</text>
<line x1="329" y1="409.9" x2="331" y2="409.9" stroke="#c6c6c6" stroke-width="0.8"/>
<text x="324.6" y="412.5" font-size="7.5" text-anchor="end" fill="#262626">100</text>
<line x1="329" y1="389.52" x2="331" y2="389.52" stroke="#c6c6c6" stroke-width="0.8"/>
<text x="324.6" y="392.12" font-size="7.5" text-anchor="end" fill="#262626">120</text>
<line x1="331" y1="511.8" x2="331" y2="513.8" stroke="#c6c6c6" stroke-width="0.8"/>
<line x1="379.25" y1="511.8" x2="379.25" y2="513.8" stroke="#c6c6c6" stroke-width="0.8"/>
<line x1="427.5" y1="511.8" x2="427.5" y2="513.8" stroke="#c6c6c6" stroke-width="0.8"/>
<line x1="475.75" y1="511.8" x2="475.75" y2="513.8" stroke="#c6c6c6" stroke-width="0.8"/>
<line x1="524" y1="511.8" x2="524" y2="513.8" stroke="#c6c6c6" stroke-width="0.8"/>
<text x="393.4" y="386.8" font-size="9.2" text-anchor="middle" font-weight="bold" fill="#000">f</text>
<text x="309.5" y="450.2" font-size="8.36" text-anchor="middle" font-weight="bold" fill="#000" transform="rotate(-90 309.5 450.2)">Response (RU)</text>
<rect x="346.5" y="409.1" width="19.3" height="102.7" fill="#0612c6"/>
<line x1="356.15" y1="403.2" x2="356.15" y2="414.9" stroke="#ff2222" stroke-width="1"/>
<circle cx="356.15" cy="403.2" r="0.6" fill="#ff2a2a"/>
<circle cx="356.15" cy="414.9" r="0.6" fill="#ff2a2a"/>
<text x="355.95" y="524.5" font-size="8.4" text-anchor="middle" fill="#262626">Day 1</text>
<rect x="394.5" y="425.6" width="19.3" height="86.2" fill="#0612c6"/>
<line x1="404.15" y1="411" x2="404.15" y2="439.8" stroke="#ff2222" stroke-width="1"/>
<circle cx="404.15" cy="411" r="0.6" fill="#ff2a2a"/>
<circle cx="404.15" cy="439.8" r="0.6" fill="#ff2a2a"/>
<text x="403.95" y="524.5" font-size="8.4" text-anchor="middle" fill="#262626">Day7</text>
<rect x="442.1" y="426.6" width="19.3" height="85.2" fill="#0612c6"/>
<line x1="451.75" y1="410.4" x2="451.75" y2="443" stroke="#ff2222" stroke-width="1"/>
<circle cx="451.75" cy="410.4" r="0.6" fill="#ff2a2a"/>
<circle cx="451.75" cy="443" r="0.6" fill="#ff2a2a"/>
<text x="451.55" y="524.5" font-size="8.4" text-anchor="middle" fill="#262626">Day24</text>
<rect x="490.2" y="439" width="19.3" height="72.8" fill="#0612c6"/>
<line x1="499.85" y1="437.6" x2="499.85" y2="440.4" stroke="#ff2222" stroke-width="1"/>
<circle cx="499.85" cy="437.6" r="0.6" fill="#ff2a2a"/>
<circle cx="499.85" cy="440.4" r="0.6" fill="#ff2a2a"/>
<text x="499.65" y="524.5" font-size="8.4" text-anchor="middle" fill="#262626">Day 30</text>
</g>
</svg>
</body>
</html>
